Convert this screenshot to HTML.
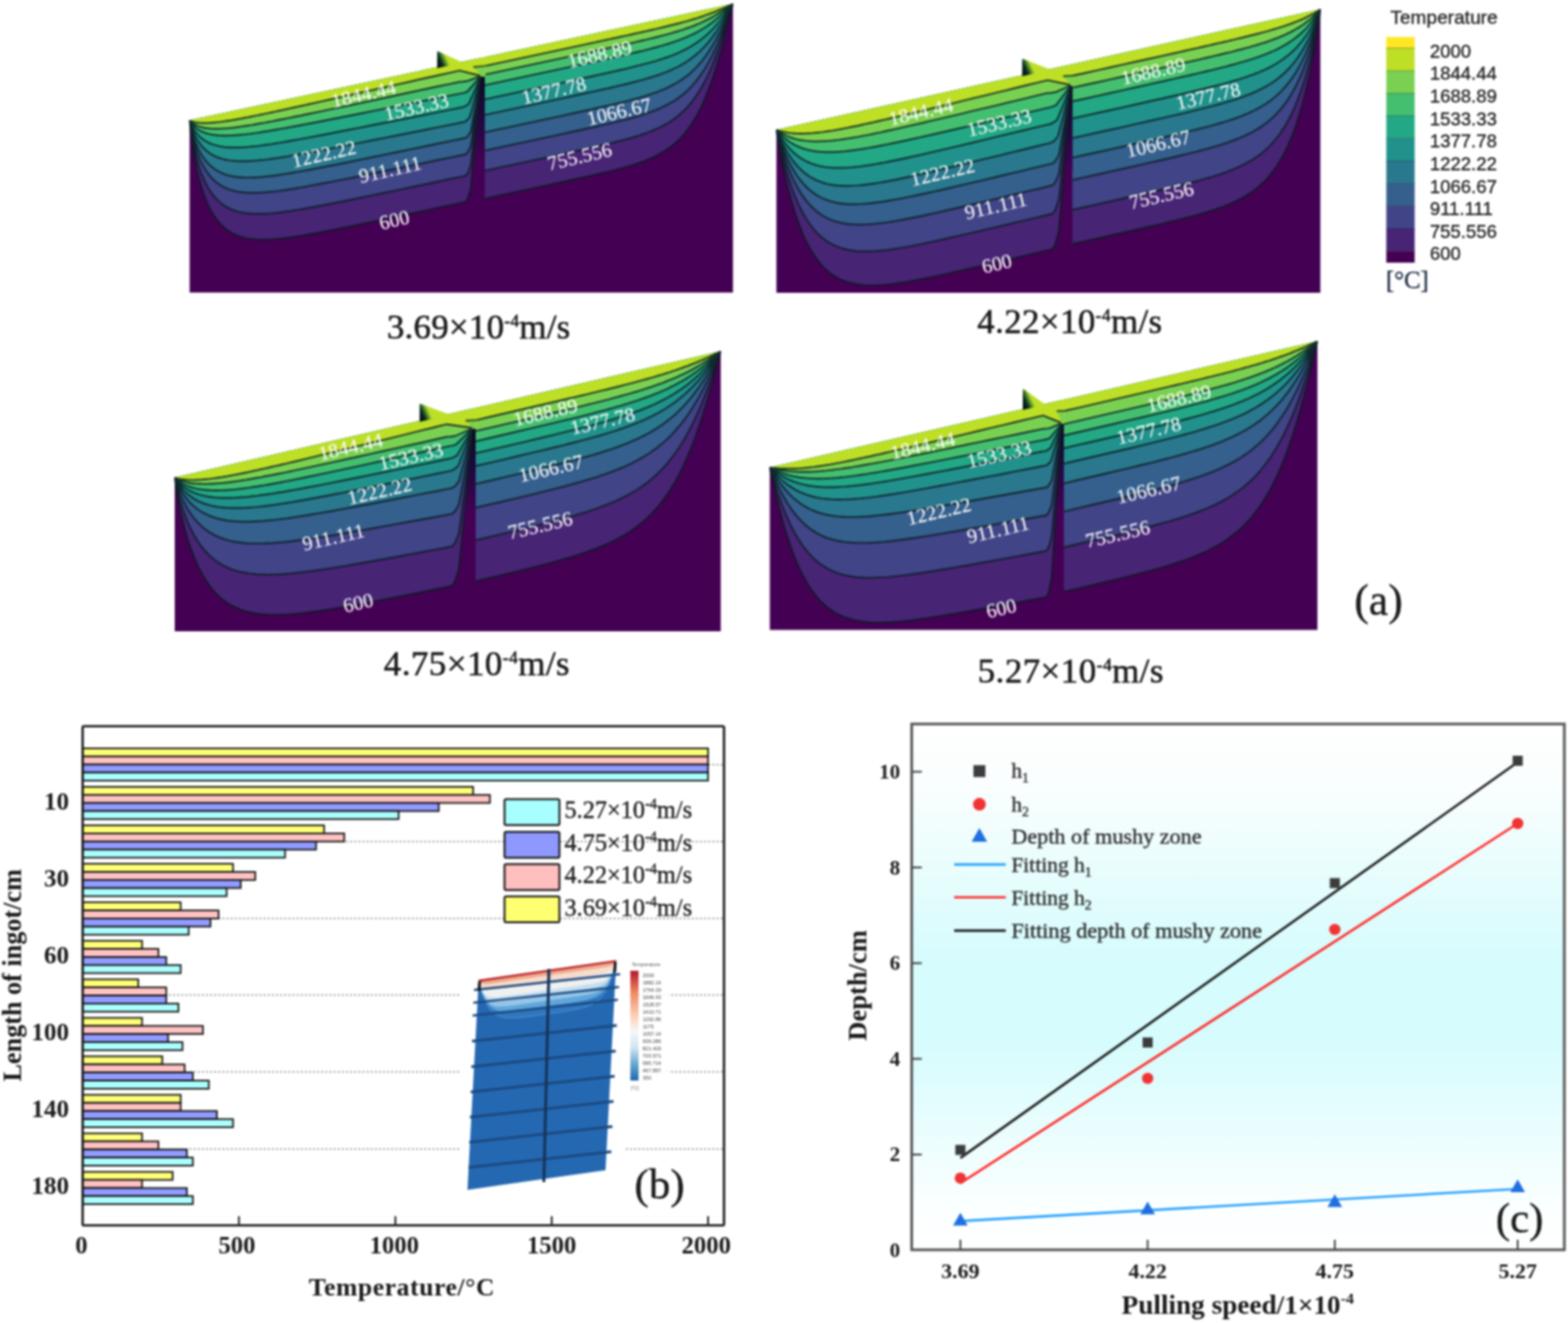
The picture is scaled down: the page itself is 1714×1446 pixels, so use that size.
<!DOCTYPE html>
<html><head><meta charset="utf-8"><title>Figure</title>
<style>
html,body{margin:0;padding:0;background:#fff;}
body{width:1714px;height:1446px;overflow:hidden;}
svg{display:block;}
text{font-family:"Liberation Serif","DejaVu Serif",serif;}
.cl{font-size:22px;fill:#fcfcfc;stroke:#fcfcfc;stroke-width:0.12px;text-anchor:middle;}
.cap{font-size:38px;fill:#1a1a1a;}
.sans{font-family:"Liberation Sans","DejaVu Sans",sans-serif;}
.b{font-weight:bold;}
</style></head><body>
<svg width="1714" height="1446" viewBox="0 0 1714 1446">
<rect width="1714" height="1446" fill="#fff"/>
<defs><filter id="soft" x="-2%" y="-2%" width="104%" height="104%" color-interpolation-filters="sRGB"><feGaussianBlur stdDeviation="0.9"/></filter></defs>
<g filter="url(#soft)">
<g id="panels">
<g><path d="M207.3 131.5 L801.2 4.3 L801.2 319.7 L207.3 319.7Z" fill="#440154"/>
<path d="M207.3 131.5 L207.3 131.5 L209.3 151 L211.3 164.6 L213.3 175.9 L215.3 185.6 L217.3 193.9 L219.3 201.3 L221.3 207.8 L223.3 213.6 L225.3 218.8 L227.3 223.4 L229.3 227.6 L231.3 231.3 L233.3 234.7 L235.3 237.7 L237.3 240.5 L239.3 242.9 L241.3 245.2 L243.3 247.2 L245.3 249 L247.3 250.6 L249.3 252.1 L251.3 253.4 L253.3 254.6 L255.3 255.6 L257.3 256.6 L259.3 257.4 L261.3 258.2 L263.3 258.8 L265.3 259.4 L267.3 259.9 L269.3 260.4 L271.3 260.7 L273.3 261 L275.3 261.3 L277.3 261.5 L281.3 261.8 L285.3 262 L289.3 262 L293.3 261.8 L297.3 261.6 L301.3 261.3 L305.3 261 L309.3 260.5 L313.3 260.1 L317.3 259.5 L321.3 258.9 L325.3 258.3 L329.3 257.7 L333.3 257 L337.3 256.3 L351.3 253.8 L365.3 251 L379.3 248.2 L393.3 245.3 L407.3 242.4 L421.3 239.4 L435.3 236.4 L449.3 233.4 L463.3 230.4 L477.3 227.4 L491.3 224.4 L505.3 221.4 L509.2 220.5 L511.6 216.4 L514.7 205.4 L526 83 L526 63.2Z" fill="#482475"/>
<path d="M207.3 131.5 L207.3 131.5 L209.3 147.1 L211.3 158.1 L213.3 167.1 L215.3 174.8 L217.3 181.5 L219.3 187.3 L221.3 192.5 L223.3 197.1 L225.3 201.2 L227.3 204.9 L229.3 208.2 L231.3 211.1 L233.3 213.7 L235.3 216.1 L237.3 218.2 L239.3 220.2 L241.3 221.9 L243.3 223.4 L245.3 224.8 L247.3 226.1 L249.3 227.2 L251.3 228.2 L253.3 229 L255.3 229.8 L257.3 230.5 L259.3 231.1 L261.3 231.6 L263.3 232.1 L265.3 232.5 L267.3 232.8 L269.3 233.1 L271.3 233.3 L273.3 233.5 L275.3 233.7 L277.3 233.8 L281.3 233.8 L285.3 233.8 L289.3 233.7 L293.3 233.4 L297.3 233.1 L301.3 232.7 L305.3 232.3 L309.3 231.8 L313.3 231.2 L317.3 230.7 L321.3 230 L325.3 229.4 L329.3 228.7 L333.3 228 L337.3 227.3 L351.3 224.7 L365.3 222 L379.3 219.2 L393.3 216.3 L407.3 213.4 L421.3 210.5 L435.3 207.6 L449.3 204.7 L463.3 201.7 L477.3 198.8 L491.3 195.8 L505.3 192.9 L509.2 192 L511.6 188.8 L514.7 180 L526 83 L526 63.2Z" fill="#414487"/>
<path d="M207.3 131.5 L207.3 131.5 L209.3 143.9 L211.3 152.6 L213.3 159.8 L215.3 165.9 L217.3 171.1 L219.3 175.8 L221.3 179.8 L223.3 183.4 L225.3 186.7 L227.3 189.5 L229.3 192.1 L231.3 194.4 L233.3 196.4 L235.3 198.2 L237.3 199.9 L239.3 201.3 L241.3 202.6 L243.3 203.8 L245.3 204.8 L247.3 205.8 L249.3 206.6 L251.3 207.3 L253.3 207.9 L255.3 208.5 L257.3 209 L259.3 209.4 L261.3 209.7 L263.3 210 L265.3 210.2 L267.3 210.4 L269.3 210.6 L271.3 210.7 L273.3 210.8 L275.3 210.8 L277.3 210.8 L281.3 210.7 L285.3 210.6 L289.3 210.3 L293.3 210 L297.3 209.5 L301.3 209.1 L305.3 208.6 L309.3 208 L313.3 207.5 L317.3 206.8 L321.3 206.2 L325.3 205.5 L329.3 204.9 L333.3 204.2 L337.3 203.4 L351.3 200.8 L365.3 198.1 L379.3 195.4 L393.3 192.5 L407.3 189.7 L421.3 186.8 L435.3 184 L449.3 181.1 L463.3 178.2 L477.3 175.3 L491.3 172.4 L505.3 169.5 L509.2 168.7 L511.6 166.2 L514.7 159.3 L526 83 L526 63.2Z" fill="#355f8d"/>
<path d="M207.3 131.5 L207.3 131.5 L209.3 141.6 L211.3 148.7 L213.3 154.5 L215.3 159.4 L217.3 163.7 L219.3 167.4 L221.3 170.7 L223.3 173.5 L225.3 176.1 L227.3 178.4 L229.3 180.4 L231.3 182.2 L233.3 183.8 L235.3 185.2 L237.3 186.5 L239.3 187.6 L241.3 188.6 L243.3 189.5 L245.3 190.3 L247.3 191 L249.3 191.6 L251.3 192.1 L253.3 192.5 L255.3 192.9 L257.3 193.2 L259.3 193.5 L261.3 193.7 L263.3 193.8 L265.3 194 L267.3 194.1 L269.3 194.1 L271.3 194.1 L273.3 194.1 L275.3 194.1 L277.3 194 L281.3 193.8 L285.3 193.5 L289.3 193.1 L293.3 192.7 L297.3 192.2 L301.3 191.7 L305.3 191.1 L309.3 190.5 L313.3 189.9 L317.3 189.2 L321.3 188.5 L325.3 187.9 L329.3 187.1 L333.3 186.4 L337.3 185.7 L351.3 183 L365.3 180.3 L379.3 177.5 L393.3 174.6 L407.3 171.8 L421.3 168.9 L435.3 166 L449.3 163.1 L463.3 160.2 L477.3 157.3 L491.3 154.4 L505.3 151.5 L509.2 150.7 L511.6 148.7 L514.7 143.3 L526 83 L526 63.2Z" fill="#2a788e"/>
<path d="M207.3 131.5 L207.3 131.5 L209.3 139.1 L211.3 144.3 L213.3 148.6 L215.3 152.2 L217.3 155.4 L219.3 158.1 L221.3 160.5 L223.3 162.6 L225.3 164.4 L227.3 166 L229.3 167.5 L231.3 168.8 L233.3 169.9 L235.3 170.9 L237.3 171.8 L239.3 172.5 L241.3 173.2 L243.3 173.8 L245.3 174.3 L247.3 174.7 L249.3 175.1 L251.3 175.4 L253.3 175.6 L255.3 175.8 L257.3 176 L259.3 176.1 L261.3 176.2 L263.3 176.2 L265.3 176.2 L267.3 176.2 L269.3 176.2 L271.3 176.1 L273.3 176 L275.3 175.9 L277.3 175.7 L281.3 175.4 L285.3 175 L289.3 174.6 L293.3 174.1 L297.3 173.5 L301.3 173 L305.3 172.4 L309.3 171.7 L313.3 171.1 L317.3 170.4 L321.3 169.7 L325.3 169 L329.3 168.3 L333.3 167.6 L337.3 166.9 L351.3 164.3 L365.3 161.6 L379.3 158.9 L393.3 156.1 L407.3 153.3 L421.3 150.6 L435.3 147.8 L449.3 145 L463.3 142.2 L477.3 139.4 L491.3 136.6 L505.3 133.8 L507.5 133.4 L510.1 131.9 L513.6 127.8 L526 83 L526 63.2Z" fill="#21918c"/>
<path d="M207.3 131.5 L207.3 131.5 L209.3 136.9 L211.3 140.6 L213.3 143.6 L215.3 146.2 L217.3 148.4 L219.3 150.2 L221.3 151.9 L223.3 153.3 L225.3 154.5 L227.3 155.6 L229.3 156.6 L231.3 157.4 L233.3 158.1 L235.3 158.7 L237.3 159.2 L239.3 159.7 L241.3 160.1 L243.3 160.4 L245.3 160.7 L247.3 160.9 L249.3 161 L251.3 161.2 L253.3 161.2 L255.3 161.3 L257.3 161.3 L259.3 161.3 L261.3 161.2 L263.3 161.1 L265.3 161 L267.3 160.9 L269.3 160.8 L271.3 160.6 L273.3 160.4 L275.3 160.2 L277.3 160 L281.3 159.6 L285.3 159.1 L289.3 158.5 L293.3 158 L297.3 157.4 L301.3 156.7 L305.3 156.1 L309.3 155.4 L313.3 154.7 L317.3 154 L321.3 153.3 L325.3 152.6 L329.3 151.9 L333.3 151.1 L337.3 150.4 L351.3 147.7 L365.3 145 L379.3 142.3 L393.3 139.6 L407.3 136.8 L421.3 134 L435.3 131.2 L449.3 128.5 L463.3 125.7 L477.3 122.9 L491.3 120.1 L505.3 117.3 L505.8 117.2 L508.6 116.2 L512.5 113.5 L526 83 L526 63.2Z" fill="#22a884"/>
<path d="M207.3 131.5 L207.3 131.5 L209.3 134.9 L211.3 137.3 L213.3 139.1 L215.3 140.7 L217.3 142 L219.3 143.1 L221.3 144 L223.3 144.8 L225.3 145.5 L227.3 146.1 L229.3 146.6 L231.3 147 L233.3 147.3 L235.3 147.6 L237.3 147.8 L239.3 148 L241.3 148.1 L243.3 148.2 L245.3 148.2 L247.3 148.2 L249.3 148.2 L251.3 148.1 L253.3 148 L255.3 147.9 L257.3 147.8 L259.3 147.7 L261.3 147.5 L263.3 147.3 L265.3 147.1 L267.3 146.9 L269.3 146.7 L271.3 146.4 L273.3 146.2 L275.3 145.9 L277.3 145.6 L281.3 145.1 L285.3 144.5 L289.3 143.8 L293.3 143.2 L297.3 142.5 L301.3 141.8 L305.3 141.1 L309.3 140.4 L313.3 139.7 L317.3 138.9 L321.3 138.2 L325.3 137.5 L329.3 136.7 L333.3 135.9 L337.3 135.2 L351.3 132.5 L365.3 129.7 L379.3 127 L393.3 124.2 L407.3 121.4 L421.3 118.6 L435.3 115.8 L449.3 113 L463.3 110.2 L477.3 107.4 L491.3 104.6 L503.8 102.1 L506.9 101.6 L511.1 100 L526 83 L526 63.2Z" fill="#44bf70"/>
<path d="M207.3 131.5 L207.3 131.5 L209.3 133.8 L211.3 135.2 L213.3 136.4 L215.3 137.3 L217.3 138.1 L219.3 138.7 L221.3 139.3 L223.3 139.7 L225.3 140 L227.3 140.3 L229.3 140.5 L231.3 140.6 L233.3 140.7 L235.3 140.7 L237.3 140.7 L239.3 140.7 L241.3 140.6 L243.3 140.5 L245.3 140.4 L247.3 140.3 L249.3 140.1 L251.3 139.9 L253.3 139.7 L255.3 139.5 L257.3 139.2 L259.3 139 L261.3 138.7 L263.3 138.4 L265.3 138.1 L267.3 137.8 L269.3 137.5 L271.3 137.2 L273.3 136.9 L275.3 136.6 L277.3 136.2 L281.3 135.5 L285.3 134.8 L289.3 134.1 L293.3 133.3 L297.3 132.6 L301.3 131.8 L305.3 131 L309.3 130.2 L313.3 129.4 L317.3 128.6 L321.3 127.8 L325.3 127 L329.3 126.2 L333.3 125.3 L337.3 124.5 L351.3 121.6 L365.3 118.6 L379.3 115.7 L393.3 112.7 L407.3 109.7 L421.3 106.8 L435.3 103.8 L449.3 100.8 L463.3 97.8 L477.3 94.8 L491.3 91.9 L502.4 89.5 L505.7 89.3 L510.2 88.8 L526 83 L526 63.2Z" fill="#7ad151"/>
<path d="M207.3 131.5 L207.3 131.5 L209.3 132.6 L211.3 133.2 L213.3 133.7 L215.3 134 L217.3 134.2 L219.3 134.4 L221.3 134.5 L223.3 134.5 L225.3 134.5 L227.3 134.4 L229.3 134.3 L231.3 134.2 L233.3 134 L235.3 133.8 L237.3 133.6 L239.3 133.4 L241.3 133.2 L243.3 132.9 L245.3 132.6 L247.3 132.3 L249.3 132 L251.3 131.7 L253.3 131.4 L255.3 131 L257.3 130.7 L259.3 130.3 L261.3 130 L263.3 129.6 L265.3 129.2 L267.3 128.8 L269.3 128.5 L271.3 128.1 L273.3 127.7 L275.3 127.3 L277.3 126.9 L281.3 126.1 L285.3 125.2 L289.3 124.4 L293.3 123.6 L297.3 122.7 L301.3 121.9 L305.3 121 L309.3 120.1 L313.3 119.3 L317.3 118.4 L321.3 117.5 L325.3 116.6 L329.3 115.8 L333.3 114.9 L337.3 114 L351.3 110.9 L365.3 107.8 L379.3 104.6 L393.3 101.5 L407.3 98.4 L421.3 95.2 L435.3 92.1 L449.3 89 L463.3 85.8 L477.3 82.7 L491.3 79.6 L502.4 77.1 L526 83 L526 63.2Z" fill="#bddf26"/>
<path d="M530 62.4 L530 217.1 L544 214.1 L558 211.1 L572 208.1 L586 205.1 L600 202.1 L614 199 L628 196 L642 192.9 L646 192 L650 191.1 L654 190.1 L658 189.2 L662 188.3 L666 187.3 L670 186.3 L674 185.3 L678 184.2 L682 183.1 L686 182 L690 180.8 L694 179.6 L698 178.2 L702 176.8 L706 175.3 L710 173.7 L714 171.9 L716 170.9 L718 169.9 L720 168.9 L722 167.8 L724 166.6 L726 165.4 L728 164.1 L730 162.8 L732 161.3 L734 159.8 L736 158.2 L738 156.5 L740 154.7 L742 152.8 L744 150.8 L746 148.6 L748 146.3 L750 143.9 L752 141.3 L754 138.5 L756 135.6 L758 132.5 L760 129.2 L762 125.6 L764 121.9 L766 117.9 L768 113.7 L770 109.2 L772 104.4 L774 99.4 L776 94 L778 88.4 L780 82.5 L782 76.2 L784 69.6 L786 62.7 L788 55.5 L790 47.9 L792 40.2 L794 32.2 L796 24 L798 15.9 L800 8.2 L801.2 4.3Z" fill="#482475"/>
<path d="M530 62.4 L530 186.6 L544 183.6 L558 180.6 L572 177.6 L586 174.6 L600 171.6 L614 168.5 L628 165.5 L642 162.4 L646 161.5 L650 160.6 L654 159.7 L658 158.8 L662 157.9 L666 156.9 L670 156 L674 155 L678 154 L682 152.9 L686 151.8 L690 150.7 L694 149.5 L698 148.3 L702 147 L706 145.6 L710 144.1 L714 142.5 L716 141.7 L718 140.8 L720 139.9 L722 138.9 L724 137.9 L726 136.8 L728 135.7 L730 134.5 L732 133.3 L734 132 L736 130.6 L738 129.2 L740 127.7 L742 126 L744 124.3 L746 122.5 L748 120.6 L750 118.5 L752 116.4 L754 114.1 L756 111.6 L758 109 L760 106.3 L762 103.4 L764 100.3 L766 97 L768 93.5 L770 89.8 L772 85.9 L774 81.8 L776 77.4 L778 72.8 L780 67.9 L782 62.8 L784 57.4 L786 51.8 L788 45.9 L790 39.8 L792 33.5 L794 27 L796 20.4 L798 13.8 L800 7.5 L801.2 4.3Z" fill="#414487"/>
<path d="M530 62.4 L530 164.6 L544 161.6 L558 158.6 L572 155.6 L586 152.6 L600 149.6 L614 146.6 L628 143.5 L642 140.5 L646 139.6 L650 138.7 L654 137.8 L658 136.9 L662 135.9 L666 135 L670 134.1 L674 133.1 L678 132.1 L682 131.1 L686 130.1 L690 129 L694 127.9 L698 126.7 L702 125.5 L706 124.2 L710 122.8 L714 121.3 L716 120.6 L718 119.8 L720 118.9 L722 118.1 L724 117.2 L726 116.2 L728 115.2 L730 114.2 L732 113.1 L734 111.9 L736 110.7 L738 109.5 L740 108.1 L742 106.7 L744 105.2 L746 103.7 L748 102 L750 100.2 L752 98.4 L754 96.4 L756 94.3 L758 92.1 L760 89.8 L762 87.3 L764 84.7 L766 81.9 L768 79 L770 75.9 L772 72.6 L774 69.1 L776 65.4 L778 61.6 L780 57.5 L782 53.2 L784 48.7 L786 44 L788 39.1 L790 33.9 L792 28.7 L794 23.2 L796 17.7 L798 12.2 L800 7 L801.2 4.3Z" fill="#355f8d"/>
<path d="M530 62.4 L530 144.6 L544 141.6 L558 138.6 L572 135.6 L586 132.6 L600 129.6 L614 126.6 L628 123.5 L642 120.5 L646 119.6 L650 118.7 L654 117.8 L658 116.9 L662 116 L666 115.1 L670 114.2 L674 113.2 L678 112.3 L682 111.3 L686 110.3 L690 109.2 L694 108.2 L698 107.1 L702 105.9 L706 104.7 L710 103.4 L714 102.1 L716 101.4 L718 100.7 L720 99.9 L722 99.1 L724 98.3 L726 97.5 L728 96.6 L730 95.7 L732 94.7 L734 93.7 L736 92.6 L738 91.5 L740 90.4 L742 89.2 L744 87.9 L746 86.5 L748 85.1 L750 83.6 L752 82 L754 80.4 L756 78.6 L758 76.8 L760 74.8 L762 72.7 L764 70.5 L766 68.2 L768 65.8 L770 63.2 L772 60.4 L774 57.6 L776 54.5 L778 51.3 L780 48 L782 44.4 L784 40.7 L786 36.8 L788 32.8 L790 28.6 L792 24.3 L794 19.8 L796 15.3 L798 10.8 L800 6.5 L801.2 4.3Z" fill="#2a788e"/>
<path d="M530 62.4 L530 125.6 L544 122.6 L558 119.6 L572 116.6 L586 113.6 L600 110.6 L614 107.6 L628 104.5 L642 101.5 L646 100.6 L650 99.8 L654 98.9 L658 98 L662 97.1 L666 96.2 L670 95.3 L674 94.3 L678 93.4 L682 92.5 L686 91.5 L690 90.5 L694 89.5 L698 88.4 L702 87.3 L706 86.2 L710 85 L714 83.8 L716 83.2 L718 82.5 L720 81.8 L722 81.1 L724 80.4 L726 79.6 L728 78.9 L730 78.1 L732 77.2 L734 76.4 L736 75.4 L738 74.5 L740 73.5 L742 72.5 L744 71.4 L746 70.3 L748 69.1 L750 67.8 L752 66.5 L754 65.1 L756 63.7 L758 62.1 L760 60.5 L762 58.8 L764 57.1 L766 55.2 L768 53.2 L770 51.1 L772 48.9 L774 46.6 L776 44.2 L778 41.6 L780 38.9 L782 36.1 L784 33.2 L786 30.1 L788 26.9 L790 23.6 L792 20.1 L794 16.6 L796 13 L798 9.5 L800 6 L801.2 4.3Z" fill="#21918c"/>
<path d="M530 62.4 L530 108.6 L544 105.6 L558 102.6 L572 99.6 L586 96.6 L600 93.6 L614 90.6 L628 87.6 L642 84.5 L646 83.7 L650 82.8 L654 81.9 L658 81 L662 80.1 L666 79.3 L670 78.4 L674 77.5 L678 76.5 L682 75.6 L686 74.7 L690 73.7 L694 72.7 L698 71.7 L702 70.7 L706 69.7 L710 68.6 L714 67.4 L716 66.9 L718 66.3 L720 65.7 L722 65 L724 64.4 L726 63.7 L728 63 L730 62.3 L732 61.6 L734 60.8 L736 60.1 L738 59.3 L740 58.4 L742 57.5 L744 56.6 L746 55.7 L748 54.7 L750 53.7 L752 52.6 L754 51.5 L756 50.3 L758 49.1 L760 47.8 L762 46.4 L764 45 L766 43.5 L768 42 L770 40.3 L772 38.6 L774 36.8 L776 34.9 L778 32.9 L780 30.8 L782 28.7 L784 26.4 L786 24 L788 21.6 L790 19 L792 16.4 L794 13.7 L796 11 L798 8.3 L800 5.6 L801.2 4.3Z" fill="#22a884"/>
<path d="M530 62.4 L530 93.1 L544 90.1 L558 87.1 L572 84.1 L586 81.1 L600 78.1 L614 75.1 L628 72.1 L642 69.1 L646 68.2 L650 67.3 L654 66.5 L658 65.6 L662 64.7 L666 63.8 L670 62.9 L674 62.1 L678 61.2 L682 60.3 L686 59.3 L690 58.4 L694 57.5 L698 56.5 L702 55.6 L706 54.6 L710 53.6 L714 52.5 L716 52 L718 51.5 L720 50.9 L722 50.3 L724 49.8 L726 49.2 L728 48.6 L730 48 L732 47.3 L734 46.7 L736 46 L738 45.4 L740 44.7 L742 43.9 L744 43.2 L746 42.4 L748 41.6 L750 40.8 L752 39.9 L754 39 L756 38.1 L758 37.2 L760 36.2 L762 35.1 L764 34 L766 32.9 L768 31.7 L770 30.5 L772 29.2 L774 27.8 L776 26.4 L778 25 L780 23.4 L782 21.9 L784 20.2 L786 18.5 L788 16.7 L790 14.9 L792 13 L794 11.1 L796 9.1 L798 7.2 L800 5.3 L801.2 4.3Z" fill="#44bf70"/>
<path d="M530 62.4 L530 81.6 L544 78.6 L558 75.6 L572 72.6 L586 69.6 L600 66.6 L614 63.6 L628 60.6 L642 57.6 L646 56.7 L650 55.8 L654 55 L658 54.1 L662 53.2 L666 52.4 L670 51.5 L674 50.6 L678 49.7 L682 48.9 L686 48 L690 47.1 L694 46.2 L698 45.2 L702 44.3 L706 43.4 L710 42.4 L714 41.5 L716 41 L718 40.5 L720 40 L722 39.4 L724 38.9 L726 38.4 L728 37.9 L730 37.3 L732 36.8 L734 36.2 L736 35.6 L738 35 L740 34.5 L742 33.8 L744 33.2 L746 32.6 L748 31.9 L750 31.2 L752 30.5 L754 29.8 L756 29.1 L758 28.3 L760 27.5 L762 26.7 L764 25.9 L766 25 L768 24.1 L770 23.2 L772 22.2 L774 21.2 L776 20.2 L778 19.1 L780 18 L782 16.8 L784 15.6 L786 14.4 L788 13.1 L790 11.8 L792 10.5 L794 9.1 L796 7.7 L798 6.3 L800 5 L801.2 4.3Z" fill="#7ad151"/>
<path d="M530 62.4 L530 72.1 L544 69.1 L558 66.1 L572 63.1 L586 60.1 L600 57.1 L614 54.1 L628 51.1 L642 48.1 L646 47.2 L650 46.4 L654 45.5 L658 44.6 L662 43.8 L666 42.9 L670 42 L674 41.2 L678 40.3 L682 39.4 L686 38.6 L690 37.7 L694 36.8 L698 35.9 L702 35 L706 34.1 L710 33.2 L714 32.3 L716 31.9 L718 31.4 L720 30.9 L722 30.5 L724 30 L726 29.5 L728 29 L730 28.5 L732 28 L734 27.5 L736 27 L738 26.5 L740 26 L742 25.5 L744 25 L746 24.4 L748 23.9 L750 23.3 L752 22.8 L754 22.2 L756 21.6 L758 21 L760 20.4 L762 19.8 L764 19.1 L766 18.5 L768 17.8 L770 17.1 L772 16.4 L774 15.7 L776 15 L778 14.2 L780 13.5 L782 12.7 L784 11.8 L786 11 L788 10.2 L790 9.3 L792 8.4 L794 7.5 L796 6.6 L798 5.7 L800 4.8 L801.2 4.3Z" fill="#bddf26"/>
<path d="M207.3 131.5 L209.3 151 L211.3 164.6 L213.3 175.9 L215.3 185.6 L217.3 193.9 L219.3 201.3 L221.3 207.8 L223.3 213.6 L225.3 218.8 L227.3 223.4 L229.3 227.6 L231.3 231.3 L233.3 234.7 L235.3 237.7 L237.3 240.5 L239.3 242.9 L241.3 245.2 L243.3 247.2 L245.3 249 L247.3 250.6 L249.3 252.1 L251.3 253.4 L253.3 254.6 L255.3 255.6 L257.3 256.6 L259.3 257.4 L261.3 258.2 L263.3 258.8 L265.3 259.4 L267.3 259.9 L269.3 260.4 L271.3 260.7 L273.3 261 L275.3 261.3 L277.3 261.5 L281.3 261.8 L285.3 262 L289.3 262 L293.3 261.8 L297.3 261.6 L301.3 261.3 L305.3 261 L309.3 260.5 L313.3 260.1 L317.3 259.5 L321.3 258.9 L325.3 258.3 L329.3 257.7 L333.3 257 L337.3 256.3 L351.3 253.8 L365.3 251 L379.3 248.2 L393.3 245.3 L407.3 242.4 L421.3 239.4 L435.3 236.4 L449.3 233.4 L463.3 230.4 L477.3 227.4 L491.3 224.4 L505.3 221.4 L509.2 220.5 L511.6 216.4 L514.7 205.4 L526 83 M207.3 131.5 L209.3 147.1 L211.3 158.1 L213.3 167.1 L215.3 174.8 L217.3 181.5 L219.3 187.3 L221.3 192.5 L223.3 197.1 L225.3 201.2 L227.3 204.9 L229.3 208.2 L231.3 211.1 L233.3 213.7 L235.3 216.1 L237.3 218.2 L239.3 220.2 L241.3 221.9 L243.3 223.4 L245.3 224.8 L247.3 226.1 L249.3 227.2 L251.3 228.2 L253.3 229 L255.3 229.8 L257.3 230.5 L259.3 231.1 L261.3 231.6 L263.3 232.1 L265.3 232.5 L267.3 232.8 L269.3 233.1 L271.3 233.3 L273.3 233.5 L275.3 233.7 L277.3 233.8 L281.3 233.8 L285.3 233.8 L289.3 233.7 L293.3 233.4 L297.3 233.1 L301.3 232.7 L305.3 232.3 L309.3 231.8 L313.3 231.2 L317.3 230.7 L321.3 230 L325.3 229.4 L329.3 228.7 L333.3 228 L337.3 227.3 L351.3 224.7 L365.3 222 L379.3 219.2 L393.3 216.3 L407.3 213.4 L421.3 210.5 L435.3 207.6 L449.3 204.7 L463.3 201.7 L477.3 198.8 L491.3 195.8 L505.3 192.9 L509.2 192 L511.6 188.8 L514.7 180 L526 83 M207.3 131.5 L209.3 143.9 L211.3 152.6 L213.3 159.8 L215.3 165.9 L217.3 171.1 L219.3 175.8 L221.3 179.8 L223.3 183.4 L225.3 186.7 L227.3 189.5 L229.3 192.1 L231.3 194.4 L233.3 196.4 L235.3 198.2 L237.3 199.9 L239.3 201.3 L241.3 202.6 L243.3 203.8 L245.3 204.8 L247.3 205.8 L249.3 206.6 L251.3 207.3 L253.3 207.9 L255.3 208.5 L257.3 209 L259.3 209.4 L261.3 209.7 L263.3 210 L265.3 210.2 L267.3 210.4 L269.3 210.6 L271.3 210.7 L273.3 210.8 L275.3 210.8 L277.3 210.8 L281.3 210.7 L285.3 210.6 L289.3 210.3 L293.3 210 L297.3 209.5 L301.3 209.1 L305.3 208.6 L309.3 208 L313.3 207.5 L317.3 206.8 L321.3 206.2 L325.3 205.5 L329.3 204.9 L333.3 204.2 L337.3 203.4 L351.3 200.8 L365.3 198.1 L379.3 195.4 L393.3 192.5 L407.3 189.7 L421.3 186.8 L435.3 184 L449.3 181.1 L463.3 178.2 L477.3 175.3 L491.3 172.4 L505.3 169.5 L509.2 168.7 L511.6 166.2 L514.7 159.3 L526 83 M207.3 131.5 L209.3 141.6 L211.3 148.7 L213.3 154.5 L215.3 159.4 L217.3 163.7 L219.3 167.4 L221.3 170.7 L223.3 173.5 L225.3 176.1 L227.3 178.4 L229.3 180.4 L231.3 182.2 L233.3 183.8 L235.3 185.2 L237.3 186.5 L239.3 187.6 L241.3 188.6 L243.3 189.5 L245.3 190.3 L247.3 191 L249.3 191.6 L251.3 192.1 L253.3 192.5 L255.3 192.9 L257.3 193.2 L259.3 193.5 L261.3 193.7 L263.3 193.8 L265.3 194 L267.3 194.1 L269.3 194.1 L271.3 194.1 L273.3 194.1 L275.3 194.1 L277.3 194 L281.3 193.8 L285.3 193.5 L289.3 193.1 L293.3 192.7 L297.3 192.2 L301.3 191.7 L305.3 191.1 L309.3 190.5 L313.3 189.9 L317.3 189.2 L321.3 188.5 L325.3 187.9 L329.3 187.1 L333.3 186.4 L337.3 185.7 L351.3 183 L365.3 180.3 L379.3 177.5 L393.3 174.6 L407.3 171.8 L421.3 168.9 L435.3 166 L449.3 163.1 L463.3 160.2 L477.3 157.3 L491.3 154.4 L505.3 151.5 L509.2 150.7 L511.6 148.7 L514.7 143.3 L526 83 M207.3 131.5 L209.3 139.1 L211.3 144.3 L213.3 148.6 L215.3 152.2 L217.3 155.4 L219.3 158.1 L221.3 160.5 L223.3 162.6 L225.3 164.4 L227.3 166 L229.3 167.5 L231.3 168.8 L233.3 169.9 L235.3 170.9 L237.3 171.8 L239.3 172.5 L241.3 173.2 L243.3 173.8 L245.3 174.3 L247.3 174.7 L249.3 175.1 L251.3 175.4 L253.3 175.6 L255.3 175.8 L257.3 176 L259.3 176.1 L261.3 176.2 L263.3 176.2 L265.3 176.2 L267.3 176.2 L269.3 176.2 L271.3 176.1 L273.3 176 L275.3 175.9 L277.3 175.7 L281.3 175.4 L285.3 175 L289.3 174.6 L293.3 174.1 L297.3 173.5 L301.3 173 L305.3 172.4 L309.3 171.7 L313.3 171.1 L317.3 170.4 L321.3 169.7 L325.3 169 L329.3 168.3 L333.3 167.6 L337.3 166.9 L351.3 164.3 L365.3 161.6 L379.3 158.9 L393.3 156.1 L407.3 153.3 L421.3 150.6 L435.3 147.8 L449.3 145 L463.3 142.2 L477.3 139.4 L491.3 136.6 L505.3 133.8 L507.5 133.4 L510.1 131.9 L513.6 127.8 L526 83 M207.3 131.5 L209.3 136.9 L211.3 140.6 L213.3 143.6 L215.3 146.2 L217.3 148.4 L219.3 150.2 L221.3 151.9 L223.3 153.3 L225.3 154.5 L227.3 155.6 L229.3 156.6 L231.3 157.4 L233.3 158.1 L235.3 158.7 L237.3 159.2 L239.3 159.7 L241.3 160.1 L243.3 160.4 L245.3 160.7 L247.3 160.9 L249.3 161 L251.3 161.2 L253.3 161.2 L255.3 161.3 L257.3 161.3 L259.3 161.3 L261.3 161.2 L263.3 161.1 L265.3 161 L267.3 160.9 L269.3 160.8 L271.3 160.6 L273.3 160.4 L275.3 160.2 L277.3 160 L281.3 159.6 L285.3 159.1 L289.3 158.5 L293.3 158 L297.3 157.4 L301.3 156.7 L305.3 156.1 L309.3 155.4 L313.3 154.7 L317.3 154 L321.3 153.3 L325.3 152.6 L329.3 151.9 L333.3 151.1 L337.3 150.4 L351.3 147.7 L365.3 145 L379.3 142.3 L393.3 139.6 L407.3 136.8 L421.3 134 L435.3 131.2 L449.3 128.5 L463.3 125.7 L477.3 122.9 L491.3 120.1 L505.3 117.3 L505.8 117.2 L508.6 116.2 L512.5 113.5 L526 83 M207.3 131.5 L209.3 134.9 L211.3 137.3 L213.3 139.1 L215.3 140.7 L217.3 142 L219.3 143.1 L221.3 144 L223.3 144.8 L225.3 145.5 L227.3 146.1 L229.3 146.6 L231.3 147 L233.3 147.3 L235.3 147.6 L237.3 147.8 L239.3 148 L241.3 148.1 L243.3 148.2 L245.3 148.2 L247.3 148.2 L249.3 148.2 L251.3 148.1 L253.3 148 L255.3 147.9 L257.3 147.8 L259.3 147.7 L261.3 147.5 L263.3 147.3 L265.3 147.1 L267.3 146.9 L269.3 146.7 L271.3 146.4 L273.3 146.2 L275.3 145.9 L277.3 145.6 L281.3 145.1 L285.3 144.5 L289.3 143.8 L293.3 143.2 L297.3 142.5 L301.3 141.8 L305.3 141.1 L309.3 140.4 L313.3 139.7 L317.3 138.9 L321.3 138.2 L325.3 137.5 L329.3 136.7 L333.3 135.9 L337.3 135.2 L351.3 132.5 L365.3 129.7 L379.3 127 L393.3 124.2 L407.3 121.4 L421.3 118.6 L435.3 115.8 L449.3 113 L463.3 110.2 L477.3 107.4 L491.3 104.6 L503.8 102.1 L506.9 101.6 L511.1 100 L526 83 M207.3 131.5 L209.3 133.8 L211.3 135.2 L213.3 136.4 L215.3 137.3 L217.3 138.1 L219.3 138.7 L221.3 139.3 L223.3 139.7 L225.3 140 L227.3 140.3 L229.3 140.5 L231.3 140.6 L233.3 140.7 L235.3 140.7 L237.3 140.7 L239.3 140.7 L241.3 140.6 L243.3 140.5 L245.3 140.4 L247.3 140.3 L249.3 140.1 L251.3 139.9 L253.3 139.7 L255.3 139.5 L257.3 139.2 L259.3 139 L261.3 138.7 L263.3 138.4 L265.3 138.1 L267.3 137.8 L269.3 137.5 L271.3 137.2 L273.3 136.9 L275.3 136.6 L277.3 136.2 L281.3 135.5 L285.3 134.8 L289.3 134.1 L293.3 133.3 L297.3 132.6 L301.3 131.8 L305.3 131 L309.3 130.2 L313.3 129.4 L317.3 128.6 L321.3 127.8 L325.3 127 L329.3 126.2 L333.3 125.3 L337.3 124.5 L351.3 121.6 L365.3 118.6 L379.3 115.7 L393.3 112.7 L407.3 109.7 L421.3 106.8 L435.3 103.8 L449.3 100.8 L463.3 97.8 L477.3 94.8 L491.3 91.9 L502.4 89.5 L505.7 89.3 L510.2 88.8 L526 83 M207.3 131.5 L209.3 132.6 L211.3 133.2 L213.3 133.7 L215.3 134 L217.3 134.2 L219.3 134.4 L221.3 134.5 L223.3 134.5 L225.3 134.5 L227.3 134.4 L229.3 134.3 L231.3 134.2 L233.3 134 L235.3 133.8 L237.3 133.6 L239.3 133.4 L241.3 133.2 L243.3 132.9 L245.3 132.6 L247.3 132.3 L249.3 132 L251.3 131.7 L253.3 131.4 L255.3 131 L257.3 130.7 L259.3 130.3 L261.3 130 L263.3 129.6 L265.3 129.2 L267.3 128.8 L269.3 128.5 L271.3 128.1 L273.3 127.7 L275.3 127.3 L277.3 126.9 L281.3 126.1 L285.3 125.2 L289.3 124.4 L293.3 123.6 L297.3 122.7 L301.3 121.9 L305.3 121 L309.3 120.1 L313.3 119.3 L317.3 118.4 L321.3 117.5 L325.3 116.6 L329.3 115.8 L333.3 114.9 L337.3 114 L351.3 110.9 L365.3 107.8 L379.3 104.6 L393.3 101.5 L407.3 98.4 L421.3 95.2 L435.3 92.1 L449.3 89 L463.3 85.8 L477.3 82.7 L491.3 79.6 L502.4 77.1 L526 83 M530 217.1 L544 214.1 L558 211.1 L572 208.1 L586 205.1 L600 202.1 L614 199 L628 196 L642 192.9 L646 192 L650 191.1 L654 190.1 L658 189.2 L662 188.3 L666 187.3 L670 186.3 L674 185.3 L678 184.2 L682 183.1 L686 182 L690 180.8 L694 179.6 L698 178.2 L702 176.8 L706 175.3 L710 173.7 L714 171.9 L716 170.9 L718 169.9 L720 168.9 L722 167.8 L724 166.6 L726 165.4 L728 164.1 L730 162.8 L732 161.3 L734 159.8 L736 158.2 L738 156.5 L740 154.7 L742 152.8 L744 150.8 L746 148.6 L748 146.3 L750 143.9 L752 141.3 L754 138.5 L756 135.6 L758 132.5 L760 129.2 L762 125.6 L764 121.9 L766 117.9 L768 113.7 L770 109.2 L772 104.4 L774 99.4 L776 94 L778 88.4 L780 82.5 L782 76.2 L784 69.6 L786 62.7 L788 55.5 L790 47.9 L792 40.2 L794 32.2 L796 24 L798 15.9 L800 8.2 L801.2 4.3 M530 186.6 L544 183.6 L558 180.6 L572 177.6 L586 174.6 L600 171.6 L614 168.5 L628 165.5 L642 162.4 L646 161.5 L650 160.6 L654 159.7 L658 158.8 L662 157.9 L666 156.9 L670 156 L674 155 L678 154 L682 152.9 L686 151.8 L690 150.7 L694 149.5 L698 148.3 L702 147 L706 145.6 L710 144.1 L714 142.5 L716 141.7 L718 140.8 L720 139.9 L722 138.9 L724 137.9 L726 136.8 L728 135.7 L730 134.5 L732 133.3 L734 132 L736 130.6 L738 129.2 L740 127.7 L742 126 L744 124.3 L746 122.5 L748 120.6 L750 118.5 L752 116.4 L754 114.1 L756 111.6 L758 109 L760 106.3 L762 103.4 L764 100.3 L766 97 L768 93.5 L770 89.8 L772 85.9 L774 81.8 L776 77.4 L778 72.8 L780 67.9 L782 62.8 L784 57.4 L786 51.8 L788 45.9 L790 39.8 L792 33.5 L794 27 L796 20.4 L798 13.8 L800 7.5 L801.2 4.3 M530 164.6 L544 161.6 L558 158.6 L572 155.6 L586 152.6 L600 149.6 L614 146.6 L628 143.5 L642 140.5 L646 139.6 L650 138.7 L654 137.8 L658 136.9 L662 135.9 L666 135 L670 134.1 L674 133.1 L678 132.1 L682 131.1 L686 130.1 L690 129 L694 127.9 L698 126.7 L702 125.5 L706 124.2 L710 122.8 L714 121.3 L716 120.6 L718 119.8 L720 118.9 L722 118.1 L724 117.2 L726 116.2 L728 115.2 L730 114.2 L732 113.1 L734 111.9 L736 110.7 L738 109.5 L740 108.1 L742 106.7 L744 105.2 L746 103.7 L748 102 L750 100.2 L752 98.4 L754 96.4 L756 94.3 L758 92.1 L760 89.8 L762 87.3 L764 84.7 L766 81.9 L768 79 L770 75.9 L772 72.6 L774 69.1 L776 65.4 L778 61.6 L780 57.5 L782 53.2 L784 48.7 L786 44 L788 39.1 L790 33.9 L792 28.7 L794 23.2 L796 17.7 L798 12.2 L800 7 L801.2 4.3 M530 144.6 L544 141.6 L558 138.6 L572 135.6 L586 132.6 L600 129.6 L614 126.6 L628 123.5 L642 120.5 L646 119.6 L650 118.7 L654 117.8 L658 116.9 L662 116 L666 115.1 L670 114.2 L674 113.2 L678 112.3 L682 111.3 L686 110.3 L690 109.2 L694 108.2 L698 107.1 L702 105.9 L706 104.7 L710 103.4 L714 102.1 L716 101.4 L718 100.7 L720 99.9 L722 99.1 L724 98.3 L726 97.5 L728 96.6 L730 95.7 L732 94.7 L734 93.7 L736 92.6 L738 91.5 L740 90.4 L742 89.2 L744 87.9 L746 86.5 L748 85.1 L750 83.6 L752 82 L754 80.4 L756 78.6 L758 76.8 L760 74.8 L762 72.7 L764 70.5 L766 68.2 L768 65.8 L770 63.2 L772 60.4 L774 57.6 L776 54.5 L778 51.3 L780 48 L782 44.4 L784 40.7 L786 36.8 L788 32.8 L790 28.6 L792 24.3 L794 19.8 L796 15.3 L798 10.8 L800 6.5 L801.2 4.3 M530 125.6 L544 122.6 L558 119.6 L572 116.6 L586 113.6 L600 110.6 L614 107.6 L628 104.5 L642 101.5 L646 100.6 L650 99.8 L654 98.9 L658 98 L662 97.1 L666 96.2 L670 95.3 L674 94.3 L678 93.4 L682 92.5 L686 91.5 L690 90.5 L694 89.5 L698 88.4 L702 87.3 L706 86.2 L710 85 L714 83.8 L716 83.2 L718 82.5 L720 81.8 L722 81.1 L724 80.4 L726 79.6 L728 78.9 L730 78.1 L732 77.2 L734 76.4 L736 75.4 L738 74.5 L740 73.5 L742 72.5 L744 71.4 L746 70.3 L748 69.1 L750 67.8 L752 66.5 L754 65.1 L756 63.7 L758 62.1 L760 60.5 L762 58.8 L764 57.1 L766 55.2 L768 53.2 L770 51.1 L772 48.9 L774 46.6 L776 44.2 L778 41.6 L780 38.9 L782 36.1 L784 33.2 L786 30.1 L788 26.9 L790 23.6 L792 20.1 L794 16.6 L796 13 L798 9.5 L800 6 L801.2 4.3 M530 108.6 L544 105.6 L558 102.6 L572 99.6 L586 96.6 L600 93.6 L614 90.6 L628 87.6 L642 84.5 L646 83.7 L650 82.8 L654 81.9 L658 81 L662 80.1 L666 79.3 L670 78.4 L674 77.5 L678 76.5 L682 75.6 L686 74.7 L690 73.7 L694 72.7 L698 71.7 L702 70.7 L706 69.7 L710 68.6 L714 67.4 L716 66.9 L718 66.3 L720 65.7 L722 65 L724 64.4 L726 63.7 L728 63 L730 62.3 L732 61.6 L734 60.8 L736 60.1 L738 59.3 L740 58.4 L742 57.5 L744 56.6 L746 55.7 L748 54.7 L750 53.7 L752 52.6 L754 51.5 L756 50.3 L758 49.1 L760 47.8 L762 46.4 L764 45 L766 43.5 L768 42 L770 40.3 L772 38.6 L774 36.8 L776 34.9 L778 32.9 L780 30.8 L782 28.7 L784 26.4 L786 24 L788 21.6 L790 19 L792 16.4 L794 13.7 L796 11 L798 8.3 L800 5.6 L801.2 4.3 M530 93.1 L544 90.1 L558 87.1 L572 84.1 L586 81.1 L600 78.1 L614 75.1 L628 72.1 L642 69.1 L646 68.2 L650 67.3 L654 66.5 L658 65.6 L662 64.7 L666 63.8 L670 62.9 L674 62.1 L678 61.2 L682 60.3 L686 59.3 L690 58.4 L694 57.5 L698 56.5 L702 55.6 L706 54.6 L710 53.6 L714 52.5 L716 52 L718 51.5 L720 50.9 L722 50.3 L724 49.8 L726 49.2 L728 48.6 L730 48 L732 47.3 L734 46.7 L736 46 L738 45.4 L740 44.7 L742 43.9 L744 43.2 L746 42.4 L748 41.6 L750 40.8 L752 39.9 L754 39 L756 38.1 L758 37.2 L760 36.2 L762 35.1 L764 34 L766 32.9 L768 31.7 L770 30.5 L772 29.2 L774 27.8 L776 26.4 L778 25 L780 23.4 L782 21.9 L784 20.2 L786 18.5 L788 16.7 L790 14.9 L792 13 L794 11.1 L796 9.1 L798 7.2 L800 5.3 L801.2 4.3 M530 81.6 L544 78.6 L558 75.6 L572 72.6 L586 69.6 L600 66.6 L614 63.6 L628 60.6 L642 57.6 L646 56.7 L650 55.8 L654 55 L658 54.1 L662 53.2 L666 52.4 L670 51.5 L674 50.6 L678 49.7 L682 48.9 L686 48 L690 47.1 L694 46.2 L698 45.2 L702 44.3 L706 43.4 L710 42.4 L714 41.5 L716 41 L718 40.5 L720 40 L722 39.4 L724 38.9 L726 38.4 L728 37.9 L730 37.3 L732 36.8 L734 36.2 L736 35.6 L738 35 L740 34.5 L742 33.8 L744 33.2 L746 32.6 L748 31.9 L750 31.2 L752 30.5 L754 29.8 L756 29.1 L758 28.3 L760 27.5 L762 26.7 L764 25.9 L766 25 L768 24.1 L770 23.2 L772 22.2 L774 21.2 L776 20.2 L778 19.1 L780 18 L782 16.8 L784 15.6 L786 14.4 L788 13.1 L790 11.8 L792 10.5 L794 9.1 L796 7.7 L798 6.3 L800 5 L801.2 4.3 M530 72.1 L544 69.1 L558 66.1 L572 63.1 L586 60.1 L600 57.1 L614 54.1 L628 51.1 L642 48.1 L646 47.2 L650 46.4 L654 45.5 L658 44.6 L662 43.8 L666 42.9 L670 42 L674 41.2 L678 40.3 L682 39.4 L686 38.6 L690 37.7 L694 36.8 L698 35.9 L702 35 L706 34.1 L710 33.2 L714 32.3 L716 31.9 L718 31.4 L720 30.9 L722 30.5 L724 30 L726 29.5 L728 29 L730 28.5 L732 28 L734 27.5 L736 27 L738 26.5 L740 26 L742 25.5 L744 25 L746 24.4 L748 23.9 L750 23.3 L752 22.8 L754 22.2 L756 21.6 L758 21 L760 20.4 L762 19.8 L764 19.1 L766 18.5 L768 17.8 L770 17.1 L772 16.4 L774 15.7 L776 15 L778 14.2 L780 13.5 L782 12.7 L784 11.8 L786 11 L788 10.2 L790 9.3 L792 8.4 L794 7.5 L796 6.6 L798 5.7 L800 4.8 L801.2 4.3" fill="none" stroke="#0a1a1e" stroke-width="1.9" stroke-opacity="0.85" stroke-linejoin="round"/>
<path d="M525 63.2 L530.5 62 L530.5 83.6 L525 83.6Z" fill="#bddf26"/>
<path d="M517.4 73.3 L530.5 72.1 L530.5 83.6 L526.5 83.6Z" fill="#7ad151"/>
<path d="M517.4 73.3 L530.5 72.1" stroke="#1a2a10" stroke-width="1.9" fill="none" stroke-opacity="0.8"/>
<linearGradient id="wg1" gradientUnits="userSpaceOnUse" x1="0" y1="83" x2="0" y2="178"><stop offset="0" stop-color="#0c0a20"/><stop offset="0.45" stop-color="#1c0a3c"/><stop offset="1" stop-color="#440154"/></linearGradient>
<path d="M525.7 84 L530 84 L530 178 L517.9 178Z" fill="url(#wg1)"/>
<linearGradient id="ng1" gradientUnits="userSpaceOnUse" x1="478.5" y1="69.4" x2="491.5" y2="63.4"><stop offset="0" stop-color="#04100c"/><stop offset="0.3" stop-color="#0a2e22"/><stop offset="0.55" stop-color="#4f8a2c"/><stop offset="0.8" stop-color="#bddf26"/></linearGradient>
<path d="M477.9 56.2 L479.3 56.2 L503.9 67.6 L503.9 69 L477.9 74.4Z" fill="url(#ng1)"/>
<text x="397.6" y="110.2" transform="rotate(-13 397.6 103.2)" class="cl">1844.44</text>
<text x="455.3" y="124.4" transform="rotate(-13 455.3 117.4)" class="cl">1533.33</text>
<text x="655.6" y="66.7" transform="rotate(-13 655.6 59.7)" class="cl">1688.89</text>
<text x="605.5" y="106.3" transform="rotate(-13 605.5 99.3)" class="cl">1377.78</text>
<text x="676.7" y="129.4" transform="rotate(-13 676.7 122.4)" class="cl">1066.67</text>
<text x="354" y="175.7" transform="rotate(-13 354 168.7)" class="cl">1222.22</text>
<text x="426.4" y="192.6" transform="rotate(-13 426.4 185.6)" class="cl">911.111</text>
<text x="633.6" y="178.3" transform="rotate(-13 633.6 171.3)" class="cl">755.556</text>
<text x="431" y="247.7" transform="rotate(-13 431 240.7)" class="cl">600</text></g>
<g><path d="M848.7 141.9 L1443.3 10.2 L1443.3 320 L848.7 320Z" fill="#440154"/>
<path d="M848.7 141.9 L848.7 141.9 L850.7 153.7 L852.7 164.8 L854.7 175.2 L856.7 184.9 L858.7 194.1 L860.7 202.6 L862.7 210.6 L864.7 218 L866.7 225 L868.7 231.5 L870.7 237.6 L872.7 243.3 L874.7 248.7 L876.7 253.6 L878.7 258.3 L880.7 262.6 L882.7 266.6 L884.7 270.4 L886.7 273.9 L888.7 277.2 L890.7 280.2 L892.7 283 L894.7 285.7 L896.7 288.1 L898.7 290.4 L900.7 292.4 L902.7 294.4 L904.7 296.2 L906.7 297.8 L908.7 299.3 L910.7 300.7 L912.7 302 L914.7 303.2 L916.7 304.3 L918.7 305.3 L922.7 307 L926.7 308.3 L930.7 309.5 L934.7 310.3 L938.7 311 L942.7 311.4 L946.7 311.7 L950.7 311.9 L954.7 311.9 L958.7 311.8 L962.7 311.6 L966.7 311.3 L970.7 310.9 L974.7 310.5 L978.7 310 L992.7 307.9 L1006.7 305.3 L1020.7 302.4 L1034.7 299.4 L1048.7 296.2 L1062.7 293 L1076.7 289.7 L1090.7 286.4 L1104.7 283.1 L1118.7 279.8 L1132.7 276.4 L1146.7 273.1 L1150.8 272.1 L1153.6 266.7 L1157.5 252.4 L1171 93 L1171 70.5Z" fill="#482475"/>
<path d="M848.7 141.9 L848.7 141.9 L850.7 151.4 L852.7 160.3 L854.7 168.6 L856.7 176.4 L858.7 183.6 L860.7 190.4 L862.7 196.8 L864.7 202.8 L866.7 208.3 L868.7 213.5 L870.7 218.3 L872.7 222.9 L874.7 227.1 L876.7 231 L878.7 234.7 L880.7 238.1 L882.7 241.3 L884.7 244.2 L886.7 247 L888.7 249.5 L890.7 251.9 L892.7 254.1 L894.7 256.1 L896.7 258 L898.7 259.7 L900.7 261.3 L902.7 262.8 L904.7 264.1 L906.7 265.4 L908.7 266.5 L910.7 267.5 L912.7 268.5 L914.7 269.4 L916.7 270.1 L918.7 270.8 L922.7 272 L926.7 273 L930.7 273.7 L934.7 274.2 L938.7 274.6 L942.7 274.7 L946.7 274.8 L950.7 274.7 L954.7 274.6 L958.7 274.3 L962.7 274 L966.7 273.5 L970.7 273.1 L974.7 272.5 L978.7 271.9 L992.7 269.6 L1006.7 266.9 L1020.7 263.9 L1034.7 260.8 L1048.7 257.6 L1062.7 254.4 L1076.7 251.1 L1090.7 247.8 L1104.7 244.5 L1118.7 241.1 L1132.7 237.8 L1146.7 234.5 L1150.8 233.5 L1153.6 229.3 L1157.5 218 L1171 93 L1171 70.5Z" fill="#414487"/>
<path d="M848.7 141.9 L848.7 141.9 L850.7 149.5 L852.7 156.7 L854.7 163.3 L856.7 169.5 L858.7 175.4 L860.7 180.8 L862.7 185.9 L864.7 190.6 L866.7 195.1 L868.7 199.2 L870.7 203 L872.7 206.6 L874.7 209.9 L876.7 213 L878.7 215.9 L880.7 218.6 L882.7 221.1 L884.7 223.4 L886.7 225.5 L888.7 227.5 L890.7 229.3 L892.7 231 L894.7 232.6 L896.7 234 L898.7 235.3 L900.7 236.5 L902.7 237.6 L904.7 238.6 L906.7 239.6 L908.7 240.4 L910.7 241.1 L912.7 241.8 L914.7 242.4 L916.7 243 L918.7 243.4 L922.7 244.2 L926.7 244.8 L930.7 245.2 L934.7 245.4 L938.7 245.5 L942.7 245.5 L946.7 245.4 L950.7 245.1 L954.7 244.8 L958.7 244.4 L962.7 243.9 L966.7 243.4 L970.7 242.9 L974.7 242.2 L978.7 241.6 L992.7 239 L1006.7 236.2 L1020.7 233.1 L1034.7 230 L1048.7 226.8 L1062.7 223.5 L1076.7 220.2 L1090.7 216.9 L1104.7 213.5 L1118.7 210.2 L1132.7 206.8 L1146.7 203.5 L1150.8 202.5 L1153.6 199.2 L1157.5 190.4 L1171 93 L1171 70.5Z" fill="#355f8d"/>
<path d="M848.7 141.9 L848.7 141.9 L850.7 148.1 L852.7 153.9 L854.7 159.2 L856.7 164.3 L858.7 169 L860.7 173.4 L862.7 177.4 L864.7 181.3 L866.7 184.8 L868.7 188.1 L870.7 191.2 L872.7 194 L874.7 196.7 L876.7 199.1 L878.7 201.4 L880.7 203.5 L882.7 205.5 L884.7 207.3 L886.7 209 L888.7 210.5 L890.7 211.9 L892.7 213.2 L894.7 214.4 L896.7 215.5 L898.7 216.5 L900.7 217.4 L902.7 218.2 L904.7 218.9 L906.7 219.6 L908.7 220.2 L910.7 220.7 L912.7 221.2 L914.7 221.6 L916.7 222 L918.7 222.3 L922.7 222.7 L926.7 223 L930.7 223.2 L934.7 223.2 L938.7 223.1 L942.7 222.9 L946.7 222.6 L950.7 222.3 L954.7 221.8 L958.7 221.3 L962.7 220.8 L966.7 220.2 L970.7 219.5 L974.7 218.8 L978.7 218.1 L992.7 215.4 L1006.7 212.5 L1020.7 209.4 L1034.7 206.2 L1048.7 202.9 L1062.7 199.6 L1076.7 196.3 L1090.7 193 L1104.7 189.6 L1118.7 186.3 L1132.7 182.9 L1146.7 179.6 L1150.8 178.6 L1153.6 176 L1157.5 169.2 L1171 93 L1171 70.5Z" fill="#2a788e"/>
<path d="M848.7 141.9 L848.7 141.9 L850.7 146.8 L852.7 151.3 L854.7 155.6 L856.7 159.5 L858.7 163.2 L860.7 166.7 L862.7 169.9 L864.7 172.8 L866.7 175.6 L868.7 178.1 L870.7 180.5 L872.7 182.7 L874.7 184.7 L876.7 186.6 L878.7 188.3 L880.7 189.9 L882.7 191.4 L884.7 192.8 L886.7 194 L888.7 195.1 L890.7 196.2 L892.7 197.1 L894.7 197.9 L896.7 198.7 L898.7 199.4 L900.7 200 L902.7 200.6 L904.7 201.1 L906.7 201.5 L908.7 201.9 L910.7 202.2 L912.7 202.5 L914.7 202.7 L916.7 202.9 L918.7 203 L922.7 203.2 L926.7 203.2 L930.7 203.1 L934.7 202.9 L938.7 202.6 L942.7 202.2 L946.7 201.8 L950.7 201.3 L954.7 200.7 L958.7 200.1 L962.7 199.4 L966.7 198.7 L970.7 198 L974.7 197.2 L978.7 196.5 L992.7 193.5 L1006.7 190.4 L1020.7 187.2 L1034.7 183.9 L1048.7 180.5 L1062.7 177.2 L1076.7 173.7 L1090.7 170.3 L1104.7 166.9 L1118.7 163.5 L1132.7 160 L1146.7 156.6 L1149.4 155.9 L1152.4 154 L1156.5 149 L1171 93 L1171 70.5Z" fill="#21918c"/>
<path d="M848.7 141.9 L848.7 141.9 L850.7 145.4 L852.7 148.7 L854.7 151.8 L856.7 154.6 L858.7 157.3 L860.7 159.7 L862.7 162 L864.7 164.1 L866.7 166 L868.7 167.8 L870.7 169.5 L872.7 171 L874.7 172.4 L876.7 173.7 L878.7 174.9 L880.7 176 L882.7 177 L884.7 177.8 L886.7 178.7 L888.7 179.4 L890.7 180 L892.7 180.6 L894.7 181.1 L896.7 181.6 L898.7 182 L900.7 182.4 L902.7 182.7 L904.7 182.9 L906.7 183.1 L908.7 183.3 L910.7 183.4 L912.7 183.5 L914.7 183.5 L916.7 183.6 L918.7 183.5 L922.7 183.4 L926.7 183.2 L930.7 182.9 L934.7 182.5 L938.7 182.1 L942.7 181.6 L946.7 181 L950.7 180.4 L954.7 179.8 L958.7 179.1 L962.7 178.3 L966.7 177.6 L970.7 176.8 L974.7 176 L978.7 175.2 L992.7 172.2 L1006.7 169.1 L1020.7 165.9 L1034.7 162.6 L1048.7 159.3 L1062.7 156 L1076.7 152.6 L1090.7 149.2 L1104.7 145.9 L1118.7 142.5 L1132.7 139.1 L1146.7 135.8 L1148 135.5 L1151.2 134.2 L1155.6 130.8 L1171 93 L1171 70.5Z" fill="#22a884"/>
<path d="M848.7 141.9 L848.7 141.9 L850.7 144.2 L852.7 146.3 L854.7 148.3 L856.7 150.1 L858.7 151.8 L860.7 153.3 L862.7 154.7 L864.7 156 L866.7 157.2 L868.7 158.3 L870.7 159.3 L872.7 160.2 L874.7 161.1 L876.7 161.8 L878.7 162.5 L880.7 163.1 L882.7 163.6 L884.7 164.1 L886.7 164.5 L888.7 164.9 L890.7 165.2 L892.7 165.5 L894.7 165.7 L896.7 165.9 L898.7 166 L900.7 166.1 L902.7 166.2 L904.7 166.2 L906.7 166.2 L908.7 166.2 L910.7 166.2 L912.7 166.1 L914.7 166 L916.7 165.9 L918.7 165.7 L922.7 165.4 L926.7 165 L930.7 164.5 L934.7 164 L938.7 163.4 L942.7 162.8 L946.7 162.1 L950.7 161.4 L954.7 160.7 L958.7 160 L962.7 159.2 L966.7 158.4 L970.7 157.6 L974.7 156.8 L978.7 156 L992.7 153 L1006.7 149.9 L1020.7 146.7 L1034.7 143.5 L1048.7 140.3 L1062.7 137.1 L1076.7 133.8 L1090.7 130.6 L1104.7 127.3 L1118.7 124.1 L1132.7 120.8 L1146.3 117.6 L1149.8 116.9 L1154.5 114.9 L1171 93 L1171 70.5Z" fill="#44bf70"/>
<path d="M848.7 141.9 L848.7 141.9 L850.7 143.3 L852.7 144.6 L854.7 145.8 L856.7 146.9 L858.7 147.9 L860.7 148.8 L862.7 149.6 L864.7 150.3 L866.7 151 L868.7 151.6 L870.7 152.1 L872.7 152.6 L874.7 153 L876.7 153.3 L878.7 153.6 L880.7 153.9 L882.7 154.1 L884.7 154.3 L886.7 154.4 L888.7 154.5 L890.7 154.5 L892.7 154.6 L894.7 154.5 L896.7 154.5 L898.7 154.4 L900.7 154.3 L902.7 154.2 L904.7 154.1 L906.7 153.9 L908.7 153.8 L910.7 153.6 L912.7 153.3 L914.7 153.1 L916.7 152.9 L918.7 152.6 L922.7 152 L926.7 151.4 L930.7 150.8 L934.7 150.1 L938.7 149.4 L942.7 148.6 L946.7 147.9 L950.7 147.1 L954.7 146.2 L958.7 145.4 L962.7 144.6 L966.7 143.7 L970.7 142.8 L974.7 142 L978.7 141.1 L992.7 137.9 L1006.7 134.7 L1020.7 131.4 L1034.7 128.1 L1048.7 124.8 L1062.7 121.4 L1076.7 118.1 L1090.7 114.8 L1104.7 111.4 L1118.7 108.1 L1132.7 104.7 L1145.2 101.7 L1148.8 101.5 L1153.7 100.8 L1171 93 L1171 70.5Z" fill="#7ad151"/>
<path d="M848.7 141.9 L848.7 141.9 L850.7 142.6 L852.7 143.2 L854.7 143.7 L856.7 144.1 L858.7 144.5 L860.7 144.9 L862.7 145.2 L864.7 145.4 L866.7 145.6 L868.7 145.7 L870.7 145.9 L872.7 145.9 L874.7 146 L876.7 146 L878.7 146 L880.7 145.9 L882.7 145.8 L884.7 145.7 L886.7 145.6 L888.7 145.4 L890.7 145.2 L892.7 145 L894.7 144.8 L896.7 144.6 L898.7 144.4 L900.7 144.1 L902.7 143.8 L904.7 143.5 L906.7 143.2 L908.7 142.9 L910.7 142.6 L912.7 142.2 L914.7 141.9 L916.7 141.5 L918.7 141.2 L922.7 140.4 L926.7 139.6 L930.7 138.8 L934.7 138 L938.7 137.2 L942.7 136.3 L946.7 135.4 L950.7 134.5 L954.7 133.6 L958.7 132.7 L962.7 131.8 L966.7 130.9 L970.7 130 L974.7 129 L978.7 128.1 L992.7 124.7 L1006.7 121.4 L1020.7 118 L1034.7 114.6 L1048.7 111.2 L1062.7 107.7 L1076.7 104.3 L1090.7 100.9 L1104.7 97.5 L1118.7 94 L1132.7 90.6 L1145.2 87.6 L1171 93 L1171 70.5Z" fill="#bddf26"/>
<path d="M1172.4 70.2 L1172.4 266.7 L1186.4 263.6 L1200.4 260.5 L1214.4 257.3 L1228.4 254.2 L1242.4 251 L1256.4 247.8 L1270.4 244.6 L1284.4 241.2 L1288.4 240.2 L1292.4 239.2 L1296.4 238.2 L1300.4 237.2 L1304.4 236.1 L1308.4 235 L1312.4 233.9 L1316.4 232.7 L1320.4 231.5 L1324.4 230.2 L1328.4 228.9 L1332.4 227.5 L1336.4 226.1 L1340.4 224.5 L1344.4 222.9 L1348.4 221.1 L1352.4 219.2 L1356.4 217.1 L1358.4 216 L1360.4 214.9 L1362.4 213.7 L1364.4 212.4 L1366.4 211.1 L1368.4 209.7 L1370.4 208.3 L1372.4 206.8 L1374.4 205.2 L1376.4 203.5 L1378.4 201.7 L1380.4 199.8 L1382.4 197.9 L1384.4 195.8 L1386.4 193.6 L1388.4 191.2 L1390.4 188.7 L1392.4 186.1 L1394.4 183.3 L1396.4 180.3 L1398.4 177.1 L1400.4 173.7 L1402.4 170.2 L1404.4 166.3 L1406.4 162.3 L1408.4 157.9 L1410.4 153.3 L1412.4 148.4 L1414.4 143.1 L1416.4 137.5 L1418.4 131.5 L1420.4 125 L1422.4 118.2 L1424.4 110.8 L1426.4 103 L1428.4 94.6 L1430.4 85.6 L1432.4 76 L1434.4 65.7 L1436.4 54.6 L1438.4 42.8 L1440.4 30.2 L1442.4 16.6 L1443.3 10.2Z" fill="#482475"/>
<path d="M1172.4 70.2 L1172.4 229.3 L1186.4 226.2 L1200.4 223.1 L1214.4 220 L1228.4 216.8 L1242.4 213.7 L1256.4 210.5 L1270.4 207.3 L1284.4 203.9 L1288.4 203 L1292.4 202 L1296.4 201 L1300.4 200 L1304.4 199 L1308.4 197.9 L1312.4 196.8 L1316.4 195.7 L1320.4 194.5 L1324.4 193.4 L1328.4 192.1 L1332.4 190.8 L1336.4 189.5 L1340.4 188.1 L1344.4 186.6 L1348.4 185 L1352.4 183.2 L1356.4 181.4 L1358.4 180.4 L1360.4 179.4 L1362.4 178.4 L1364.4 177.3 L1366.4 176.1 L1368.4 174.9 L1370.4 173.7 L1372.4 172.4 L1374.4 171 L1376.4 169.5 L1378.4 168 L1380.4 166.4 L1382.4 164.7 L1384.4 162.9 L1386.4 161.1 L1388.4 159.1 L1390.4 157 L1392.4 154.7 L1394.4 152.4 L1396.4 149.9 L1398.4 147.2 L1400.4 144.4 L1402.4 141.4 L1404.4 138.3 L1406.4 134.9 L1408.4 131.3 L1410.4 127.5 L1412.4 123.4 L1414.4 119 L1416.4 114.4 L1418.4 109.4 L1420.4 104.1 L1422.4 98.5 L1424.4 92.5 L1426.4 86 L1428.4 79.2 L1430.4 71.8 L1432.4 63.9 L1434.4 55.5 L1436.4 46.5 L1438.4 36.8 L1440.4 26.5 L1442.4 15.4 L1443.3 10.2Z" fill="#414487"/>
<path d="M1172.4 70.2 L1172.4 196.7 L1186.4 193.6 L1200.4 190.5 L1214.4 187.4 L1228.4 184.2 L1242.4 181.1 L1256.4 177.9 L1270.4 174.7 L1284.4 171.5 L1288.4 170.5 L1292.4 169.5 L1296.4 168.6 L1300.4 167.6 L1304.4 166.6 L1308.4 165.6 L1312.4 164.5 L1316.4 163.4 L1320.4 162.4 L1324.4 161.2 L1328.4 160.1 L1332.4 158.9 L1336.4 157.6 L1340.4 156.3 L1344.4 154.9 L1348.4 153.5 L1352.4 151.9 L1356.4 150.3 L1358.4 149.4 L1360.4 148.5 L1362.4 147.6 L1364.4 146.6 L1366.4 145.6 L1368.4 144.6 L1370.4 143.5 L1372.4 142.3 L1374.4 141.2 L1376.4 139.9 L1378.4 138.6 L1380.4 137.3 L1382.4 135.8 L1384.4 134.3 L1386.4 132.7 L1388.4 131.1 L1390.4 129.3 L1392.4 127.4 L1394.4 125.5 L1396.4 123.4 L1398.4 121.2 L1400.4 118.9 L1402.4 116.4 L1404.4 113.8 L1406.4 111 L1408.4 108.1 L1410.4 104.9 L1412.4 101.6 L1414.4 98 L1416.4 94.3 L1418.4 90.2 L1420.4 85.9 L1422.4 81.4 L1424.4 76.5 L1426.4 71.3 L1428.4 65.7 L1430.4 59.8 L1432.4 53.4 L1434.4 46.6 L1436.4 39.4 L1438.4 31.6 L1440.4 23.3 L1442.4 14.4 L1443.3 10.2Z" fill="#355f8d"/>
<path d="M1172.4 70.2 L1172.4 172.4 L1186.4 169.3 L1200.4 166.2 L1214.4 163.1 L1228.4 160 L1242.4 156.8 L1256.4 153.7 L1270.4 150.5 L1284.4 147.2 L1288.4 146.3 L1292.4 145.4 L1296.4 144.4 L1300.4 143.4 L1304.4 142.4 L1308.4 141.5 L1312.4 140.4 L1316.4 139.4 L1320.4 138.4 L1324.4 137.3 L1328.4 136.2 L1332.4 135 L1336.4 133.8 L1340.4 132.6 L1344.4 131.3 L1348.4 130 L1352.4 128.6 L1356.4 127.1 L1358.4 126.3 L1360.4 125.5 L1362.4 124.6 L1364.4 123.8 L1366.4 122.9 L1368.4 121.9 L1370.4 121 L1372.4 120 L1374.4 118.9 L1376.4 117.8 L1378.4 116.7 L1380.4 115.5 L1382.4 114.3 L1384.4 113 L1386.4 111.6 L1388.4 110.2 L1390.4 108.7 L1392.4 107.1 L1394.4 105.4 L1396.4 103.6 L1398.4 101.8 L1400.4 99.8 L1402.4 97.7 L1404.4 95.5 L1406.4 93.2 L1408.4 90.7 L1410.4 88.1 L1412.4 85.3 L1414.4 82.4 L1416.4 79.3 L1418.4 75.9 L1420.4 72.4 L1422.4 68.6 L1424.4 64.6 L1426.4 60.3 L1428.4 55.7 L1430.4 50.8 L1432.4 45.6 L1434.4 40 L1436.4 34.1 L1438.4 27.7 L1440.4 20.9 L1442.4 13.6 L1443.3 10.2Z" fill="#2a788e"/>
<path d="M1172.4 70.2 L1172.4 151 L1186.4 147.9 L1200.4 144.8 L1214.4 141.7 L1228.4 138.6 L1242.4 135.4 L1256.4 132.3 L1270.4 129.1 L1284.4 125.9 L1288.4 125 L1292.4 124.1 L1296.4 123.1 L1300.4 122.2 L1304.4 121.2 L1308.4 120.2 L1312.4 119.2 L1316.4 118.2 L1320.4 117.2 L1324.4 116.2 L1328.4 115.1 L1332.4 114 L1336.4 112.9 L1340.4 111.7 L1344.4 110.5 L1348.4 109.3 L1352.4 108 L1356.4 106.6 L1358.4 105.9 L1360.4 105.2 L1362.4 104.4 L1364.4 103.6 L1366.4 102.8 L1368.4 102 L1370.4 101.2 L1372.4 100.3 L1374.4 99.4 L1376.4 98.4 L1378.4 97.4 L1380.4 96.4 L1382.4 95.3 L1384.4 94.2 L1386.4 93 L1388.4 91.8 L1390.4 90.5 L1392.4 89.2 L1394.4 87.7 L1396.4 86.3 L1398.4 84.7 L1400.4 83 L1402.4 81.3 L1404.4 79.5 L1406.4 77.5 L1408.4 75.5 L1410.4 73.3 L1412.4 71 L1414.4 68.6 L1416.4 66 L1418.4 63.3 L1420.4 60.4 L1422.4 57.3 L1424.4 54 L1426.4 50.6 L1428.4 46.8 L1430.4 42.9 L1432.4 38.7 L1434.4 34.2 L1436.4 29.4 L1438.4 24.3 L1440.4 18.8 L1442.4 13 L1443.3 10.2Z" fill="#21918c"/>
<path d="M1172.4 70.2 L1172.4 129.5 L1186.4 126.4 L1200.4 123.3 L1214.4 120.2 L1228.4 117.1 L1242.4 114 L1256.4 110.8 L1270.4 107.7 L1284.4 104.5 L1288.4 103.6 L1292.4 102.7 L1296.4 101.7 L1300.4 100.8 L1304.4 99.8 L1308.4 98.9 L1312.4 97.9 L1316.4 97 L1320.4 96 L1324.4 95 L1328.4 94 L1332.4 92.9 L1336.4 91.9 L1340.4 90.8 L1344.4 89.7 L1348.4 88.5 L1352.4 87.3 L1356.4 86.1 L1358.4 85.4 L1360.4 84.8 L1362.4 84.1 L1364.4 83.4 L1366.4 82.7 L1368.4 82 L1370.4 81.3 L1372.4 80.5 L1374.4 79.7 L1376.4 78.9 L1378.4 78 L1380.4 77.2 L1382.4 76.3 L1384.4 75.3 L1386.4 74.3 L1388.4 73.3 L1390.4 72.3 L1392.4 71.1 L1394.4 70 L1396.4 68.8 L1398.4 67.5 L1400.4 66.2 L1402.4 64.8 L1404.4 63.3 L1406.4 61.8 L1408.4 60.2 L1410.4 58.5 L1412.4 56.7 L1414.4 54.8 L1416.4 52.8 L1418.4 50.6 L1420.4 48.4 L1422.4 46 L1424.4 43.5 L1426.4 40.8 L1428.4 38 L1430.4 34.9 L1432.4 31.7 L1434.4 28.3 L1436.4 24.7 L1438.4 20.8 L1440.4 16.7 L1442.4 12.3 L1443.3 10.2Z" fill="#22a884"/>
<path d="M1172.4 70.2 L1172.4 110.8 L1186.4 107.7 L1200.4 104.6 L1214.4 101.5 L1228.4 98.4 L1242.4 95.3 L1256.4 92.1 L1270.4 89 L1284.4 85.9 L1288.4 84.9 L1292.4 84 L1296.4 83.1 L1300.4 82.2 L1304.4 81.3 L1308.4 80.4 L1312.4 79.4 L1316.4 78.5 L1320.4 77.5 L1324.4 76.6 L1328.4 75.6 L1332.4 74.6 L1336.4 73.6 L1340.4 72.6 L1344.4 71.5 L1348.4 70.5 L1352.4 69.4 L1356.4 68.2 L1358.4 67.6 L1360.4 67.1 L1362.4 66.5 L1364.4 65.9 L1366.4 65.2 L1368.4 64.6 L1370.4 63.9 L1372.4 63.3 L1374.4 62.6 L1376.4 61.9 L1378.4 61.2 L1380.4 60.4 L1382.4 59.7 L1384.4 58.9 L1386.4 58.1 L1388.4 57.2 L1390.4 56.4 L1392.4 55.5 L1394.4 54.6 L1396.4 53.6 L1398.4 52.6 L1400.4 51.5 L1402.4 50.4 L1404.4 49.3 L1406.4 48.1 L1408.4 46.9 L1410.4 45.5 L1412.4 44.2 L1414.4 42.7 L1416.4 41.2 L1418.4 39.6 L1420.4 38 L1422.4 36.2 L1424.4 34.3 L1426.4 32.3 L1428.4 30.3 L1430.4 28 L1432.4 25.7 L1434.4 23.2 L1436.4 20.6 L1438.4 17.8 L1440.4 14.8 L1442.4 11.7 L1443.3 10.2Z" fill="#44bf70"/>
<path d="M1172.4 70.2 L1172.4 95.9 L1186.4 92.8 L1200.4 89.7 L1214.4 86.6 L1228.4 83.5 L1242.4 80.4 L1256.4 77.3 L1270.4 74.1 L1284.4 71 L1288.4 70.1 L1292.4 69.2 L1296.4 68.3 L1300.4 67.4 L1304.4 66.5 L1308.4 65.6 L1312.4 64.7 L1316.4 63.7 L1320.4 62.8 L1324.4 61.9 L1328.4 60.9 L1332.4 60 L1336.4 59 L1340.4 58 L1344.4 57.1 L1348.4 56.1 L1352.4 55 L1356.4 54 L1358.4 53.5 L1360.4 52.9 L1362.4 52.4 L1364.4 51.8 L1366.4 51.3 L1368.4 50.7 L1370.4 50.1 L1372.4 49.6 L1374.4 49 L1376.4 48.4 L1378.4 47.7 L1380.4 47.1 L1382.4 46.5 L1384.4 45.8 L1386.4 45.1 L1388.4 44.4 L1390.4 43.7 L1392.4 43 L1394.4 42.2 L1396.4 41.5 L1398.4 40.7 L1400.4 39.8 L1402.4 39 L1404.4 38.1 L1406.4 37.2 L1408.4 36.2 L1410.4 35.3 L1412.4 34.2 L1414.4 33.1 L1416.4 32 L1418.4 30.9 L1420.4 29.6 L1422.4 28.3 L1424.4 27 L1426.4 25.6 L1428.4 24.1 L1430.4 22.5 L1432.4 20.9 L1434.4 19.2 L1436.4 17.3 L1438.4 15.4 L1440.4 13.4 L1442.4 11.2 L1443.3 10.2Z" fill="#7ad151"/>
<path d="M1172.4 70.2 L1172.4 82.8 L1186.4 79.7 L1200.4 76.6 L1214.4 73.5 L1228.4 70.4 L1242.4 67.3 L1256.4 64.2 L1270.4 61.1 L1284.4 58 L1288.4 57.1 L1292.4 56.2 L1296.4 55.3 L1300.4 54.4 L1304.4 53.5 L1308.4 52.6 L1312.4 51.7 L1316.4 50.8 L1320.4 49.9 L1324.4 49 L1328.4 48 L1332.4 47.1 L1336.4 46.2 L1340.4 45.3 L1344.4 44.3 L1348.4 43.4 L1352.4 42.4 L1356.4 41.5 L1358.4 41 L1360.4 40.5 L1362.4 40 L1364.4 39.5 L1366.4 39 L1368.4 38.5 L1370.4 38 L1372.4 37.5 L1374.4 37 L1376.4 36.5 L1378.4 35.9 L1380.4 35.4 L1382.4 34.9 L1384.4 34.3 L1386.4 33.8 L1388.4 33.2 L1390.4 32.6 L1392.4 32 L1394.4 31.4 L1396.4 30.8 L1398.4 30.2 L1400.4 29.6 L1402.4 28.9 L1404.4 28.3 L1406.4 27.6 L1408.4 26.9 L1410.4 26.2 L1412.4 25.5 L1414.4 24.7 L1416.4 23.9 L1418.4 23.1 L1420.4 22.3 L1422.4 21.5 L1424.4 20.6 L1426.4 19.7 L1428.4 18.7 L1430.4 17.7 L1432.4 16.7 L1434.4 15.6 L1436.4 14.5 L1438.4 13.3 L1440.4 12.1 L1442.4 10.8 L1443.3 10.2Z" fill="#bddf26"/>
<path d="M848.7 141.9 L850.7 153.7 L852.7 164.8 L854.7 175.2 L856.7 184.9 L858.7 194.1 L860.7 202.6 L862.7 210.6 L864.7 218 L866.7 225 L868.7 231.5 L870.7 237.6 L872.7 243.3 L874.7 248.7 L876.7 253.6 L878.7 258.3 L880.7 262.6 L882.7 266.6 L884.7 270.4 L886.7 273.9 L888.7 277.2 L890.7 280.2 L892.7 283 L894.7 285.7 L896.7 288.1 L898.7 290.4 L900.7 292.4 L902.7 294.4 L904.7 296.2 L906.7 297.8 L908.7 299.3 L910.7 300.7 L912.7 302 L914.7 303.2 L916.7 304.3 L918.7 305.3 L922.7 307 L926.7 308.3 L930.7 309.5 L934.7 310.3 L938.7 311 L942.7 311.4 L946.7 311.7 L950.7 311.9 L954.7 311.9 L958.7 311.8 L962.7 311.6 L966.7 311.3 L970.7 310.9 L974.7 310.5 L978.7 310 L992.7 307.9 L1006.7 305.3 L1020.7 302.4 L1034.7 299.4 L1048.7 296.2 L1062.7 293 L1076.7 289.7 L1090.7 286.4 L1104.7 283.1 L1118.7 279.8 L1132.7 276.4 L1146.7 273.1 L1150.8 272.1 L1153.6 266.7 L1157.5 252.4 L1171 93 M848.7 141.9 L850.7 151.4 L852.7 160.3 L854.7 168.6 L856.7 176.4 L858.7 183.6 L860.7 190.4 L862.7 196.8 L864.7 202.8 L866.7 208.3 L868.7 213.5 L870.7 218.3 L872.7 222.9 L874.7 227.1 L876.7 231 L878.7 234.7 L880.7 238.1 L882.7 241.3 L884.7 244.2 L886.7 247 L888.7 249.5 L890.7 251.9 L892.7 254.1 L894.7 256.1 L896.7 258 L898.7 259.7 L900.7 261.3 L902.7 262.8 L904.7 264.1 L906.7 265.4 L908.7 266.5 L910.7 267.5 L912.7 268.5 L914.7 269.4 L916.7 270.1 L918.7 270.8 L922.7 272 L926.7 273 L930.7 273.7 L934.7 274.2 L938.7 274.6 L942.7 274.7 L946.7 274.8 L950.7 274.7 L954.7 274.6 L958.7 274.3 L962.7 274 L966.7 273.5 L970.7 273.1 L974.7 272.5 L978.7 271.9 L992.7 269.6 L1006.7 266.9 L1020.7 263.9 L1034.7 260.8 L1048.7 257.6 L1062.7 254.4 L1076.7 251.1 L1090.7 247.8 L1104.7 244.5 L1118.7 241.1 L1132.7 237.8 L1146.7 234.5 L1150.8 233.5 L1153.6 229.3 L1157.5 218 L1171 93 M848.7 141.9 L850.7 149.5 L852.7 156.7 L854.7 163.3 L856.7 169.5 L858.7 175.4 L860.7 180.8 L862.7 185.9 L864.7 190.6 L866.7 195.1 L868.7 199.2 L870.7 203 L872.7 206.6 L874.7 209.9 L876.7 213 L878.7 215.9 L880.7 218.6 L882.7 221.1 L884.7 223.4 L886.7 225.5 L888.7 227.5 L890.7 229.3 L892.7 231 L894.7 232.6 L896.7 234 L898.7 235.3 L900.7 236.5 L902.7 237.6 L904.7 238.6 L906.7 239.6 L908.7 240.4 L910.7 241.1 L912.7 241.8 L914.7 242.4 L916.7 243 L918.7 243.4 L922.7 244.2 L926.7 244.8 L930.7 245.2 L934.7 245.4 L938.7 245.5 L942.7 245.5 L946.7 245.4 L950.7 245.1 L954.7 244.8 L958.7 244.4 L962.7 243.9 L966.7 243.4 L970.7 242.9 L974.7 242.2 L978.7 241.6 L992.7 239 L1006.7 236.2 L1020.7 233.1 L1034.7 230 L1048.7 226.8 L1062.7 223.5 L1076.7 220.2 L1090.7 216.9 L1104.7 213.5 L1118.7 210.2 L1132.7 206.8 L1146.7 203.5 L1150.8 202.5 L1153.6 199.2 L1157.5 190.4 L1171 93 M848.7 141.9 L850.7 148.1 L852.7 153.9 L854.7 159.2 L856.7 164.3 L858.7 169 L860.7 173.4 L862.7 177.4 L864.7 181.3 L866.7 184.8 L868.7 188.1 L870.7 191.2 L872.7 194 L874.7 196.7 L876.7 199.1 L878.7 201.4 L880.7 203.5 L882.7 205.5 L884.7 207.3 L886.7 209 L888.7 210.5 L890.7 211.9 L892.7 213.2 L894.7 214.4 L896.7 215.5 L898.7 216.5 L900.7 217.4 L902.7 218.2 L904.7 218.9 L906.7 219.6 L908.7 220.2 L910.7 220.7 L912.7 221.2 L914.7 221.6 L916.7 222 L918.7 222.3 L922.7 222.7 L926.7 223 L930.7 223.2 L934.7 223.2 L938.7 223.1 L942.7 222.9 L946.7 222.6 L950.7 222.3 L954.7 221.8 L958.7 221.3 L962.7 220.8 L966.7 220.2 L970.7 219.5 L974.7 218.8 L978.7 218.1 L992.7 215.4 L1006.7 212.5 L1020.7 209.4 L1034.7 206.2 L1048.7 202.9 L1062.7 199.6 L1076.7 196.3 L1090.7 193 L1104.7 189.6 L1118.7 186.3 L1132.7 182.9 L1146.7 179.6 L1150.8 178.6 L1153.6 176 L1157.5 169.2 L1171 93 M848.7 141.9 L850.7 146.8 L852.7 151.3 L854.7 155.6 L856.7 159.5 L858.7 163.2 L860.7 166.7 L862.7 169.9 L864.7 172.8 L866.7 175.6 L868.7 178.1 L870.7 180.5 L872.7 182.7 L874.7 184.7 L876.7 186.6 L878.7 188.3 L880.7 189.9 L882.7 191.4 L884.7 192.8 L886.7 194 L888.7 195.1 L890.7 196.2 L892.7 197.1 L894.7 197.9 L896.7 198.7 L898.7 199.4 L900.7 200 L902.7 200.6 L904.7 201.1 L906.7 201.5 L908.7 201.9 L910.7 202.2 L912.7 202.5 L914.7 202.7 L916.7 202.9 L918.7 203 L922.7 203.2 L926.7 203.2 L930.7 203.1 L934.7 202.9 L938.7 202.6 L942.7 202.2 L946.7 201.8 L950.7 201.3 L954.7 200.7 L958.7 200.1 L962.7 199.4 L966.7 198.7 L970.7 198 L974.7 197.2 L978.7 196.5 L992.7 193.5 L1006.7 190.4 L1020.7 187.2 L1034.7 183.9 L1048.7 180.5 L1062.7 177.2 L1076.7 173.7 L1090.7 170.3 L1104.7 166.9 L1118.7 163.5 L1132.7 160 L1146.7 156.6 L1149.4 155.9 L1152.4 154 L1156.5 149 L1171 93 M848.7 141.9 L850.7 145.4 L852.7 148.7 L854.7 151.8 L856.7 154.6 L858.7 157.3 L860.7 159.7 L862.7 162 L864.7 164.1 L866.7 166 L868.7 167.8 L870.7 169.5 L872.7 171 L874.7 172.4 L876.7 173.7 L878.7 174.9 L880.7 176 L882.7 177 L884.7 177.8 L886.7 178.7 L888.7 179.4 L890.7 180 L892.7 180.6 L894.7 181.1 L896.7 181.6 L898.7 182 L900.7 182.4 L902.7 182.7 L904.7 182.9 L906.7 183.1 L908.7 183.3 L910.7 183.4 L912.7 183.5 L914.7 183.5 L916.7 183.6 L918.7 183.5 L922.7 183.4 L926.7 183.2 L930.7 182.9 L934.7 182.5 L938.7 182.1 L942.7 181.6 L946.7 181 L950.7 180.4 L954.7 179.8 L958.7 179.1 L962.7 178.3 L966.7 177.6 L970.7 176.8 L974.7 176 L978.7 175.2 L992.7 172.2 L1006.7 169.1 L1020.7 165.9 L1034.7 162.6 L1048.7 159.3 L1062.7 156 L1076.7 152.6 L1090.7 149.2 L1104.7 145.9 L1118.7 142.5 L1132.7 139.1 L1146.7 135.8 L1148 135.5 L1151.2 134.2 L1155.6 130.8 L1171 93 M848.7 141.9 L850.7 144.2 L852.7 146.3 L854.7 148.3 L856.7 150.1 L858.7 151.8 L860.7 153.3 L862.7 154.7 L864.7 156 L866.7 157.2 L868.7 158.3 L870.7 159.3 L872.7 160.2 L874.7 161.1 L876.7 161.8 L878.7 162.5 L880.7 163.1 L882.7 163.6 L884.7 164.1 L886.7 164.5 L888.7 164.9 L890.7 165.2 L892.7 165.5 L894.7 165.7 L896.7 165.9 L898.7 166 L900.7 166.1 L902.7 166.2 L904.7 166.2 L906.7 166.2 L908.7 166.2 L910.7 166.2 L912.7 166.1 L914.7 166 L916.7 165.9 L918.7 165.7 L922.7 165.4 L926.7 165 L930.7 164.5 L934.7 164 L938.7 163.4 L942.7 162.8 L946.7 162.1 L950.7 161.4 L954.7 160.7 L958.7 160 L962.7 159.2 L966.7 158.4 L970.7 157.6 L974.7 156.8 L978.7 156 L992.7 153 L1006.7 149.9 L1020.7 146.7 L1034.7 143.5 L1048.7 140.3 L1062.7 137.1 L1076.7 133.8 L1090.7 130.6 L1104.7 127.3 L1118.7 124.1 L1132.7 120.8 L1146.3 117.6 L1149.8 116.9 L1154.5 114.9 L1171 93 M848.7 141.9 L850.7 143.3 L852.7 144.6 L854.7 145.8 L856.7 146.9 L858.7 147.9 L860.7 148.8 L862.7 149.6 L864.7 150.3 L866.7 151 L868.7 151.6 L870.7 152.1 L872.7 152.6 L874.7 153 L876.7 153.3 L878.7 153.6 L880.7 153.9 L882.7 154.1 L884.7 154.3 L886.7 154.4 L888.7 154.5 L890.7 154.5 L892.7 154.6 L894.7 154.5 L896.7 154.5 L898.7 154.4 L900.7 154.3 L902.7 154.2 L904.7 154.1 L906.7 153.9 L908.7 153.8 L910.7 153.6 L912.7 153.3 L914.7 153.1 L916.7 152.9 L918.7 152.6 L922.7 152 L926.7 151.4 L930.7 150.8 L934.7 150.1 L938.7 149.4 L942.7 148.6 L946.7 147.9 L950.7 147.1 L954.7 146.2 L958.7 145.4 L962.7 144.6 L966.7 143.7 L970.7 142.8 L974.7 142 L978.7 141.1 L992.7 137.9 L1006.7 134.7 L1020.7 131.4 L1034.7 128.1 L1048.7 124.8 L1062.7 121.4 L1076.7 118.1 L1090.7 114.8 L1104.7 111.4 L1118.7 108.1 L1132.7 104.7 L1145.2 101.7 L1148.8 101.5 L1153.7 100.8 L1171 93 M848.7 141.9 L850.7 142.6 L852.7 143.2 L854.7 143.7 L856.7 144.1 L858.7 144.5 L860.7 144.9 L862.7 145.2 L864.7 145.4 L866.7 145.6 L868.7 145.7 L870.7 145.9 L872.7 145.9 L874.7 146 L876.7 146 L878.7 146 L880.7 145.9 L882.7 145.8 L884.7 145.7 L886.7 145.6 L888.7 145.4 L890.7 145.2 L892.7 145 L894.7 144.8 L896.7 144.6 L898.7 144.4 L900.7 144.1 L902.7 143.8 L904.7 143.5 L906.7 143.2 L908.7 142.9 L910.7 142.6 L912.7 142.2 L914.7 141.9 L916.7 141.5 L918.7 141.2 L922.7 140.4 L926.7 139.6 L930.7 138.8 L934.7 138 L938.7 137.2 L942.7 136.3 L946.7 135.4 L950.7 134.5 L954.7 133.6 L958.7 132.7 L962.7 131.8 L966.7 130.9 L970.7 130 L974.7 129 L978.7 128.1 L992.7 124.7 L1006.7 121.4 L1020.7 118 L1034.7 114.6 L1048.7 111.2 L1062.7 107.7 L1076.7 104.3 L1090.7 100.9 L1104.7 97.5 L1118.7 94 L1132.7 90.6 L1145.2 87.6 L1171 93 M1172.4 266.7 L1186.4 263.6 L1200.4 260.5 L1214.4 257.3 L1228.4 254.2 L1242.4 251 L1256.4 247.8 L1270.4 244.6 L1284.4 241.2 L1288.4 240.2 L1292.4 239.2 L1296.4 238.2 L1300.4 237.2 L1304.4 236.1 L1308.4 235 L1312.4 233.9 L1316.4 232.7 L1320.4 231.5 L1324.4 230.2 L1328.4 228.9 L1332.4 227.5 L1336.4 226.1 L1340.4 224.5 L1344.4 222.9 L1348.4 221.1 L1352.4 219.2 L1356.4 217.1 L1358.4 216 L1360.4 214.9 L1362.4 213.7 L1364.4 212.4 L1366.4 211.1 L1368.4 209.7 L1370.4 208.3 L1372.4 206.8 L1374.4 205.2 L1376.4 203.5 L1378.4 201.7 L1380.4 199.8 L1382.4 197.9 L1384.4 195.8 L1386.4 193.6 L1388.4 191.2 L1390.4 188.7 L1392.4 186.1 L1394.4 183.3 L1396.4 180.3 L1398.4 177.1 L1400.4 173.7 L1402.4 170.2 L1404.4 166.3 L1406.4 162.3 L1408.4 157.9 L1410.4 153.3 L1412.4 148.4 L1414.4 143.1 L1416.4 137.5 L1418.4 131.5 L1420.4 125 L1422.4 118.2 L1424.4 110.8 L1426.4 103 L1428.4 94.6 L1430.4 85.6 L1432.4 76 L1434.4 65.7 L1436.4 54.6 L1438.4 42.8 L1440.4 30.2 L1442.4 16.6 L1443.3 10.2 M1172.4 229.3 L1186.4 226.2 L1200.4 223.1 L1214.4 220 L1228.4 216.8 L1242.4 213.7 L1256.4 210.5 L1270.4 207.3 L1284.4 203.9 L1288.4 203 L1292.4 202 L1296.4 201 L1300.4 200 L1304.4 199 L1308.4 197.9 L1312.4 196.8 L1316.4 195.7 L1320.4 194.5 L1324.4 193.4 L1328.4 192.1 L1332.4 190.8 L1336.4 189.5 L1340.4 188.1 L1344.4 186.6 L1348.4 185 L1352.4 183.2 L1356.4 181.4 L1358.4 180.4 L1360.4 179.4 L1362.4 178.4 L1364.4 177.3 L1366.4 176.1 L1368.4 174.9 L1370.4 173.7 L1372.4 172.4 L1374.4 171 L1376.4 169.5 L1378.4 168 L1380.4 166.4 L1382.4 164.7 L1384.4 162.9 L1386.4 161.1 L1388.4 159.1 L1390.4 157 L1392.4 154.7 L1394.4 152.4 L1396.4 149.9 L1398.4 147.2 L1400.4 144.4 L1402.4 141.4 L1404.4 138.3 L1406.4 134.9 L1408.4 131.3 L1410.4 127.5 L1412.4 123.4 L1414.4 119 L1416.4 114.4 L1418.4 109.4 L1420.4 104.1 L1422.4 98.5 L1424.4 92.5 L1426.4 86 L1428.4 79.2 L1430.4 71.8 L1432.4 63.9 L1434.4 55.5 L1436.4 46.5 L1438.4 36.8 L1440.4 26.5 L1442.4 15.4 L1443.3 10.2 M1172.4 196.7 L1186.4 193.6 L1200.4 190.5 L1214.4 187.4 L1228.4 184.2 L1242.4 181.1 L1256.4 177.9 L1270.4 174.7 L1284.4 171.5 L1288.4 170.5 L1292.4 169.5 L1296.4 168.6 L1300.4 167.6 L1304.4 166.6 L1308.4 165.6 L1312.4 164.5 L1316.4 163.4 L1320.4 162.4 L1324.4 161.2 L1328.4 160.1 L1332.4 158.9 L1336.4 157.6 L1340.4 156.3 L1344.4 154.9 L1348.4 153.5 L1352.4 151.9 L1356.4 150.3 L1358.4 149.4 L1360.4 148.5 L1362.4 147.6 L1364.4 146.6 L1366.4 145.6 L1368.4 144.6 L1370.4 143.5 L1372.4 142.3 L1374.4 141.2 L1376.4 139.9 L1378.4 138.6 L1380.4 137.3 L1382.4 135.8 L1384.4 134.3 L1386.4 132.7 L1388.4 131.1 L1390.4 129.3 L1392.4 127.4 L1394.4 125.5 L1396.4 123.4 L1398.4 121.2 L1400.4 118.9 L1402.4 116.4 L1404.4 113.8 L1406.4 111 L1408.4 108.1 L1410.4 104.9 L1412.4 101.6 L1414.4 98 L1416.4 94.3 L1418.4 90.2 L1420.4 85.9 L1422.4 81.4 L1424.4 76.5 L1426.4 71.3 L1428.4 65.7 L1430.4 59.8 L1432.4 53.4 L1434.4 46.6 L1436.4 39.4 L1438.4 31.6 L1440.4 23.3 L1442.4 14.4 L1443.3 10.2 M1172.4 172.4 L1186.4 169.3 L1200.4 166.2 L1214.4 163.1 L1228.4 160 L1242.4 156.8 L1256.4 153.7 L1270.4 150.5 L1284.4 147.2 L1288.4 146.3 L1292.4 145.4 L1296.4 144.4 L1300.4 143.4 L1304.4 142.4 L1308.4 141.5 L1312.4 140.4 L1316.4 139.4 L1320.4 138.4 L1324.4 137.3 L1328.4 136.2 L1332.4 135 L1336.4 133.8 L1340.4 132.6 L1344.4 131.3 L1348.4 130 L1352.4 128.6 L1356.4 127.1 L1358.4 126.3 L1360.4 125.5 L1362.4 124.6 L1364.4 123.8 L1366.4 122.9 L1368.4 121.9 L1370.4 121 L1372.4 120 L1374.4 118.9 L1376.4 117.8 L1378.4 116.7 L1380.4 115.5 L1382.4 114.3 L1384.4 113 L1386.4 111.6 L1388.4 110.2 L1390.4 108.7 L1392.4 107.1 L1394.4 105.4 L1396.4 103.6 L1398.4 101.8 L1400.4 99.8 L1402.4 97.7 L1404.4 95.5 L1406.4 93.2 L1408.4 90.7 L1410.4 88.1 L1412.4 85.3 L1414.4 82.4 L1416.4 79.3 L1418.4 75.9 L1420.4 72.4 L1422.4 68.6 L1424.4 64.6 L1426.4 60.3 L1428.4 55.7 L1430.4 50.8 L1432.4 45.6 L1434.4 40 L1436.4 34.1 L1438.4 27.7 L1440.4 20.9 L1442.4 13.6 L1443.3 10.2 M1172.4 151 L1186.4 147.9 L1200.4 144.8 L1214.4 141.7 L1228.4 138.6 L1242.4 135.4 L1256.4 132.3 L1270.4 129.1 L1284.4 125.9 L1288.4 125 L1292.4 124.1 L1296.4 123.1 L1300.4 122.2 L1304.4 121.2 L1308.4 120.2 L1312.4 119.2 L1316.4 118.2 L1320.4 117.2 L1324.4 116.2 L1328.4 115.1 L1332.4 114 L1336.4 112.9 L1340.4 111.7 L1344.4 110.5 L1348.4 109.3 L1352.4 108 L1356.4 106.6 L1358.4 105.9 L1360.4 105.2 L1362.4 104.4 L1364.4 103.6 L1366.4 102.8 L1368.4 102 L1370.4 101.2 L1372.4 100.3 L1374.4 99.4 L1376.4 98.4 L1378.4 97.4 L1380.4 96.4 L1382.4 95.3 L1384.4 94.2 L1386.4 93 L1388.4 91.8 L1390.4 90.5 L1392.4 89.2 L1394.4 87.7 L1396.4 86.3 L1398.4 84.7 L1400.4 83 L1402.4 81.3 L1404.4 79.5 L1406.4 77.5 L1408.4 75.5 L1410.4 73.3 L1412.4 71 L1414.4 68.6 L1416.4 66 L1418.4 63.3 L1420.4 60.4 L1422.4 57.3 L1424.4 54 L1426.4 50.6 L1428.4 46.8 L1430.4 42.9 L1432.4 38.7 L1434.4 34.2 L1436.4 29.4 L1438.4 24.3 L1440.4 18.8 L1442.4 13 L1443.3 10.2 M1172.4 129.5 L1186.4 126.4 L1200.4 123.3 L1214.4 120.2 L1228.4 117.1 L1242.4 114 L1256.4 110.8 L1270.4 107.7 L1284.4 104.5 L1288.4 103.6 L1292.4 102.7 L1296.4 101.7 L1300.4 100.8 L1304.4 99.8 L1308.4 98.9 L1312.4 97.9 L1316.4 97 L1320.4 96 L1324.4 95 L1328.4 94 L1332.4 92.9 L1336.4 91.9 L1340.4 90.8 L1344.4 89.7 L1348.4 88.5 L1352.4 87.3 L1356.4 86.1 L1358.4 85.4 L1360.4 84.8 L1362.4 84.1 L1364.4 83.4 L1366.4 82.7 L1368.4 82 L1370.4 81.3 L1372.4 80.5 L1374.4 79.7 L1376.4 78.9 L1378.4 78 L1380.4 77.2 L1382.4 76.3 L1384.4 75.3 L1386.4 74.3 L1388.4 73.3 L1390.4 72.3 L1392.4 71.1 L1394.4 70 L1396.4 68.8 L1398.4 67.5 L1400.4 66.2 L1402.4 64.8 L1404.4 63.3 L1406.4 61.8 L1408.4 60.2 L1410.4 58.5 L1412.4 56.7 L1414.4 54.8 L1416.4 52.8 L1418.4 50.6 L1420.4 48.4 L1422.4 46 L1424.4 43.5 L1426.4 40.8 L1428.4 38 L1430.4 34.9 L1432.4 31.7 L1434.4 28.3 L1436.4 24.7 L1438.4 20.8 L1440.4 16.7 L1442.4 12.3 L1443.3 10.2 M1172.4 110.8 L1186.4 107.7 L1200.4 104.6 L1214.4 101.5 L1228.4 98.4 L1242.4 95.3 L1256.4 92.1 L1270.4 89 L1284.4 85.9 L1288.4 84.9 L1292.4 84 L1296.4 83.1 L1300.4 82.2 L1304.4 81.3 L1308.4 80.4 L1312.4 79.4 L1316.4 78.5 L1320.4 77.5 L1324.4 76.6 L1328.4 75.6 L1332.4 74.6 L1336.4 73.6 L1340.4 72.6 L1344.4 71.5 L1348.4 70.5 L1352.4 69.4 L1356.4 68.2 L1358.4 67.6 L1360.4 67.1 L1362.4 66.5 L1364.4 65.9 L1366.4 65.2 L1368.4 64.6 L1370.4 63.9 L1372.4 63.3 L1374.4 62.6 L1376.4 61.9 L1378.4 61.2 L1380.4 60.4 L1382.4 59.7 L1384.4 58.9 L1386.4 58.1 L1388.4 57.2 L1390.4 56.4 L1392.4 55.5 L1394.4 54.6 L1396.4 53.6 L1398.4 52.6 L1400.4 51.5 L1402.4 50.4 L1404.4 49.3 L1406.4 48.1 L1408.4 46.9 L1410.4 45.5 L1412.4 44.2 L1414.4 42.7 L1416.4 41.2 L1418.4 39.6 L1420.4 38 L1422.4 36.2 L1424.4 34.3 L1426.4 32.3 L1428.4 30.3 L1430.4 28 L1432.4 25.7 L1434.4 23.2 L1436.4 20.6 L1438.4 17.8 L1440.4 14.8 L1442.4 11.7 L1443.3 10.2 M1172.4 95.9 L1186.4 92.8 L1200.4 89.7 L1214.4 86.6 L1228.4 83.5 L1242.4 80.4 L1256.4 77.3 L1270.4 74.1 L1284.4 71 L1288.4 70.1 L1292.4 69.2 L1296.4 68.3 L1300.4 67.4 L1304.4 66.5 L1308.4 65.6 L1312.4 64.7 L1316.4 63.7 L1320.4 62.8 L1324.4 61.9 L1328.4 60.9 L1332.4 60 L1336.4 59 L1340.4 58 L1344.4 57.1 L1348.4 56.1 L1352.4 55 L1356.4 54 L1358.4 53.5 L1360.4 52.9 L1362.4 52.4 L1364.4 51.8 L1366.4 51.3 L1368.4 50.7 L1370.4 50.1 L1372.4 49.6 L1374.4 49 L1376.4 48.4 L1378.4 47.7 L1380.4 47.1 L1382.4 46.5 L1384.4 45.8 L1386.4 45.1 L1388.4 44.4 L1390.4 43.7 L1392.4 43 L1394.4 42.2 L1396.4 41.5 L1398.4 40.7 L1400.4 39.8 L1402.4 39 L1404.4 38.1 L1406.4 37.2 L1408.4 36.2 L1410.4 35.3 L1412.4 34.2 L1414.4 33.1 L1416.4 32 L1418.4 30.9 L1420.4 29.6 L1422.4 28.3 L1424.4 27 L1426.4 25.6 L1428.4 24.1 L1430.4 22.5 L1432.4 20.9 L1434.4 19.2 L1436.4 17.3 L1438.4 15.4 L1440.4 13.4 L1442.4 11.2 L1443.3 10.2 M1172.4 82.8 L1186.4 79.7 L1200.4 76.6 L1214.4 73.5 L1228.4 70.4 L1242.4 67.3 L1256.4 64.2 L1270.4 61.1 L1284.4 58 L1288.4 57.1 L1292.4 56.2 L1296.4 55.3 L1300.4 54.4 L1304.4 53.5 L1308.4 52.6 L1312.4 51.7 L1316.4 50.8 L1320.4 49.9 L1324.4 49 L1328.4 48 L1332.4 47.1 L1336.4 46.2 L1340.4 45.3 L1344.4 44.3 L1348.4 43.4 L1352.4 42.4 L1356.4 41.5 L1358.4 41 L1360.4 40.5 L1362.4 40 L1364.4 39.5 L1366.4 39 L1368.4 38.5 L1370.4 38 L1372.4 37.5 L1374.4 37 L1376.4 36.5 L1378.4 35.9 L1380.4 35.4 L1382.4 34.9 L1384.4 34.3 L1386.4 33.8 L1388.4 33.2 L1390.4 32.6 L1392.4 32 L1394.4 31.4 L1396.4 30.8 L1398.4 30.2 L1400.4 29.6 L1402.4 28.9 L1404.4 28.3 L1406.4 27.6 L1408.4 26.9 L1410.4 26.2 L1412.4 25.5 L1414.4 24.7 L1416.4 23.9 L1418.4 23.1 L1420.4 22.3 L1422.4 21.5 L1424.4 20.6 L1426.4 19.7 L1428.4 18.7 L1430.4 17.7 L1432.4 16.7 L1434.4 15.6 L1436.4 14.5 L1438.4 13.3 L1440.4 12.1 L1442.4 10.8 L1443.3 10.2" fill="none" stroke="#0a1a1e" stroke-width="1.9" stroke-opacity="0.85" stroke-linejoin="round"/>
<path d="M1170 70.4 L1172.9 69.8 L1172.9 93.6 L1170 93.6Z" fill="#bddf26"/>
<path d="M1162.1 83.2 L1172.9 82.8 L1172.9 93.6 L1171.5 93.6Z" fill="#7ad151"/>
<path d="M1162.1 83.2 L1172.9 82.8" stroke="#1a2a10" stroke-width="1.9" fill="none" stroke-opacity="0.8"/>
<linearGradient id="wg2" gradientUnits="userSpaceOnUse" x1="0" y1="93" x2="0" y2="188"><stop offset="0" stop-color="#0c0a20"/><stop offset="0.45" stop-color="#1c0a3c"/><stop offset="1" stop-color="#440154"/></linearGradient>
<path d="M1170.7 94 L1172.4 94 L1172.4 188 L1163.5 188Z" fill="url(#wg2)"/>
<linearGradient id="ng2" gradientUnits="userSpaceOnUse" x1="1118" y1="78.3" x2="1131" y2="72.3"><stop offset="0" stop-color="#04100c"/><stop offset="0.3" stop-color="#0a2e22"/><stop offset="0.55" stop-color="#4f8a2c"/><stop offset="0.8" stop-color="#bddf26"/></linearGradient>
<path d="M1117.4 64.6 L1118.8 64.6 L1146.7 75.5 L1146.7 76.9 L1117.4 83.3Z" fill="url(#ng2)"/>
<text x="1006.7" y="129.6" transform="rotate(-13 1006.7 122.6)" class="cl">1844.44</text>
<text x="1092.3" y="141.6" transform="rotate(-13 1092.3 134.6)" class="cl">1533.33</text>
<text x="1260.7" y="85.2" transform="rotate(-13 1260.7 78.2)" class="cl">1688.89</text>
<text x="1320.7" y="112.4" transform="rotate(-13 1320.7 105.4)" class="cl">1377.78</text>
<text x="1030.2" y="195.8" transform="rotate(-13 1030.2 188.8)" class="cl">1222.22</text>
<text x="1266" y="164.5" transform="rotate(-13 1266 157.5)" class="cl">1066.67</text>
<text x="1088.6" y="232.3" transform="rotate(-13 1088.6 225.3)" class="cl">911.111</text>
<text x="1269.6" y="220.9" transform="rotate(-13 1269.6 213.9)" class="cl">755.556</text>
<text x="1089.7" y="295.4" transform="rotate(-13 1089.7 288.4)" class="cl">600</text></g>
<g><path d="M191 521.9 L787.8 384 L787.8 690 L191 690Z" fill="#440154"/>
<path d="M191 521.9 L191 521.9 L193 536.1 L195 547.4 L197 557.4 L199 566.3 L201 574.4 L203 581.8 L205 588.7 L207 594.9 L209 600.7 L211 606.1 L213 611.1 L215 615.7 L217 620 L219 624 L221 627.7 L223 631.1 L225 634.3 L227 637.3 L229 640.1 L231 642.7 L233 645.1 L235 647.3 L237 649.4 L239 651.4 L241 653.2 L243 654.9 L245 656.4 L247 657.9 L249 659.2 L251 660.5 L253 661.6 L255 662.7 L257 663.7 L259 664.6 L261 665.4 L265 666.9 L269 668.1 L273 669.2 L277 670 L281 670.7 L285 671.2 L289 671.5 L293 671.8 L297 671.9 L301 672 L305 671.9 L309 671.8 L313 671.6 L317 671.4 L321 671.1 L335 669.6 L349 667.8 L363 665.6 L377 663.3 L391 660.8 L405 658.1 L419 655.5 L433 652.7 L447 650 L461 647.2 L475 644.3 L489 641.5 L494.2 640.5 L497.4 635.3 L501.7 621.5 L517 467.8 L517 446.6Z" fill="#482475"/>
<path d="M191 521.9 L191 521.9 L193 532.3 L195 540.5 L197 547.7 L199 554.1 L201 560 L203 565.4 L205 570.3 L207 574.8 L209 579 L211 582.8 L213 586.4 L215 589.7 L217 592.8 L219 595.7 L221 598.3 L223 600.8 L225 603 L227 605.2 L229 607.1 L231 609 L233 610.7 L235 612.2 L237 613.7 L239 615.1 L241 616.3 L243 617.5 L245 618.5 L247 619.5 L249 620.5 L251 621.3 L253 622.1 L255 622.8 L257 623.4 L259 624 L261 624.6 L265 625.5 L269 626.3 L273 626.9 L277 627.3 L281 627.7 L285 627.9 L289 628 L293 628.1 L297 628 L301 627.9 L305 627.7 L309 627.5 L313 627.2 L317 626.9 L321 626.5 L335 624.9 L349 623 L363 620.9 L377 618.6 L391 616.2 L405 613.8 L419 611.2 L433 608.7 L447 606.1 L461 603.5 L475 600.9 L489 598.3 L494.2 597.3 L497.4 593.4 L501.7 583 L517 467.8 L517 446.6Z" fill="#414487"/>
<path d="M191 521.9 L191 521.9 L193 529.3 L195 535.1 L197 540.2 L199 544.8 L201 549 L203 552.7 L205 556.2 L207 559.4 L209 562.3 L211 565 L213 567.5 L215 569.8 L217 571.9 L219 573.9 L221 575.7 L223 577.4 L225 578.9 L227 580.4 L229 581.7 L231 582.9 L233 584.1 L235 585.1 L237 586.1 L239 587 L241 587.8 L243 588.5 L245 589.2 L247 589.8 L249 590.4 L251 590.9 L253 591.4 L255 591.8 L257 592.2 L259 592.5 L261 592.8 L265 593.3 L269 593.7 L273 593.9 L277 594.1 L281 594.1 L285 594.1 L289 594 L293 593.8 L297 593.6 L301 593.3 L305 593 L309 592.6 L313 592.2 L317 591.8 L321 591.3 L335 589.5 L349 587.4 L363 585.2 L377 582.9 L391 580.4 L405 578 L419 575.4 L433 572.9 L447 570.3 L461 567.7 L475 565.2 L489 562.6 L494.2 561.6 L497.4 558.8 L501.7 551.3 L517 467.8 L517 446.6Z" fill="#355f8d"/>
<path d="M191 521.9 L191 521.9 L193 527.2 L195 531.4 L197 535 L199 538.3 L201 541.2 L203 543.9 L205 546.3 L207 548.6 L209 550.6 L211 552.5 L213 554.2 L215 555.8 L217 557.2 L219 558.5 L221 559.8 L223 560.9 L225 561.9 L227 562.9 L229 563.7 L231 564.5 L233 565.2 L235 565.9 L237 566.5 L239 567 L241 567.5 L243 567.9 L245 568.3 L247 568.7 L249 569 L251 569.2 L253 569.5 L255 569.7 L257 569.8 L259 569.9 L261 570 L265 570.2 L269 570.2 L273 570.2 L277 570 L281 569.8 L285 569.6 L289 569.3 L293 568.9 L297 568.5 L301 568.1 L305 567.6 L309 567.1 L313 566.6 L317 566 L321 565.4 L335 563.3 L349 560.9 L363 558.5 L377 555.9 L391 553.3 L405 550.7 L419 548 L433 545.3 L447 542.6 L461 539.9 L475 537.2 L489 534.4 L494.2 533.4 L497.4 531.4 L501.7 526.2 L517 467.8 L517 446.6Z" fill="#2a788e"/>
<path d="M191 521.9 L191 521.9 L193 525.9 L195 529 L197 531.7 L199 534.1 L201 536.3 L203 538.3 L205 540 L207 541.6 L209 543.1 L211 544.4 L213 545.7 L215 546.8 L217 547.8 L219 548.7 L221 549.5 L223 550.3 L225 551 L227 551.6 L229 552.2 L231 552.7 L233 553.1 L235 553.5 L237 553.9 L239 554.2 L241 554.4 L243 554.7 L245 554.8 L247 555 L249 555.1 L251 555.2 L253 555.3 L255 555.3 L257 555.3 L259 555.3 L261 555.3 L265 555.2 L269 555 L273 554.7 L277 554.4 L281 554.1 L285 553.6 L289 553.2 L293 552.7 L297 552.2 L301 551.6 L305 551 L309 550.4 L313 549.8 L317 549.1 L321 548.5 L335 546 L349 543.5 L363 540.8 L377 538.1 L391 535.3 L405 532.5 L419 529.7 L433 526.8 L447 524 L461 521.1 L475 518.3 L489 515.4 L492.7 514.6 L496.1 513.2 L500.7 509.5 L517 467.8 L517 446.6Z" fill="#21918c"/>
<path d="M191 521.9 L191 521.9 L193 524.9 L195 527.1 L197 529.1 L199 530.8 L201 532.4 L203 533.8 L205 535 L207 536.1 L209 537.1 L211 538.1 L213 538.9 L215 539.6 L217 540.3 L219 540.9 L221 541.4 L223 541.9 L225 542.3 L227 542.7 L229 543 L231 543.3 L233 543.6 L235 543.8 L237 543.9 L239 544.1 L241 544.2 L243 544.2 L245 544.3 L247 544.3 L249 544.3 L251 544.3 L253 544.2 L255 544.1 L257 544.1 L259 544 L261 543.8 L265 543.5 L269 543.2 L273 542.8 L277 542.3 L281 541.9 L285 541.3 L289 540.8 L293 540.2 L297 539.6 L301 539 L305 538.3 L309 537.7 L313 537 L317 536.3 L321 535.6 L335 533 L349 530.4 L363 527.6 L377 524.8 L391 522 L405 519.1 L419 516.3 L433 513.4 L447 510.5 L461 507.6 L475 504.7 L489 501.8 L491.2 501.3 L494.9 500.3 L499.7 497.6 L517 467.8 L517 446.6Z" fill="#22a884"/>
<path d="M191 521.9 L191 521.9 L193 524.1 L195 525.7 L197 527.1 L199 528.3 L201 529.4 L203 530.3 L205 531.1 L207 531.9 L209 532.5 L211 533.1 L213 533.6 L215 534.1 L217 534.5 L219 534.8 L221 535.1 L223 535.3 L225 535.5 L227 535.7 L229 535.8 L231 535.9 L233 536 L235 536 L237 536 L239 536 L241 535.9 L243 535.9 L245 535.8 L247 535.7 L249 535.5 L251 535.4 L253 535.2 L255 535.1 L257 534.9 L259 534.7 L261 534.4 L265 534 L269 533.4 L273 532.9 L277 532.3 L281 531.7 L285 531 L289 530.4 L293 529.7 L297 529 L301 528.2 L305 527.5 L309 526.7 L313 525.9 L317 525.2 L321 524.4 L335 521.5 L349 518.6 L363 515.6 L377 512.6 L391 509.6 L405 506.6 L419 503.5 L433 500.4 L447 497.3 L461 494.3 L475 491.2 L489 488.1 L489.5 488 L493.3 487.4 L498.6 485.8 L517 467.8 L517 446.6Z" fill="#44bf70"/>
<path d="M191 521.9 L191 521.9 L193 523.2 L195 524.2 L197 525.1 L199 525.7 L201 526.3 L203 526.9 L205 527.3 L207 527.7 L209 528 L211 528.2 L213 528.5 L215 528.6 L217 528.8 L219 528.8 L221 528.9 L223 528.9 L225 528.9 L227 528.9 L229 528.8 L231 528.8 L233 528.7 L235 528.5 L237 528.4 L239 528.2 L241 528.1 L243 527.9 L245 527.7 L247 527.5 L249 527.2 L251 527 L253 526.7 L255 526.5 L257 526.2 L259 525.9 L261 525.6 L265 525 L269 524.4 L273 523.7 L277 523 L281 522.3 L285 521.6 L289 520.8 L293 520 L297 519.3 L301 518.5 L305 517.7 L309 516.9 L313 516.1 L317 515.2 L321 514.4 L335 511.4 L349 508.4 L363 505.4 L377 502.3 L391 499.2 L405 496.1 L419 493 L433 489.9 L447 486.8 L461 483.7 L475 480.5 L488.3 477.5 L492.3 477.3 L497.8 476.5 L517 467.8 L517 446.6Z" fill="#7ad151"/>
<path d="M191 521.9 L191 521.9 L193 522.7 L195 523.2 L197 523.6 L199 523.9 L201 524.2 L203 524.3 L205 524.5 L207 524.6 L209 524.6 L211 524.6 L213 524.6 L215 524.5 L217 524.4 L219 524.3 L221 524.1 L223 524 L225 523.8 L227 523.6 L229 523.4 L231 523.1 L233 522.9 L235 522.6 L237 522.3 L239 522 L241 521.7 L243 521.4 L245 521 L247 520.7 L249 520.4 L251 520 L253 519.6 L255 519.3 L257 518.9 L259 518.5 L261 518.1 L265 517.3 L269 516.5 L273 515.6 L277 514.8 L281 513.9 L285 513 L289 512.1 L293 511.2 L297 510.3 L301 509.4 L305 508.5 L309 507.5 L313 506.6 L317 505.6 L321 504.7 L335 501.3 L349 497.9 L363 494.5 L377 491.1 L391 487.7 L405 484.2 L419 480.8 L433 477.3 L447 473.9 L461 470.4 L475 467 L488.3 463.7 L517 467.8 L517 446.6Z" fill="#bddf26"/>
<path d="M520 445.9 L520 635.3 L534 632 L548 628.7 L562 625.3 L576 621.9 L590 618.3 L604 614.6 L618 610.7 L622 609.5 L626 608.3 L630 607.1 L634 605.8 L638 604.5 L642 603.1 L646 601.7 L650 600.2 L654 598.6 L658 597 L662 595.3 L666 593.5 L670 591.6 L674 589.5 L678 587.4 L682 585.1 L686 582.7 L690 580.1 L694 577.3 L698 574.2 L700 572.6 L702 571 L704 569.3 L706 567.5 L708 565.6 L710 563.7 L712 561.7 L714 559.6 L716 557.4 L718 555.1 L720 552.8 L722 550.3 L724 547.8 L726 545.1 L728 542.3 L730 539.4 L732 536.4 L734 533.2 L736 529.9 L738 526.5 L740 522.9 L742 519.2 L744 515.3 L746 511.3 L748 507.1 L750 502.7 L752 498.1 L754 493.3 L756 488.4 L758 483.2 L760 477.9 L762 472.3 L764 466.5 L766 460.5 L768 454.3 L770 447.9 L772 441.2 L774 434.4 L776 427.3 L778 420.1 L780 412.7 L782 405.1 L784 397.6 L786 390.1 L787.8 384Z" fill="#482475"/>
<path d="M520 445.9 L520 590.5 L534 587.2 L548 583.9 L562 580.6 L576 577.2 L590 573.7 L604 570.1 L618 566.4 L622 565.3 L626 564.1 L630 562.9 L634 561.7 L638 560.5 L642 559.3 L646 557.9 L650 556.6 L654 555.2 L658 553.7 L662 552.2 L666 550.6 L670 548.9 L674 547.2 L678 545.3 L682 543.3 L686 541.3 L690 539 L694 536.7 L698 534.2 L700 532.8 L702 531.5 L704 530 L706 528.6 L708 527 L710 525.5 L712 523.8 L714 522.1 L716 520.3 L718 518.5 L720 516.6 L722 514.6 L724 512.5 L726 510.4 L728 508.1 L730 505.8 L732 503.4 L734 500.9 L736 498.3 L738 495.5 L740 492.7 L742 489.7 L744 486.7 L746 483.5 L748 480.1 L750 476.7 L752 473.1 L754 469.3 L756 465.4 L758 461.4 L760 457.2 L762 452.8 L764 448.3 L766 443.6 L768 438.8 L770 433.8 L772 428.6 L774 423.2 L776 417.7 L778 412.1 L780 406.3 L782 400.5 L784 394.6 L786 388.8 L787.8 384Z" fill="#414487"/>
<path d="M520 445.9 L520 555 L534 551.7 L548 548.5 L562 545.2 L576 541.8 L590 538.4 L604 534.9 L618 531.3 L622 530.2 L626 529.1 L630 528 L634 526.9 L638 525.7 L642 524.5 L646 523.3 L650 522.1 L654 520.8 L658 519.4 L662 518.1 L666 516.6 L670 515.1 L674 513.6 L678 512 L682 510.3 L686 508.5 L690 506.6 L694 504.5 L698 502.4 L700 501.3 L702 500.2 L704 499 L706 497.7 L708 496.5 L710 495.2 L712 493.8 L714 492.4 L716 491 L718 489.5 L720 487.9 L722 486.3 L724 484.6 L726 482.9 L728 481.1 L730 479.2 L732 477.3 L734 475.3 L736 473.2 L738 471 L740 468.7 L742 466.4 L744 464 L746 461.4 L748 458.8 L750 456.1 L752 453.3 L754 450.3 L756 447.3 L758 444.1 L760 440.8 L762 437.4 L764 433.9 L766 430.2 L768 426.5 L770 422.6 L772 418.5 L774 414.4 L776 410.1 L778 405.8 L780 401.3 L782 396.8 L784 392.2 L786 387.7 L787.8 384Z" fill="#355f8d"/>
<path d="M520 445.9 L520 528.9 L534 525.7 L548 522.4 L562 519.1 L576 515.8 L590 512.4 L604 509 L618 505.4 L622 504.4 L626 503.4 L630 502.3 L634 501.2 L638 500.1 L642 499 L646 497.8 L650 496.7 L654 495.5 L658 494.2 L662 493 L666 491.7 L670 490.3 L674 488.9 L678 487.4 L682 485.9 L686 484.3 L690 482.7 L694 480.9 L698 479.1 L700 478.1 L702 477.1 L704 476.1 L706 475.1 L708 474 L710 472.9 L712 471.8 L714 470.6 L716 469.4 L718 468.1 L720 466.8 L722 465.5 L724 464.1 L726 462.7 L728 461.2 L730 459.6 L732 458.1 L734 456.4 L736 454.7 L738 453 L740 451.1 L742 449.2 L744 447.3 L746 445.2 L748 443.1 L750 440.9 L752 438.7 L754 436.3 L756 433.9 L758 431.4 L760 428.8 L762 426.1 L764 423.3 L766 420.4 L768 417.4 L770 414.3 L772 411.2 L774 407.9 L776 404.5 L778 401.1 L780 397.6 L782 394 L784 390.4 L786 386.9 L787.8 384Z" fill="#2a788e"/>
<path d="M520 445.9 L520 509.3 L534 506.1 L548 502.8 L562 499.5 L576 496.2 L590 492.9 L604 489.5 L618 486.1 L622 485 L626 484 L630 483 L634 481.9 L638 480.9 L642 479.8 L646 478.7 L650 477.6 L654 476.5 L658 475.3 L662 474.1 L666 472.9 L670 471.7 L674 470.4 L678 469 L682 467.6 L686 466.2 L690 464.7 L694 463.2 L698 461.5 L700 460.7 L702 459.8 L704 459 L706 458.1 L708 457.1 L710 456.2 L712 455.2 L714 454.2 L716 453.1 L718 452.1 L720 451 L722 449.8 L724 448.7 L726 447.5 L728 446.2 L730 445 L732 443.6 L734 442.3 L736 440.9 L738 439.4 L740 437.9 L742 436.3 L744 434.7 L746 433.1 L748 431.4 L750 429.6 L752 427.7 L754 425.8 L756 423.9 L758 421.8 L760 419.7 L762 417.6 L764 415.3 L766 413 L768 410.6 L770 408.1 L772 405.6 L774 403 L776 400.3 L778 397.6 L780 394.8 L782 392 L784 389.1 L786 386.3 L787.8 384Z" fill="#21918c"/>
<path d="M520 445.9 L520 495.4 L534 492.1 L548 488.8 L562 485.6 L576 482.3 L590 479 L604 475.6 L618 472.2 L622 471.2 L626 470.2 L630 469.2 L634 468.2 L638 467.2 L642 466.1 L646 465.1 L650 464 L654 462.9 L658 461.8 L662 460.7 L666 459.5 L670 458.3 L674 457.1 L678 455.9 L682 454.6 L686 453.3 L690 451.9 L694 450.5 L698 449 L700 448.3 L702 447.5 L704 446.7 L706 445.9 L708 445.1 L710 444.2 L712 443.4 L714 442.5 L716 441.6 L718 440.6 L720 439.7 L722 438.7 L724 437.7 L726 436.6 L728 435.6 L730 434.5 L732 433.3 L734 432.2 L736 431 L738 429.7 L740 428.4 L742 427.1 L744 425.8 L746 424.4 L748 422.9 L750 421.5 L752 419.9 L754 418.3 L756 416.7 L758 415 L760 413.3 L762 411.5 L764 409.6 L766 407.7 L768 405.7 L770 403.7 L772 401.7 L774 399.5 L776 397.3 L778 395.1 L780 392.8 L782 390.5 L784 388.2 L786 385.9 L787.8 384Z" fill="#22a884"/>
<path d="M520 445.9 L520 482.3 L534 479 L548 475.8 L562 472.5 L576 469.2 L590 465.9 L604 462.6 L618 459.2 L622 458.3 L626 457.3 L630 456.3 L634 455.3 L638 454.3 L642 453.3 L646 452.3 L650 451.2 L654 450.2 L658 449.1 L662 448.1 L666 447 L670 445.9 L674 444.7 L678 443.6 L682 442.4 L686 441.2 L690 439.9 L694 438.6 L698 437.3 L700 436.6 L702 435.9 L704 435.2 L706 434.5 L708 433.8 L710 433 L712 432.3 L714 431.5 L716 430.7 L718 429.9 L720 429.1 L722 428.2 L724 427.4 L726 426.5 L728 425.6 L730 424.6 L732 423.7 L734 422.7 L736 421.7 L738 420.7 L740 419.6 L742 418.5 L744 417.4 L746 416.3 L748 415.1 L750 413.9 L752 412.6 L754 411.3 L756 410 L758 408.6 L760 407.2 L762 405.8 L764 404.3 L766 402.8 L768 401.2 L770 399.6 L772 397.9 L774 396.3 L776 394.5 L778 392.8 L780 391 L782 389.1 L784 387.3 L786 385.5 L787.8 384Z" fill="#44bf70"/>
<path d="M520 445.9 L520 471.1 L534 467.8 L548 464.6 L562 461.3 L576 458.1 L590 454.8 L604 451.5 L618 448.2 L622 447.2 L626 446.2 L630 445.3 L634 444.3 L638 443.3 L642 442.3 L646 441.4 L650 440.4 L654 439.3 L658 438.3 L662 437.3 L666 436.3 L670 435.2 L674 434.1 L678 433 L682 431.9 L686 430.8 L690 429.7 L694 428.5 L698 427.3 L700 426.7 L702 426.1 L704 425.4 L706 424.8 L708 424.1 L710 423.5 L712 422.8 L714 422.1 L716 421.4 L718 420.7 L720 420 L722 419.3 L724 418.6 L726 417.8 L728 417 L730 416.2 L732 415.4 L734 414.6 L736 413.8 L738 412.9 L740 412.1 L742 411.2 L744 410.2 L746 409.3 L748 408.3 L750 407.4 L752 406.3 L754 405.3 L756 404.3 L758 403.2 L760 402.1 L762 400.9 L764 399.7 L766 398.5 L768 397.3 L770 396.1 L772 394.8 L774 393.5 L776 392.1 L778 390.8 L780 389.4 L782 388 L784 386.6 L786 385.2 L787.8 384Z" fill="#7ad151"/>
<path d="M520 445.9 L520 459.3 L534 456 L548 452.8 L562 449.5 L576 446.3 L590 443 L604 439.8 L618 436.5 L622 435.5 L626 434.6 L630 433.7 L634 432.7 L638 431.8 L642 430.8 L646 429.8 L650 428.9 L654 427.9 L658 426.9 L662 426 L666 425 L670 424 L674 423 L678 422 L682 420.9 L686 419.9 L690 418.9 L694 417.8 L698 416.7 L700 416.2 L702 415.6 L704 415.1 L706 414.5 L708 414 L710 413.4 L712 412.8 L714 412.3 L716 411.7 L718 411.1 L720 410.5 L722 409.9 L724 409.3 L726 408.7 L728 408 L730 407.4 L732 406.8 L734 406.1 L736 405.4 L738 404.8 L740 404.1 L742 403.4 L744 402.7 L746 402 L748 401.2 L750 400.5 L752 399.8 L754 399 L756 398.2 L758 397.4 L760 396.6 L762 395.8 L764 394.9 L766 394.1 L768 393.2 L770 392.3 L772 391.4 L774 390.5 L776 389.6 L778 388.7 L780 387.7 L782 386.7 L784 385.8 L786 384.8 L787.8 384Z" fill="#bddf26"/>
<path d="M191 521.9 L193 536.1 L195 547.4 L197 557.4 L199 566.3 L201 574.4 L203 581.8 L205 588.7 L207 594.9 L209 600.7 L211 606.1 L213 611.1 L215 615.7 L217 620 L219 624 L221 627.7 L223 631.1 L225 634.3 L227 637.3 L229 640.1 L231 642.7 L233 645.1 L235 647.3 L237 649.4 L239 651.4 L241 653.2 L243 654.9 L245 656.4 L247 657.9 L249 659.2 L251 660.5 L253 661.6 L255 662.7 L257 663.7 L259 664.6 L261 665.4 L265 666.9 L269 668.1 L273 669.2 L277 670 L281 670.7 L285 671.2 L289 671.5 L293 671.8 L297 671.9 L301 672 L305 671.9 L309 671.8 L313 671.6 L317 671.4 L321 671.1 L335 669.6 L349 667.8 L363 665.6 L377 663.3 L391 660.8 L405 658.1 L419 655.5 L433 652.7 L447 650 L461 647.2 L475 644.3 L489 641.5 L494.2 640.5 L497.4 635.3 L501.7 621.5 L517 467.8 M191 521.9 L193 532.3 L195 540.5 L197 547.7 L199 554.1 L201 560 L203 565.4 L205 570.3 L207 574.8 L209 579 L211 582.8 L213 586.4 L215 589.7 L217 592.8 L219 595.7 L221 598.3 L223 600.8 L225 603 L227 605.2 L229 607.1 L231 609 L233 610.7 L235 612.2 L237 613.7 L239 615.1 L241 616.3 L243 617.5 L245 618.5 L247 619.5 L249 620.5 L251 621.3 L253 622.1 L255 622.8 L257 623.4 L259 624 L261 624.6 L265 625.5 L269 626.3 L273 626.9 L277 627.3 L281 627.7 L285 627.9 L289 628 L293 628.1 L297 628 L301 627.9 L305 627.7 L309 627.5 L313 627.2 L317 626.9 L321 626.5 L335 624.9 L349 623 L363 620.9 L377 618.6 L391 616.2 L405 613.8 L419 611.2 L433 608.7 L447 606.1 L461 603.5 L475 600.9 L489 598.3 L494.2 597.3 L497.4 593.4 L501.7 583 L517 467.8 M191 521.9 L193 529.3 L195 535.1 L197 540.2 L199 544.8 L201 549 L203 552.7 L205 556.2 L207 559.4 L209 562.3 L211 565 L213 567.5 L215 569.8 L217 571.9 L219 573.9 L221 575.7 L223 577.4 L225 578.9 L227 580.4 L229 581.7 L231 582.9 L233 584.1 L235 585.1 L237 586.1 L239 587 L241 587.8 L243 588.5 L245 589.2 L247 589.8 L249 590.4 L251 590.9 L253 591.4 L255 591.8 L257 592.2 L259 592.5 L261 592.8 L265 593.3 L269 593.7 L273 593.9 L277 594.1 L281 594.1 L285 594.1 L289 594 L293 593.8 L297 593.6 L301 593.3 L305 593 L309 592.6 L313 592.2 L317 591.8 L321 591.3 L335 589.5 L349 587.4 L363 585.2 L377 582.9 L391 580.4 L405 578 L419 575.4 L433 572.9 L447 570.3 L461 567.7 L475 565.2 L489 562.6 L494.2 561.6 L497.4 558.8 L501.7 551.3 L517 467.8 M191 521.9 L193 527.2 L195 531.4 L197 535 L199 538.3 L201 541.2 L203 543.9 L205 546.3 L207 548.6 L209 550.6 L211 552.5 L213 554.2 L215 555.8 L217 557.2 L219 558.5 L221 559.8 L223 560.9 L225 561.9 L227 562.9 L229 563.7 L231 564.5 L233 565.2 L235 565.9 L237 566.5 L239 567 L241 567.5 L243 567.9 L245 568.3 L247 568.7 L249 569 L251 569.2 L253 569.5 L255 569.7 L257 569.8 L259 569.9 L261 570 L265 570.2 L269 570.2 L273 570.2 L277 570 L281 569.8 L285 569.6 L289 569.3 L293 568.9 L297 568.5 L301 568.1 L305 567.6 L309 567.1 L313 566.6 L317 566 L321 565.4 L335 563.3 L349 560.9 L363 558.5 L377 555.9 L391 553.3 L405 550.7 L419 548 L433 545.3 L447 542.6 L461 539.9 L475 537.2 L489 534.4 L494.2 533.4 L497.4 531.4 L501.7 526.2 L517 467.8 M191 521.9 L193 525.9 L195 529 L197 531.7 L199 534.1 L201 536.3 L203 538.3 L205 540 L207 541.6 L209 543.1 L211 544.4 L213 545.7 L215 546.8 L217 547.8 L219 548.7 L221 549.5 L223 550.3 L225 551 L227 551.6 L229 552.2 L231 552.7 L233 553.1 L235 553.5 L237 553.9 L239 554.2 L241 554.4 L243 554.7 L245 554.8 L247 555 L249 555.1 L251 555.2 L253 555.3 L255 555.3 L257 555.3 L259 555.3 L261 555.3 L265 555.2 L269 555 L273 554.7 L277 554.4 L281 554.1 L285 553.6 L289 553.2 L293 552.7 L297 552.2 L301 551.6 L305 551 L309 550.4 L313 549.8 L317 549.1 L321 548.5 L335 546 L349 543.5 L363 540.8 L377 538.1 L391 535.3 L405 532.5 L419 529.7 L433 526.8 L447 524 L461 521.1 L475 518.3 L489 515.4 L492.7 514.6 L496.1 513.2 L500.7 509.5 L517 467.8 M191 521.9 L193 524.9 L195 527.1 L197 529.1 L199 530.8 L201 532.4 L203 533.8 L205 535 L207 536.1 L209 537.1 L211 538.1 L213 538.9 L215 539.6 L217 540.3 L219 540.9 L221 541.4 L223 541.9 L225 542.3 L227 542.7 L229 543 L231 543.3 L233 543.6 L235 543.8 L237 543.9 L239 544.1 L241 544.2 L243 544.2 L245 544.3 L247 544.3 L249 544.3 L251 544.3 L253 544.2 L255 544.1 L257 544.1 L259 544 L261 543.8 L265 543.5 L269 543.2 L273 542.8 L277 542.3 L281 541.9 L285 541.3 L289 540.8 L293 540.2 L297 539.6 L301 539 L305 538.3 L309 537.7 L313 537 L317 536.3 L321 535.6 L335 533 L349 530.4 L363 527.6 L377 524.8 L391 522 L405 519.1 L419 516.3 L433 513.4 L447 510.5 L461 507.6 L475 504.7 L489 501.8 L491.2 501.3 L494.9 500.3 L499.7 497.6 L517 467.8 M191 521.9 L193 524.1 L195 525.7 L197 527.1 L199 528.3 L201 529.4 L203 530.3 L205 531.1 L207 531.9 L209 532.5 L211 533.1 L213 533.6 L215 534.1 L217 534.5 L219 534.8 L221 535.1 L223 535.3 L225 535.5 L227 535.7 L229 535.8 L231 535.9 L233 536 L235 536 L237 536 L239 536 L241 535.9 L243 535.9 L245 535.8 L247 535.7 L249 535.5 L251 535.4 L253 535.2 L255 535.1 L257 534.9 L259 534.7 L261 534.4 L265 534 L269 533.4 L273 532.9 L277 532.3 L281 531.7 L285 531 L289 530.4 L293 529.7 L297 529 L301 528.2 L305 527.5 L309 526.7 L313 525.9 L317 525.2 L321 524.4 L335 521.5 L349 518.6 L363 515.6 L377 512.6 L391 509.6 L405 506.6 L419 503.5 L433 500.4 L447 497.3 L461 494.3 L475 491.2 L489 488.1 L489.5 488 L493.3 487.4 L498.6 485.8 L517 467.8 M191 521.9 L193 523.2 L195 524.2 L197 525.1 L199 525.7 L201 526.3 L203 526.9 L205 527.3 L207 527.7 L209 528 L211 528.2 L213 528.5 L215 528.6 L217 528.8 L219 528.8 L221 528.9 L223 528.9 L225 528.9 L227 528.9 L229 528.8 L231 528.8 L233 528.7 L235 528.5 L237 528.4 L239 528.2 L241 528.1 L243 527.9 L245 527.7 L247 527.5 L249 527.2 L251 527 L253 526.7 L255 526.5 L257 526.2 L259 525.9 L261 525.6 L265 525 L269 524.4 L273 523.7 L277 523 L281 522.3 L285 521.6 L289 520.8 L293 520 L297 519.3 L301 518.5 L305 517.7 L309 516.9 L313 516.1 L317 515.2 L321 514.4 L335 511.4 L349 508.4 L363 505.4 L377 502.3 L391 499.2 L405 496.1 L419 493 L433 489.9 L447 486.8 L461 483.7 L475 480.5 L488.3 477.5 L492.3 477.3 L497.8 476.5 L517 467.8 M191 521.9 L193 522.7 L195 523.2 L197 523.6 L199 523.9 L201 524.2 L203 524.3 L205 524.5 L207 524.6 L209 524.6 L211 524.6 L213 524.6 L215 524.5 L217 524.4 L219 524.3 L221 524.1 L223 524 L225 523.8 L227 523.6 L229 523.4 L231 523.1 L233 522.9 L235 522.6 L237 522.3 L239 522 L241 521.7 L243 521.4 L245 521 L247 520.7 L249 520.4 L251 520 L253 519.6 L255 519.3 L257 518.9 L259 518.5 L261 518.1 L265 517.3 L269 516.5 L273 515.6 L277 514.8 L281 513.9 L285 513 L289 512.1 L293 511.2 L297 510.3 L301 509.4 L305 508.5 L309 507.5 L313 506.6 L317 505.6 L321 504.7 L335 501.3 L349 497.9 L363 494.5 L377 491.1 L391 487.7 L405 484.2 L419 480.8 L433 477.3 L447 473.9 L461 470.4 L475 467 L488.3 463.7 L517 467.8 M520 635.3 L534 632 L548 628.7 L562 625.3 L576 621.9 L590 618.3 L604 614.6 L618 610.7 L622 609.5 L626 608.3 L630 607.1 L634 605.8 L638 604.5 L642 603.1 L646 601.7 L650 600.2 L654 598.6 L658 597 L662 595.3 L666 593.5 L670 591.6 L674 589.5 L678 587.4 L682 585.1 L686 582.7 L690 580.1 L694 577.3 L698 574.2 L700 572.6 L702 571 L704 569.3 L706 567.5 L708 565.6 L710 563.7 L712 561.7 L714 559.6 L716 557.4 L718 555.1 L720 552.8 L722 550.3 L724 547.8 L726 545.1 L728 542.3 L730 539.4 L732 536.4 L734 533.2 L736 529.9 L738 526.5 L740 522.9 L742 519.2 L744 515.3 L746 511.3 L748 507.1 L750 502.7 L752 498.1 L754 493.3 L756 488.4 L758 483.2 L760 477.9 L762 472.3 L764 466.5 L766 460.5 L768 454.3 L770 447.9 L772 441.2 L774 434.4 L776 427.3 L778 420.1 L780 412.7 L782 405.1 L784 397.6 L786 390.1 L787.8 384 M520 590.5 L534 587.2 L548 583.9 L562 580.6 L576 577.2 L590 573.7 L604 570.1 L618 566.4 L622 565.3 L626 564.1 L630 562.9 L634 561.7 L638 560.5 L642 559.3 L646 557.9 L650 556.6 L654 555.2 L658 553.7 L662 552.2 L666 550.6 L670 548.9 L674 547.2 L678 545.3 L682 543.3 L686 541.3 L690 539 L694 536.7 L698 534.2 L700 532.8 L702 531.5 L704 530 L706 528.6 L708 527 L710 525.5 L712 523.8 L714 522.1 L716 520.3 L718 518.5 L720 516.6 L722 514.6 L724 512.5 L726 510.4 L728 508.1 L730 505.8 L732 503.4 L734 500.9 L736 498.3 L738 495.5 L740 492.7 L742 489.7 L744 486.7 L746 483.5 L748 480.1 L750 476.7 L752 473.1 L754 469.3 L756 465.4 L758 461.4 L760 457.2 L762 452.8 L764 448.3 L766 443.6 L768 438.8 L770 433.8 L772 428.6 L774 423.2 L776 417.7 L778 412.1 L780 406.3 L782 400.5 L784 394.6 L786 388.8 L787.8 384 M520 555 L534 551.7 L548 548.5 L562 545.2 L576 541.8 L590 538.4 L604 534.9 L618 531.3 L622 530.2 L626 529.1 L630 528 L634 526.9 L638 525.7 L642 524.5 L646 523.3 L650 522.1 L654 520.8 L658 519.4 L662 518.1 L666 516.6 L670 515.1 L674 513.6 L678 512 L682 510.3 L686 508.5 L690 506.6 L694 504.5 L698 502.4 L700 501.3 L702 500.2 L704 499 L706 497.7 L708 496.5 L710 495.2 L712 493.8 L714 492.4 L716 491 L718 489.5 L720 487.9 L722 486.3 L724 484.6 L726 482.9 L728 481.1 L730 479.2 L732 477.3 L734 475.3 L736 473.2 L738 471 L740 468.7 L742 466.4 L744 464 L746 461.4 L748 458.8 L750 456.1 L752 453.3 L754 450.3 L756 447.3 L758 444.1 L760 440.8 L762 437.4 L764 433.9 L766 430.2 L768 426.5 L770 422.6 L772 418.5 L774 414.4 L776 410.1 L778 405.8 L780 401.3 L782 396.8 L784 392.2 L786 387.7 L787.8 384 M520 528.9 L534 525.7 L548 522.4 L562 519.1 L576 515.8 L590 512.4 L604 509 L618 505.4 L622 504.4 L626 503.4 L630 502.3 L634 501.2 L638 500.1 L642 499 L646 497.8 L650 496.7 L654 495.5 L658 494.2 L662 493 L666 491.7 L670 490.3 L674 488.9 L678 487.4 L682 485.9 L686 484.3 L690 482.7 L694 480.9 L698 479.1 L700 478.1 L702 477.1 L704 476.1 L706 475.1 L708 474 L710 472.9 L712 471.8 L714 470.6 L716 469.4 L718 468.1 L720 466.8 L722 465.5 L724 464.1 L726 462.7 L728 461.2 L730 459.6 L732 458.1 L734 456.4 L736 454.7 L738 453 L740 451.1 L742 449.2 L744 447.3 L746 445.2 L748 443.1 L750 440.9 L752 438.7 L754 436.3 L756 433.9 L758 431.4 L760 428.8 L762 426.1 L764 423.3 L766 420.4 L768 417.4 L770 414.3 L772 411.2 L774 407.9 L776 404.5 L778 401.1 L780 397.6 L782 394 L784 390.4 L786 386.9 L787.8 384 M520 509.3 L534 506.1 L548 502.8 L562 499.5 L576 496.2 L590 492.9 L604 489.5 L618 486.1 L622 485 L626 484 L630 483 L634 481.9 L638 480.9 L642 479.8 L646 478.7 L650 477.6 L654 476.5 L658 475.3 L662 474.1 L666 472.9 L670 471.7 L674 470.4 L678 469 L682 467.6 L686 466.2 L690 464.7 L694 463.2 L698 461.5 L700 460.7 L702 459.8 L704 459 L706 458.1 L708 457.1 L710 456.2 L712 455.2 L714 454.2 L716 453.1 L718 452.1 L720 451 L722 449.8 L724 448.7 L726 447.5 L728 446.2 L730 445 L732 443.6 L734 442.3 L736 440.9 L738 439.4 L740 437.9 L742 436.3 L744 434.7 L746 433.1 L748 431.4 L750 429.6 L752 427.7 L754 425.8 L756 423.9 L758 421.8 L760 419.7 L762 417.6 L764 415.3 L766 413 L768 410.6 L770 408.1 L772 405.6 L774 403 L776 400.3 L778 397.6 L780 394.8 L782 392 L784 389.1 L786 386.3 L787.8 384 M520 495.4 L534 492.1 L548 488.8 L562 485.6 L576 482.3 L590 479 L604 475.6 L618 472.2 L622 471.2 L626 470.2 L630 469.2 L634 468.2 L638 467.2 L642 466.1 L646 465.1 L650 464 L654 462.9 L658 461.8 L662 460.7 L666 459.5 L670 458.3 L674 457.1 L678 455.9 L682 454.6 L686 453.3 L690 451.9 L694 450.5 L698 449 L700 448.3 L702 447.5 L704 446.7 L706 445.9 L708 445.1 L710 444.2 L712 443.4 L714 442.5 L716 441.6 L718 440.6 L720 439.7 L722 438.7 L724 437.7 L726 436.6 L728 435.6 L730 434.5 L732 433.3 L734 432.2 L736 431 L738 429.7 L740 428.4 L742 427.1 L744 425.8 L746 424.4 L748 422.9 L750 421.5 L752 419.9 L754 418.3 L756 416.7 L758 415 L760 413.3 L762 411.5 L764 409.6 L766 407.7 L768 405.7 L770 403.7 L772 401.7 L774 399.5 L776 397.3 L778 395.1 L780 392.8 L782 390.5 L784 388.2 L786 385.9 L787.8 384 M520 482.3 L534 479 L548 475.8 L562 472.5 L576 469.2 L590 465.9 L604 462.6 L618 459.2 L622 458.3 L626 457.3 L630 456.3 L634 455.3 L638 454.3 L642 453.3 L646 452.3 L650 451.2 L654 450.2 L658 449.1 L662 448.1 L666 447 L670 445.9 L674 444.7 L678 443.6 L682 442.4 L686 441.2 L690 439.9 L694 438.6 L698 437.3 L700 436.6 L702 435.9 L704 435.2 L706 434.5 L708 433.8 L710 433 L712 432.3 L714 431.5 L716 430.7 L718 429.9 L720 429.1 L722 428.2 L724 427.4 L726 426.5 L728 425.6 L730 424.6 L732 423.7 L734 422.7 L736 421.7 L738 420.7 L740 419.6 L742 418.5 L744 417.4 L746 416.3 L748 415.1 L750 413.9 L752 412.6 L754 411.3 L756 410 L758 408.6 L760 407.2 L762 405.8 L764 404.3 L766 402.8 L768 401.2 L770 399.6 L772 397.9 L774 396.3 L776 394.5 L778 392.8 L780 391 L782 389.1 L784 387.3 L786 385.5 L787.8 384 M520 471.1 L534 467.8 L548 464.6 L562 461.3 L576 458.1 L590 454.8 L604 451.5 L618 448.2 L622 447.2 L626 446.2 L630 445.3 L634 444.3 L638 443.3 L642 442.3 L646 441.4 L650 440.4 L654 439.3 L658 438.3 L662 437.3 L666 436.3 L670 435.2 L674 434.1 L678 433 L682 431.9 L686 430.8 L690 429.7 L694 428.5 L698 427.3 L700 426.7 L702 426.1 L704 425.4 L706 424.8 L708 424.1 L710 423.5 L712 422.8 L714 422.1 L716 421.4 L718 420.7 L720 420 L722 419.3 L724 418.6 L726 417.8 L728 417 L730 416.2 L732 415.4 L734 414.6 L736 413.8 L738 412.9 L740 412.1 L742 411.2 L744 410.2 L746 409.3 L748 408.3 L750 407.4 L752 406.3 L754 405.3 L756 404.3 L758 403.2 L760 402.1 L762 400.9 L764 399.7 L766 398.5 L768 397.3 L770 396.1 L772 394.8 L774 393.5 L776 392.1 L778 390.8 L780 389.4 L782 388 L784 386.6 L786 385.2 L787.8 384 M520 459.3 L534 456 L548 452.8 L562 449.5 L576 446.3 L590 443 L604 439.8 L618 436.5 L622 435.5 L626 434.6 L630 433.7 L634 432.7 L638 431.8 L642 430.8 L646 429.8 L650 428.9 L654 427.9 L658 426.9 L662 426 L666 425 L670 424 L674 423 L678 422 L682 420.9 L686 419.9 L690 418.9 L694 417.8 L698 416.7 L700 416.2 L702 415.6 L704 415.1 L706 414.5 L708 414 L710 413.4 L712 412.8 L714 412.3 L716 411.7 L718 411.1 L720 410.5 L722 409.9 L724 409.3 L726 408.7 L728 408 L730 407.4 L732 406.8 L734 406.1 L736 405.4 L738 404.8 L740 404.1 L742 403.4 L744 402.7 L746 402 L748 401.2 L750 400.5 L752 399.8 L754 399 L756 398.2 L758 397.4 L760 396.6 L762 395.8 L764 394.9 L766 394.1 L768 393.2 L770 392.3 L772 391.4 L774 390.5 L776 389.6 L778 388.7 L780 387.7 L782 386.7 L784 385.8 L786 384.8 L787.8 384" fill="none" stroke="#0a1a1e" stroke-width="1.9" stroke-opacity="0.85" stroke-linejoin="round"/>
<path d="M516 446.5 L520.5 445.5 L520.5 468.4 L516 468.4Z" fill="#bddf26"/>
<path d="M508.9 459.8 L520.5 459.3 L520.5 468.4 L517.5 468.4Z" fill="#7ad151"/>
<path d="M508.9 459.8 L520.5 459.3" stroke="#1a2a10" stroke-width="1.9" fill="none" stroke-opacity="0.8"/>
<linearGradient id="wg3" gradientUnits="userSpaceOnUse" x1="0" y1="467.8" x2="0" y2="562.8"><stop offset="0" stop-color="#0c0a20"/><stop offset="0.45" stop-color="#1c0a3c"/><stop offset="1" stop-color="#440154"/></linearGradient>
<path d="M516.7 468.8 L520 468.8 L520 562.8 L508.2 562.8Z" fill="url(#wg3)"/>
<linearGradient id="ng3" gradientUnits="userSpaceOnUse" x1="459.3" y1="455.9" x2="472.3" y2="449.9"><stop offset="0" stop-color="#04100c"/><stop offset="0.3" stop-color="#0a2e22"/><stop offset="0.55" stop-color="#4f8a2c"/><stop offset="0.8" stop-color="#bddf26"/></linearGradient>
<path d="M458.7 441.6 L460.1 441.6 L489.8 452.5 L489.8 453.9 L458.7 460.9Z" fill="url(#ng3)"/>
<text x="383.4" y="495.7" transform="rotate(-13 383.4 488.7)" class="cl">1844.44</text>
<text x="449.2" y="506.3" transform="rotate(-13 449.2 499.3)" class="cl">1533.33</text>
<text x="415.1" y="544" transform="rotate(-13 415.1 537)" class="cl">1222.22</text>
<text x="364.6" y="594.5" transform="rotate(-13 364.6 587.5)" class="cl">911.111</text>
<text x="391.6" y="666.2" transform="rotate(-13 391.6 659.2)" class="cl">600</text>
<text x="596.4" y="458.1" transform="rotate(-13 596.4 451.1)" class="cl">1688.89</text>
<text x="658.7" y="467.5" transform="rotate(-13 658.7 460.5)" class="cl">1377.78</text>
<text x="602.3" y="519.3" transform="rotate(-13 602.3 512.3)" class="cl">1066.67</text>
<text x="590.5" y="581.6" transform="rotate(-13 590.5 574.6)" class="cl">755.556</text></g>
<g><path d="M841.5 511 L1440.1 373 L1440.1 688.6 L841.5 688.6Z" fill="#440154"/>
<path d="M841.5 511 L841.5 511 L843.5 519.8 L845.5 528.8 L847.5 537.6 L849.5 546 L851.5 554.1 L853.5 561.8 L855.5 569.2 L857.5 576.2 L859.5 582.8 L861.5 589.1 L863.5 595.1 L865.5 600.7 L867.5 606.1 L869.5 611.1 L871.5 615.9 L873.5 620.4 L875.5 624.6 L877.5 628.6 L879.5 632.3 L881.5 635.9 L883.5 639.2 L885.5 642.3 L887.5 645.2 L889.5 648 L891.5 650.6 L893.5 653 L895.5 655.3 L897.5 657.4 L899.5 659.3 L901.5 661.2 L903.5 662.9 L905.5 664.5 L907.5 666 L909.5 667.4 L911.5 668.7 L915.5 671 L919.5 672.9 L923.5 674.6 L927.5 676 L931.5 677.2 L935.5 678.1 L939.5 678.9 L943.5 679.4 L947.5 679.9 L951.5 680.2 L955.5 680.4 L959.5 680.5 L963.5 680.4 L967.5 680.3 L971.5 680.2 L985.5 679.1 L999.5 677.5 L1013.5 675.6 L1027.5 673.4 L1041.5 671.1 L1055.5 668.7 L1069.5 666.2 L1083.5 663.7 L1097.5 661.2 L1111.5 658.6 L1125.5 656 L1139.5 653.5 L1144 652.6 L1146.4 646.9 L1149.6 631.7 L1161 462.5 L1161 437.3Z" fill="#482475"/>
<path d="M841.5 511 L841.5 511 L843.5 517.4 L845.5 524 L847.5 530.4 L849.5 536.5 L851.5 542.4 L853.5 548.1 L855.5 553.4 L857.5 558.5 L859.5 563.4 L861.5 567.9 L863.5 572.3 L865.5 576.4 L867.5 580.2 L869.5 583.9 L871.5 587.3 L873.5 590.6 L875.5 593.6 L877.5 596.5 L879.5 599.2 L881.5 601.7 L883.5 604.1 L885.5 606.3 L887.5 608.4 L889.5 610.4 L891.5 612.2 L893.5 613.9 L895.5 615.5 L897.5 617 L899.5 618.3 L901.5 619.6 L903.5 620.8 L905.5 621.9 L907.5 622.9 L909.5 623.9 L911.5 624.7 L915.5 626.3 L919.5 627.6 L923.5 628.6 L927.5 629.5 L931.5 630.1 L935.5 630.7 L939.5 631 L943.5 631.3 L947.5 631.4 L951.5 631.5 L955.5 631.4 L959.5 631.3 L963.5 631.1 L967.5 630.9 L971.5 630.6 L985.5 629.1 L999.5 627.3 L1013.5 625.2 L1027.5 623 L1041.5 620.6 L1055.5 618.2 L1069.5 615.7 L1083.5 613.2 L1097.5 610.6 L1111.5 608.1 L1125.5 605.5 L1139.5 603 L1144 602.1 L1146.4 598 L1149.6 586.8 L1161 462.5 L1161 437.3Z" fill="#414487"/>
<path d="M841.5 511 L841.5 511 L843.5 515.5 L845.5 520.2 L847.5 524.7 L849.5 529 L851.5 533.2 L853.5 537.2 L855.5 541 L857.5 544.5 L859.5 547.9 L861.5 551.2 L863.5 554.2 L865.5 557.1 L867.5 559.8 L869.5 562.3 L871.5 564.7 L873.5 567 L875.5 569.1 L877.5 571.1 L879.5 573 L881.5 574.7 L883.5 576.3 L885.5 577.9 L887.5 579.3 L889.5 580.6 L891.5 581.9 L893.5 583 L895.5 584.1 L897.5 585.1 L899.5 586 L901.5 586.8 L903.5 587.6 L905.5 588.3 L907.5 588.9 L909.5 589.5 L911.5 590.1 L915.5 591 L919.5 591.8 L923.5 592.4 L927.5 592.8 L931.5 593.1 L935.5 593.3 L939.5 593.4 L943.5 593.4 L947.5 593.4 L951.5 593.2 L955.5 593 L959.5 592.7 L963.5 592.4 L967.5 592.1 L971.5 591.7 L985.5 590 L999.5 588 L1013.5 585.9 L1027.5 583.6 L1041.5 581.3 L1055.5 578.8 L1069.5 576.4 L1083.5 573.9 L1097.5 571.4 L1111.5 569 L1125.5 566.5 L1139.5 564 L1144 563.2 L1146.4 560.1 L1149.6 552.1 L1161 462.5 L1161 437.3Z" fill="#355f8d"/>
<path d="M841.5 511 L841.5 511 L843.5 514.1 L845.5 517.3 L847.5 520.4 L849.5 523.4 L851.5 526.3 L853.5 529 L855.5 531.6 L857.5 534.1 L859.5 536.4 L861.5 538.6 L863.5 540.7 L865.5 542.6 L867.5 544.4 L869.5 546.2 L871.5 547.8 L873.5 549.3 L875.5 550.7 L877.5 552 L879.5 553.3 L881.5 554.4 L883.5 555.5 L885.5 556.5 L887.5 557.4 L889.5 558.2 L891.5 559 L893.5 559.8 L895.5 560.4 L897.5 561 L899.5 561.6 L901.5 562.1 L903.5 562.5 L905.5 562.9 L907.5 563.3 L909.5 563.6 L911.5 563.9 L915.5 564.4 L919.5 564.7 L923.5 565 L927.5 565.1 L931.5 565.1 L935.5 565.1 L939.5 564.9 L943.5 564.7 L947.5 564.5 L951.5 564.2 L955.5 563.8 L959.5 563.4 L963.5 563 L967.5 562.5 L971.5 562 L985.5 560.1 L999.5 558 L1013.5 555.7 L1027.5 553.4 L1041.5 551 L1055.5 548.5 L1069.5 546 L1083.5 543.5 L1097.5 541 L1111.5 538.5 L1125.5 536 L1139.5 533.5 L1144 532.7 L1146.4 530.5 L1149.6 524.9 L1161 462.5 L1161 437.3Z" fill="#2a788e"/>
<path d="M841.5 511 L841.5 511 L843.5 513.2 L845.5 515.4 L847.5 517.6 L849.5 519.7 L851.5 521.7 L853.5 523.6 L855.5 525.4 L857.5 527.1 L859.5 528.7 L861.5 530.2 L863.5 531.6 L865.5 532.9 L867.5 534.1 L869.5 535.3 L871.5 536.4 L873.5 537.4 L875.5 538.3 L877.5 539.1 L879.5 539.9 L881.5 540.7 L883.5 541.3 L885.5 541.9 L887.5 542.5 L889.5 543 L891.5 543.5 L893.5 543.9 L895.5 544.2 L897.5 544.6 L899.5 544.9 L901.5 545.1 L903.5 545.3 L905.5 545.5 L907.5 545.6 L909.5 545.8 L911.5 545.9 L915.5 546 L919.5 546 L923.5 545.9 L927.5 545.7 L931.5 545.5 L935.5 545.2 L939.5 544.9 L943.5 544.5 L947.5 544.1 L951.5 543.6 L955.5 543.1 L959.5 542.6 L963.5 542 L967.5 541.4 L971.5 540.8 L985.5 538.6 L999.5 536.1 L1013.5 533.6 L1027.5 531 L1041.5 528.4 L1055.5 525.7 L1069.5 523 L1083.5 520.4 L1097.5 517.7 L1111.5 514.9 L1125.5 512.2 L1139.5 509.5 L1143 508.9 L1145.5 507.5 L1148.9 503.8 L1161 462.5 L1161 437.3Z" fill="#21918c"/>
<path d="M841.5 511 L841.5 511 L843.5 512.5 L845.5 514 L847.5 515.4 L849.5 516.9 L851.5 518.2 L853.5 519.4 L855.5 520.6 L857.5 521.8 L859.5 522.8 L861.5 523.8 L863.5 524.7 L865.5 525.5 L867.5 526.3 L869.5 527.1 L871.5 527.7 L873.5 528.3 L875.5 528.9 L877.5 529.4 L879.5 529.9 L881.5 530.3 L883.5 530.7 L885.5 531 L887.5 531.3 L889.5 531.6 L891.5 531.8 L893.5 532 L895.5 532.2 L897.5 532.3 L899.5 532.4 L901.5 532.5 L903.5 532.5 L905.5 532.5 L907.5 532.5 L909.5 532.5 L911.5 532.5 L915.5 532.3 L919.5 532.1 L923.5 531.9 L927.5 531.5 L931.5 531.1 L935.5 530.7 L939.5 530.3 L943.5 529.8 L947.5 529.2 L951.5 528.7 L955.5 528.1 L959.5 527.5 L963.5 526.9 L967.5 526.2 L971.5 525.6 L985.5 523.1 L999.5 520.6 L1013.5 518 L1027.5 515.4 L1041.5 512.7 L1055.5 510 L1069.5 507.2 L1083.5 504.5 L1097.5 501.8 L1111.5 499 L1125.5 496.3 L1139.5 493.5 L1142 493.1 L1144.7 492.1 L1148.3 489.7 L1161 462.5 L1161 437.3Z" fill="#22a884"/>
<path d="M841.5 511 L841.5 511 L843.5 511.9 L845.5 512.9 L847.5 513.9 L849.5 514.8 L851.5 515.6 L853.5 516.4 L855.5 517.1 L857.5 517.8 L859.5 518.5 L861.5 519.1 L863.5 519.6 L865.5 520.1 L867.5 520.6 L869.5 521 L871.5 521.3 L873.5 521.7 L875.5 522 L877.5 522.2 L879.5 522.4 L881.5 522.6 L883.5 522.8 L885.5 522.9 L887.5 523 L889.5 523.1 L891.5 523.2 L893.5 523.2 L895.5 523.2 L897.5 523.2 L899.5 523.1 L901.5 523.1 L903.5 523 L905.5 522.9 L907.5 522.8 L909.5 522.6 L911.5 522.5 L915.5 522.2 L919.5 521.8 L923.5 521.4 L927.5 520.9 L931.5 520.4 L935.5 519.9 L939.5 519.3 L943.5 518.7 L947.5 518.1 L951.5 517.4 L955.5 516.8 L959.5 516.1 L963.5 515.4 L967.5 514.7 L971.5 514 L985.5 511.5 L999.5 508.8 L1013.5 506.1 L1027.5 503.4 L1041.5 500.6 L1055.5 497.9 L1069.5 495.1 L1083.5 492.3 L1097.5 489.5 L1111.5 486.7 L1125.5 483.9 L1139.5 481.1 L1140.8 480.8 L1143.6 480.3 L1147.5 478.8 L1161 462.5 L1161 437.3Z" fill="#44bf70"/>
<path d="M841.5 511 L841.5 511 L843.5 511.5 L845.5 512 L847.5 512.4 L849.5 512.9 L851.5 513.3 L853.5 513.7 L855.5 514 L857.5 514.3 L859.5 514.6 L861.5 514.9 L863.5 515.1 L865.5 515.3 L867.5 515.4 L869.5 515.5 L871.5 515.6 L873.5 515.7 L875.5 515.8 L877.5 515.8 L879.5 515.8 L881.5 515.8 L883.5 515.7 L885.5 515.7 L887.5 515.6 L889.5 515.5 L891.5 515.4 L893.5 515.2 L895.5 515.1 L897.5 514.9 L899.5 514.7 L901.5 514.6 L903.5 514.4 L905.5 514.1 L907.5 513.9 L909.5 513.7 L911.5 513.4 L915.5 512.9 L919.5 512.4 L923.5 511.8 L927.5 511.2 L931.5 510.6 L935.5 509.9 L939.5 509.2 L943.5 508.5 L947.5 507.8 L951.5 507.1 L955.5 506.4 L959.5 505.6 L963.5 504.9 L967.5 504.1 L971.5 503.4 L985.5 500.6 L999.5 497.8 L1013.5 495 L1027.5 492.1 L1041.5 489.2 L1055.5 486.3 L1069.5 483.4 L1083.5 480.5 L1097.5 477.6 L1111.5 474.7 L1125.5 471.8 L1139.5 468.9 L1140 468.8 L1142.9 468.6 L1146.9 468.1 L1161 462.5 L1161 437.3Z" fill="#7ad151"/>
<path d="M841.5 511 L841.5 511 L843.5 511.2 L845.5 511.4 L847.5 511.7 L849.5 511.8 L851.5 512 L853.5 512.1 L855.5 512.2 L857.5 512.3 L859.5 512.3 L861.5 512.3 L863.5 512.3 L865.5 512.3 L867.5 512.2 L869.5 512.2 L871.5 512.1 L873.5 511.9 L875.5 511.8 L877.5 511.6 L879.5 511.5 L881.5 511.3 L883.5 511.1 L885.5 510.8 L887.5 510.6 L889.5 510.4 L891.5 510.1 L893.5 509.8 L895.5 509.5 L897.5 509.2 L899.5 508.9 L901.5 508.6 L903.5 508.3 L905.5 507.9 L907.5 507.6 L909.5 507.2 L911.5 506.9 L915.5 506.1 L919.5 505.4 L923.5 504.6 L927.5 503.8 L931.5 503 L935.5 502.1 L939.5 501.3 L943.5 500.4 L947.5 499.5 L951.5 498.7 L955.5 497.8 L959.5 496.9 L963.5 496 L967.5 495 L971.5 494.1 L985.5 490.9 L999.5 487.6 L1013.5 484.3 L1027.5 481 L1041.5 477.7 L1055.5 474.4 L1069.5 471 L1083.5 467.7 L1097.5 464.4 L1111.5 461 L1125.5 457.7 L1139.5 454.3 L1140 454.2 L1161 462.5 L1161 437.3Z" fill="#bddf26"/>
<path d="M1162.9 436.9 L1162.9 646.8 L1176.9 643.6 L1190.9 640.3 L1204.9 637 L1218.9 633.6 L1232.9 630.1 L1246.9 626.6 L1260.9 622.8 L1274.9 618.8 L1278.9 617.6 L1282.9 616.3 L1286.9 615 L1290.9 613.7 L1294.9 612.3 L1298.9 610.8 L1302.9 609.3 L1306.9 607.7 L1310.9 606.1 L1314.9 604.3 L1318.9 602.5 L1322.9 600.5 L1326.9 598.4 L1330.9 596.2 L1334.9 593.8 L1338.9 591.2 L1342.9 588.5 L1346.9 585.5 L1350.9 582.3 L1352.9 580.6 L1354.9 578.8 L1356.9 577 L1358.9 575.1 L1360.9 573.1 L1362.9 571 L1364.9 568.9 L1366.9 566.6 L1368.9 564.3 L1370.9 561.8 L1372.9 559.2 L1374.9 556.6 L1376.9 553.8 L1378.9 550.9 L1380.9 547.8 L1382.9 544.6 L1384.9 541.3 L1386.9 537.9 L1388.9 534.2 L1390.9 530.5 L1392.9 526.5 L1394.9 522.4 L1396.9 518.1 L1398.9 513.6 L1400.9 508.9 L1402.9 504 L1404.9 498.9 L1406.9 493.6 L1408.9 488.1 L1410.9 482.3 L1412.9 476.3 L1414.9 470.1 L1416.9 463.6 L1418.9 456.8 L1420.9 449.8 L1422.9 442.6 L1424.9 435.1 L1426.9 427.3 L1428.9 419.3 L1430.9 411.1 L1432.9 402.8 L1434.9 394.3 L1436.9 385.7 L1438.9 377.4 L1440.1 373Z" fill="#482475"/>
<path d="M1162.9 436.9 L1162.9 598.2 L1176.9 595 L1190.9 591.7 L1204.9 588.4 L1218.9 585.1 L1232.9 581.7 L1246.9 578.2 L1260.9 574.5 L1274.9 570.7 L1278.9 569.6 L1282.9 568.4 L1286.9 567.2 L1290.9 565.9 L1294.9 564.7 L1298.9 563.3 L1302.9 561.9 L1306.9 560.5 L1310.9 559 L1314.9 557.5 L1318.9 555.8 L1322.9 554.1 L1326.9 552.3 L1330.9 550.3 L1334.9 548.3 L1338.9 546.1 L1342.9 543.8 L1346.9 541.3 L1350.9 538.6 L1352.9 537.2 L1354.9 535.7 L1356.9 534.2 L1358.9 532.7 L1360.9 531 L1362.9 529.3 L1364.9 527.5 L1366.9 525.7 L1368.9 523.8 L1370.9 521.8 L1372.9 519.7 L1374.9 517.6 L1376.9 515.3 L1378.9 513 L1380.9 510.5 L1382.9 508 L1384.9 505.3 L1386.9 502.5 L1388.9 499.7 L1390.9 496.6 L1392.9 493.5 L1394.9 490.2 L1396.9 486.8 L1398.9 483.3 L1400.9 479.6 L1402.9 475.7 L1404.9 471.7 L1406.9 467.5 L1408.9 463.1 L1410.9 458.6 L1412.9 453.9 L1414.9 448.9 L1416.9 443.8 L1418.9 438.6 L1420.9 433.1 L1422.9 427.4 L1424.9 421.5 L1426.9 415.5 L1428.9 409.2 L1430.9 402.8 L1432.9 396.3 L1434.9 389.6 L1436.9 383 L1438.9 376.5 L1440.1 373Z" fill="#414487"/>
<path d="M1162.9 436.9 L1162.9 559.1 L1176.9 555.8 L1190.9 552.5 L1204.9 549.3 L1218.9 546 L1232.9 542.6 L1246.9 539.2 L1260.9 535.6 L1274.9 531.9 L1278.9 530.8 L1282.9 529.7 L1286.9 528.6 L1290.9 527.4 L1294.9 526.2 L1298.9 525 L1302.9 523.7 L1306.9 522.4 L1310.9 521.1 L1314.9 519.7 L1318.9 518.2 L1322.9 516.7 L1326.9 515.1 L1330.9 513.4 L1334.9 511.6 L1338.9 509.7 L1342.9 507.7 L1346.9 505.6 L1350.9 503.4 L1352.9 502.2 L1354.9 501 L1356.9 499.7 L1358.9 498.4 L1360.9 497.1 L1362.9 495.7 L1364.9 494.2 L1366.9 492.7 L1368.9 491.2 L1370.9 489.5 L1372.9 487.8 L1374.9 486.1 L1376.9 484.3 L1378.9 482.4 L1380.9 480.4 L1382.9 478.4 L1384.9 476.3 L1386.9 474.1 L1388.9 471.8 L1390.9 469.4 L1392.9 466.9 L1394.9 464.3 L1396.9 461.6 L1398.9 458.8 L1400.9 455.9 L1402.9 452.8 L1404.9 449.7 L1406.9 446.4 L1408.9 443 L1410.9 439.4 L1412.9 435.7 L1414.9 431.9 L1416.9 427.9 L1418.9 423.8 L1420.9 419.6 L1422.9 415.1 L1424.9 410.6 L1426.9 405.9 L1428.9 401 L1430.9 396.1 L1432.9 391 L1434.9 385.9 L1436.9 380.7 L1438.9 375.7 L1440.1 373Z" fill="#355f8d"/>
<path d="M1162.9 436.9 L1162.9 528.3 L1176.9 525 L1190.9 521.8 L1204.9 518.5 L1218.9 515.2 L1232.9 511.9 L1246.9 508.5 L1260.9 505.1 L1274.9 501.5 L1278.9 500.4 L1282.9 499.4 L1286.9 498.3 L1290.9 497.2 L1294.9 496 L1298.9 494.9 L1302.9 493.7 L1306.9 492.5 L1310.9 491.3 L1314.9 490 L1318.9 488.6 L1322.9 487.3 L1326.9 485.8 L1330.9 484.3 L1334.9 482.8 L1338.9 481.1 L1342.9 479.4 L1346.9 477.6 L1350.9 475.7 L1352.9 474.7 L1354.9 473.7 L1356.9 472.6 L1358.9 471.5 L1360.9 470.4 L1362.9 469.2 L1364.9 468 L1366.9 466.8 L1368.9 465.5 L1370.9 464.2 L1372.9 462.8 L1374.9 461.4 L1376.9 459.9 L1378.9 458.4 L1380.9 456.8 L1382.9 455.2 L1384.9 453.4 L1386.9 451.7 L1388.9 449.8 L1390.9 447.9 L1392.9 446 L1394.9 443.9 L1396.9 441.8 L1398.9 439.6 L1400.9 437.3 L1402.9 434.9 L1404.9 432.4 L1406.9 429.8 L1408.9 427.2 L1410.9 424.4 L1412.9 421.5 L1414.9 418.5 L1416.9 415.4 L1418.9 412.2 L1420.9 408.9 L1422.9 405.5 L1424.9 402 L1426.9 398.4 L1428.9 394.6 L1430.9 390.8 L1432.9 386.9 L1434.9 382.9 L1436.9 379 L1438.9 375.1 L1440.1 373Z" fill="#2a788e"/>
<path d="M1162.9 436.9 L1162.9 506.8 L1176.9 503.5 L1190.9 500.3 L1204.9 497 L1218.9 493.8 L1232.9 490.5 L1246.9 487.1 L1260.9 483.7 L1274.9 480.2 L1278.9 479.2 L1282.9 478.2 L1286.9 477.1 L1290.9 476.1 L1294.9 475 L1298.9 473.9 L1302.9 472.8 L1306.9 471.6 L1310.9 470.4 L1314.9 469.2 L1318.9 468 L1322.9 466.7 L1326.9 465.4 L1330.9 464.1 L1334.9 462.7 L1338.9 461.2 L1342.9 459.7 L1346.9 458.1 L1350.9 456.4 L1352.9 455.5 L1354.9 454.6 L1356.9 453.7 L1358.9 452.8 L1360.9 451.8 L1362.9 450.8 L1364.9 449.8 L1366.9 448.7 L1368.9 447.6 L1370.9 446.5 L1372.9 445.3 L1374.9 444.1 L1376.9 442.9 L1378.9 441.6 L1380.9 440.3 L1382.9 438.9 L1384.9 437.5 L1386.9 436.1 L1388.9 434.5 L1390.9 433 L1392.9 431.4 L1394.9 429.7 L1396.9 427.9 L1398.9 426.1 L1400.9 424.3 L1402.9 422.3 L1404.9 420.3 L1406.9 418.3 L1408.9 416.1 L1410.9 413.9 L1412.9 411.6 L1414.9 409.2 L1416.9 406.7 L1418.9 404.2 L1420.9 401.5 L1422.9 398.8 L1424.9 396 L1426.9 393.1 L1428.9 390.1 L1430.9 387.1 L1432.9 384 L1434.9 380.9 L1436.9 377.7 L1438.9 374.7 L1440.1 373Z" fill="#21918c"/>
<path d="M1162.9 436.9 L1162.9 490 L1176.9 486.7 L1190.9 483.5 L1204.9 480.3 L1218.9 477 L1232.9 473.7 L1246.9 470.4 L1260.9 467 L1274.9 463.6 L1278.9 462.6 L1282.9 461.6 L1286.9 460.6 L1290.9 459.6 L1294.9 458.5 L1298.9 457.5 L1302.9 456.4 L1306.9 455.3 L1310.9 454.2 L1314.9 453.1 L1318.9 451.9 L1322.9 450.7 L1326.9 449.5 L1330.9 448.2 L1334.9 446.9 L1338.9 445.6 L1342.9 444.2 L1346.9 442.8 L1350.9 441.3 L1352.9 440.5 L1354.9 439.7 L1356.9 438.9 L1358.9 438.1 L1360.9 437.2 L1362.9 436.4 L1364.9 435.5 L1366.9 434.6 L1368.9 433.6 L1370.9 432.7 L1372.9 431.7 L1374.9 430.6 L1376.9 429.6 L1378.9 428.5 L1380.9 427.4 L1382.9 426.3 L1384.9 425.1 L1386.9 423.8 L1388.9 422.6 L1390.9 421.3 L1392.9 419.9 L1394.9 418.6 L1396.9 417.1 L1398.9 415.7 L1400.9 414.1 L1402.9 412.5 L1404.9 410.9 L1406.9 409.2 L1408.9 407.5 L1410.9 405.7 L1412.9 403.8 L1414.9 401.9 L1416.9 399.9 L1418.9 397.8 L1420.9 395.7 L1422.9 393.6 L1424.9 391.3 L1426.9 389 L1428.9 386.6 L1430.9 384.2 L1432.9 381.8 L1434.9 379.3 L1436.9 376.8 L1438.9 374.3 L1440.1 373Z" fill="#22a884"/>
<path d="M1162.9 436.9 L1162.9 476 L1176.9 472.8 L1190.9 469.5 L1204.9 466.3 L1218.9 463 L1232.9 459.7 L1246.9 456.5 L1260.9 453.1 L1274.9 449.8 L1278.9 448.8 L1282.9 447.8 L1286.9 446.8 L1290.9 445.8 L1294.9 444.8 L1298.9 443.8 L1302.9 442.7 L1306.9 441.7 L1310.9 440.6 L1314.9 439.6 L1318.9 438.5 L1322.9 437.3 L1326.9 436.2 L1330.9 435 L1334.9 433.8 L1338.9 432.6 L1342.9 431.4 L1346.9 430.1 L1350.9 428.7 L1352.9 428 L1354.9 427.3 L1356.9 426.6 L1358.9 425.9 L1360.9 425.1 L1362.9 424.4 L1364.9 423.6 L1366.9 422.8 L1368.9 422 L1370.9 421.1 L1372.9 420.3 L1374.9 419.4 L1376.9 418.5 L1378.9 417.6 L1380.9 416.7 L1382.9 415.7 L1384.9 414.7 L1386.9 413.7 L1388.9 412.6 L1390.9 411.5 L1392.9 410.4 L1394.9 409.3 L1396.9 408.1 L1398.9 406.9 L1400.9 405.7 L1402.9 404.4 L1404.9 403.1 L1406.9 401.7 L1408.9 400.3 L1410.9 398.8 L1412.9 397.3 L1414.9 395.8 L1416.9 394.2 L1418.9 392.6 L1420.9 390.9 L1422.9 389.2 L1424.9 387.4 L1426.9 385.6 L1428.9 383.7 L1430.9 381.8 L1432.9 379.9 L1434.9 377.9 L1436.9 376 L1438.9 374.1 L1440.1 373Z" fill="#44bf70"/>
<path d="M1162.9 436.9 L1162.9 463.6 L1176.9 460.4 L1190.9 457.1 L1204.9 453.9 L1218.9 450.6 L1232.9 447.4 L1246.9 444.1 L1260.9 440.8 L1274.9 437.5 L1278.9 436.5 L1282.9 435.6 L1286.9 434.6 L1290.9 433.6 L1294.9 432.6 L1298.9 431.7 L1302.9 430.7 L1306.9 429.6 L1310.9 428.6 L1314.9 427.6 L1318.9 426.6 L1322.9 425.5 L1326.9 424.4 L1330.9 423.3 L1334.9 422.2 L1338.9 421.1 L1342.9 420 L1346.9 418.8 L1350.9 417.6 L1352.9 416.9 L1354.9 416.3 L1356.9 415.7 L1358.9 415 L1360.9 414.4 L1362.9 413.7 L1364.9 413 L1366.9 412.3 L1368.9 411.6 L1370.9 410.9 L1372.9 410.2 L1374.9 409.5 L1376.9 408.7 L1378.9 407.9 L1380.9 407.1 L1382.9 406.3 L1384.9 405.5 L1386.9 404.7 L1388.9 403.8 L1390.9 402.9 L1392.9 402 L1394.9 401.1 L1396.9 400.1 L1398.9 399.2 L1400.9 398.2 L1402.9 397.1 L1404.9 396.1 L1406.9 395 L1408.9 393.9 L1410.9 392.8 L1412.9 391.6 L1414.9 390.4 L1416.9 389.2 L1418.9 387.9 L1420.9 386.6 L1422.9 385.3 L1424.9 383.9 L1426.9 382.6 L1428.9 381.1 L1430.9 379.7 L1432.9 378.2 L1434.9 376.8 L1436.9 375.3 L1438.9 373.8 L1440.1 373Z" fill="#7ad151"/>
<path d="M1162.9 436.9 L1162.9 449.3 L1176.9 446.1 L1190.9 442.8 L1204.9 439.6 L1218.9 436.4 L1232.9 433.1 L1246.9 429.9 L1260.9 426.6 L1274.9 423.3 L1278.9 422.4 L1282.9 421.5 L1286.9 420.5 L1290.9 419.6 L1294.9 418.6 L1298.9 417.7 L1302.9 416.7 L1306.9 415.8 L1310.9 414.8 L1314.9 413.8 L1318.9 412.8 L1322.9 411.9 L1326.9 410.9 L1330.9 409.9 L1334.9 408.9 L1338.9 407.8 L1342.9 406.8 L1346.9 405.8 L1350.9 404.7 L1352.9 404.2 L1354.9 403.6 L1356.9 403.1 L1358.9 402.5 L1360.9 402 L1362.9 401.4 L1364.9 400.9 L1366.9 400.3 L1368.9 399.7 L1370.9 399.2 L1372.9 398.6 L1374.9 398 L1376.9 397.4 L1378.9 396.8 L1380.9 396.2 L1382.9 395.5 L1384.9 394.9 L1386.9 394.3 L1388.9 393.6 L1390.9 393 L1392.9 392.3 L1394.9 391.6 L1396.9 390.9 L1398.9 390.2 L1400.9 389.5 L1402.9 388.8 L1404.9 388.1 L1406.9 387.3 L1408.9 386.6 L1410.9 385.8 L1412.9 385 L1414.9 384.2 L1416.9 383.4 L1418.9 382.5 L1420.9 381.7 L1422.9 380.8 L1424.9 380 L1426.9 379.1 L1428.9 378.2 L1430.9 377.2 L1432.9 376.3 L1434.9 375.4 L1436.9 374.4 L1438.9 373.5 L1440.1 373Z" fill="#bddf26"/>
<path d="M841.5 511 L843.5 519.8 L845.5 528.8 L847.5 537.6 L849.5 546 L851.5 554.1 L853.5 561.8 L855.5 569.2 L857.5 576.2 L859.5 582.8 L861.5 589.1 L863.5 595.1 L865.5 600.7 L867.5 606.1 L869.5 611.1 L871.5 615.9 L873.5 620.4 L875.5 624.6 L877.5 628.6 L879.5 632.3 L881.5 635.9 L883.5 639.2 L885.5 642.3 L887.5 645.2 L889.5 648 L891.5 650.6 L893.5 653 L895.5 655.3 L897.5 657.4 L899.5 659.3 L901.5 661.2 L903.5 662.9 L905.5 664.5 L907.5 666 L909.5 667.4 L911.5 668.7 L915.5 671 L919.5 672.9 L923.5 674.6 L927.5 676 L931.5 677.2 L935.5 678.1 L939.5 678.9 L943.5 679.4 L947.5 679.9 L951.5 680.2 L955.5 680.4 L959.5 680.5 L963.5 680.4 L967.5 680.3 L971.5 680.2 L985.5 679.1 L999.5 677.5 L1013.5 675.6 L1027.5 673.4 L1041.5 671.1 L1055.5 668.7 L1069.5 666.2 L1083.5 663.7 L1097.5 661.2 L1111.5 658.6 L1125.5 656 L1139.5 653.5 L1144 652.6 L1146.4 646.9 L1149.6 631.7 L1161 462.5 M841.5 511 L843.5 517.4 L845.5 524 L847.5 530.4 L849.5 536.5 L851.5 542.4 L853.5 548.1 L855.5 553.4 L857.5 558.5 L859.5 563.4 L861.5 567.9 L863.5 572.3 L865.5 576.4 L867.5 580.2 L869.5 583.9 L871.5 587.3 L873.5 590.6 L875.5 593.6 L877.5 596.5 L879.5 599.2 L881.5 601.7 L883.5 604.1 L885.5 606.3 L887.5 608.4 L889.5 610.4 L891.5 612.2 L893.5 613.9 L895.5 615.5 L897.5 617 L899.5 618.3 L901.5 619.6 L903.5 620.8 L905.5 621.9 L907.5 622.9 L909.5 623.9 L911.5 624.7 L915.5 626.3 L919.5 627.6 L923.5 628.6 L927.5 629.5 L931.5 630.1 L935.5 630.7 L939.5 631 L943.5 631.3 L947.5 631.4 L951.5 631.5 L955.5 631.4 L959.5 631.3 L963.5 631.1 L967.5 630.9 L971.5 630.6 L985.5 629.1 L999.5 627.3 L1013.5 625.2 L1027.5 623 L1041.5 620.6 L1055.5 618.2 L1069.5 615.7 L1083.5 613.2 L1097.5 610.6 L1111.5 608.1 L1125.5 605.5 L1139.5 603 L1144 602.1 L1146.4 598 L1149.6 586.8 L1161 462.5 M841.5 511 L843.5 515.5 L845.5 520.2 L847.5 524.7 L849.5 529 L851.5 533.2 L853.5 537.2 L855.5 541 L857.5 544.5 L859.5 547.9 L861.5 551.2 L863.5 554.2 L865.5 557.1 L867.5 559.8 L869.5 562.3 L871.5 564.7 L873.5 567 L875.5 569.1 L877.5 571.1 L879.5 573 L881.5 574.7 L883.5 576.3 L885.5 577.9 L887.5 579.3 L889.5 580.6 L891.5 581.9 L893.5 583 L895.5 584.1 L897.5 585.1 L899.5 586 L901.5 586.8 L903.5 587.6 L905.5 588.3 L907.5 588.9 L909.5 589.5 L911.5 590.1 L915.5 591 L919.5 591.8 L923.5 592.4 L927.5 592.8 L931.5 593.1 L935.5 593.3 L939.5 593.4 L943.5 593.4 L947.5 593.4 L951.5 593.2 L955.5 593 L959.5 592.7 L963.5 592.4 L967.5 592.1 L971.5 591.7 L985.5 590 L999.5 588 L1013.5 585.9 L1027.5 583.6 L1041.5 581.3 L1055.5 578.8 L1069.5 576.4 L1083.5 573.9 L1097.5 571.4 L1111.5 569 L1125.5 566.5 L1139.5 564 L1144 563.2 L1146.4 560.1 L1149.6 552.1 L1161 462.5 M841.5 511 L843.5 514.1 L845.5 517.3 L847.5 520.4 L849.5 523.4 L851.5 526.3 L853.5 529 L855.5 531.6 L857.5 534.1 L859.5 536.4 L861.5 538.6 L863.5 540.7 L865.5 542.6 L867.5 544.4 L869.5 546.2 L871.5 547.8 L873.5 549.3 L875.5 550.7 L877.5 552 L879.5 553.3 L881.5 554.4 L883.5 555.5 L885.5 556.5 L887.5 557.4 L889.5 558.2 L891.5 559 L893.5 559.8 L895.5 560.4 L897.5 561 L899.5 561.6 L901.5 562.1 L903.5 562.5 L905.5 562.9 L907.5 563.3 L909.5 563.6 L911.5 563.9 L915.5 564.4 L919.5 564.7 L923.5 565 L927.5 565.1 L931.5 565.1 L935.5 565.1 L939.5 564.9 L943.5 564.7 L947.5 564.5 L951.5 564.2 L955.5 563.8 L959.5 563.4 L963.5 563 L967.5 562.5 L971.5 562 L985.5 560.1 L999.5 558 L1013.5 555.7 L1027.5 553.4 L1041.5 551 L1055.5 548.5 L1069.5 546 L1083.5 543.5 L1097.5 541 L1111.5 538.5 L1125.5 536 L1139.5 533.5 L1144 532.7 L1146.4 530.5 L1149.6 524.9 L1161 462.5 M841.5 511 L843.5 513.2 L845.5 515.4 L847.5 517.6 L849.5 519.7 L851.5 521.7 L853.5 523.6 L855.5 525.4 L857.5 527.1 L859.5 528.7 L861.5 530.2 L863.5 531.6 L865.5 532.9 L867.5 534.1 L869.5 535.3 L871.5 536.4 L873.5 537.4 L875.5 538.3 L877.5 539.1 L879.5 539.9 L881.5 540.7 L883.5 541.3 L885.5 541.9 L887.5 542.5 L889.5 543 L891.5 543.5 L893.5 543.9 L895.5 544.2 L897.5 544.6 L899.5 544.9 L901.5 545.1 L903.5 545.3 L905.5 545.5 L907.5 545.6 L909.5 545.8 L911.5 545.9 L915.5 546 L919.5 546 L923.5 545.9 L927.5 545.7 L931.5 545.5 L935.5 545.2 L939.5 544.9 L943.5 544.5 L947.5 544.1 L951.5 543.6 L955.5 543.1 L959.5 542.6 L963.5 542 L967.5 541.4 L971.5 540.8 L985.5 538.6 L999.5 536.1 L1013.5 533.6 L1027.5 531 L1041.5 528.4 L1055.5 525.7 L1069.5 523 L1083.5 520.4 L1097.5 517.7 L1111.5 514.9 L1125.5 512.2 L1139.5 509.5 L1143 508.9 L1145.5 507.5 L1148.9 503.8 L1161 462.5 M841.5 511 L843.5 512.5 L845.5 514 L847.5 515.4 L849.5 516.9 L851.5 518.2 L853.5 519.4 L855.5 520.6 L857.5 521.8 L859.5 522.8 L861.5 523.8 L863.5 524.7 L865.5 525.5 L867.5 526.3 L869.5 527.1 L871.5 527.7 L873.5 528.3 L875.5 528.9 L877.5 529.4 L879.5 529.9 L881.5 530.3 L883.5 530.7 L885.5 531 L887.5 531.3 L889.5 531.6 L891.5 531.8 L893.5 532 L895.5 532.2 L897.5 532.3 L899.5 532.4 L901.5 532.5 L903.5 532.5 L905.5 532.5 L907.5 532.5 L909.5 532.5 L911.5 532.5 L915.5 532.3 L919.5 532.1 L923.5 531.9 L927.5 531.5 L931.5 531.1 L935.5 530.7 L939.5 530.3 L943.5 529.8 L947.5 529.2 L951.5 528.7 L955.5 528.1 L959.5 527.5 L963.5 526.9 L967.5 526.2 L971.5 525.6 L985.5 523.1 L999.5 520.6 L1013.5 518 L1027.5 515.4 L1041.5 512.7 L1055.5 510 L1069.5 507.2 L1083.5 504.5 L1097.5 501.8 L1111.5 499 L1125.5 496.3 L1139.5 493.5 L1142 493.1 L1144.7 492.1 L1148.3 489.7 L1161 462.5 M841.5 511 L843.5 511.9 L845.5 512.9 L847.5 513.9 L849.5 514.8 L851.5 515.6 L853.5 516.4 L855.5 517.1 L857.5 517.8 L859.5 518.5 L861.5 519.1 L863.5 519.6 L865.5 520.1 L867.5 520.6 L869.5 521 L871.5 521.3 L873.5 521.7 L875.5 522 L877.5 522.2 L879.5 522.4 L881.5 522.6 L883.5 522.8 L885.5 522.9 L887.5 523 L889.5 523.1 L891.5 523.2 L893.5 523.2 L895.5 523.2 L897.5 523.2 L899.5 523.1 L901.5 523.1 L903.5 523 L905.5 522.9 L907.5 522.8 L909.5 522.6 L911.5 522.5 L915.5 522.2 L919.5 521.8 L923.5 521.4 L927.5 520.9 L931.5 520.4 L935.5 519.9 L939.5 519.3 L943.5 518.7 L947.5 518.1 L951.5 517.4 L955.5 516.8 L959.5 516.1 L963.5 515.4 L967.5 514.7 L971.5 514 L985.5 511.5 L999.5 508.8 L1013.5 506.1 L1027.5 503.4 L1041.5 500.6 L1055.5 497.9 L1069.5 495.1 L1083.5 492.3 L1097.5 489.5 L1111.5 486.7 L1125.5 483.9 L1139.5 481.1 L1140.8 480.8 L1143.6 480.3 L1147.5 478.8 L1161 462.5 M841.5 511 L843.5 511.5 L845.5 512 L847.5 512.4 L849.5 512.9 L851.5 513.3 L853.5 513.7 L855.5 514 L857.5 514.3 L859.5 514.6 L861.5 514.9 L863.5 515.1 L865.5 515.3 L867.5 515.4 L869.5 515.5 L871.5 515.6 L873.5 515.7 L875.5 515.8 L877.5 515.8 L879.5 515.8 L881.5 515.8 L883.5 515.7 L885.5 515.7 L887.5 515.6 L889.5 515.5 L891.5 515.4 L893.5 515.2 L895.5 515.1 L897.5 514.9 L899.5 514.7 L901.5 514.6 L903.5 514.4 L905.5 514.1 L907.5 513.9 L909.5 513.7 L911.5 513.4 L915.5 512.9 L919.5 512.4 L923.5 511.8 L927.5 511.2 L931.5 510.6 L935.5 509.9 L939.5 509.2 L943.5 508.5 L947.5 507.8 L951.5 507.1 L955.5 506.4 L959.5 505.6 L963.5 504.9 L967.5 504.1 L971.5 503.4 L985.5 500.6 L999.5 497.8 L1013.5 495 L1027.5 492.1 L1041.5 489.2 L1055.5 486.3 L1069.5 483.4 L1083.5 480.5 L1097.5 477.6 L1111.5 474.7 L1125.5 471.8 L1139.5 468.9 L1140 468.8 L1142.9 468.6 L1146.9 468.1 L1161 462.5 M841.5 511 L843.5 511.2 L845.5 511.4 L847.5 511.7 L849.5 511.8 L851.5 512 L853.5 512.1 L855.5 512.2 L857.5 512.3 L859.5 512.3 L861.5 512.3 L863.5 512.3 L865.5 512.3 L867.5 512.2 L869.5 512.2 L871.5 512.1 L873.5 511.9 L875.5 511.8 L877.5 511.6 L879.5 511.5 L881.5 511.3 L883.5 511.1 L885.5 510.8 L887.5 510.6 L889.5 510.4 L891.5 510.1 L893.5 509.8 L895.5 509.5 L897.5 509.2 L899.5 508.9 L901.5 508.6 L903.5 508.3 L905.5 507.9 L907.5 507.6 L909.5 507.2 L911.5 506.9 L915.5 506.1 L919.5 505.4 L923.5 504.6 L927.5 503.8 L931.5 503 L935.5 502.1 L939.5 501.3 L943.5 500.4 L947.5 499.5 L951.5 498.7 L955.5 497.8 L959.5 496.9 L963.5 496 L967.5 495 L971.5 494.1 L985.5 490.9 L999.5 487.6 L1013.5 484.3 L1027.5 481 L1041.5 477.7 L1055.5 474.4 L1069.5 471 L1083.5 467.7 L1097.5 464.4 L1111.5 461 L1125.5 457.7 L1139.5 454.3 L1140 454.2 L1161 462.5 M1162.9 646.8 L1176.9 643.6 L1190.9 640.3 L1204.9 637 L1218.9 633.6 L1232.9 630.1 L1246.9 626.6 L1260.9 622.8 L1274.9 618.8 L1278.9 617.6 L1282.9 616.3 L1286.9 615 L1290.9 613.7 L1294.9 612.3 L1298.9 610.8 L1302.9 609.3 L1306.9 607.7 L1310.9 606.1 L1314.9 604.3 L1318.9 602.5 L1322.9 600.5 L1326.9 598.4 L1330.9 596.2 L1334.9 593.8 L1338.9 591.2 L1342.9 588.5 L1346.9 585.5 L1350.9 582.3 L1352.9 580.6 L1354.9 578.8 L1356.9 577 L1358.9 575.1 L1360.9 573.1 L1362.9 571 L1364.9 568.9 L1366.9 566.6 L1368.9 564.3 L1370.9 561.8 L1372.9 559.2 L1374.9 556.6 L1376.9 553.8 L1378.9 550.9 L1380.9 547.8 L1382.9 544.6 L1384.9 541.3 L1386.9 537.9 L1388.9 534.2 L1390.9 530.5 L1392.9 526.5 L1394.9 522.4 L1396.9 518.1 L1398.9 513.6 L1400.9 508.9 L1402.9 504 L1404.9 498.9 L1406.9 493.6 L1408.9 488.1 L1410.9 482.3 L1412.9 476.3 L1414.9 470.1 L1416.9 463.6 L1418.9 456.8 L1420.9 449.8 L1422.9 442.6 L1424.9 435.1 L1426.9 427.3 L1428.9 419.3 L1430.9 411.1 L1432.9 402.8 L1434.9 394.3 L1436.9 385.7 L1438.9 377.4 L1440.1 373 M1162.9 598.2 L1176.9 595 L1190.9 591.7 L1204.9 588.4 L1218.9 585.1 L1232.9 581.7 L1246.9 578.2 L1260.9 574.5 L1274.9 570.7 L1278.9 569.6 L1282.9 568.4 L1286.9 567.2 L1290.9 565.9 L1294.9 564.7 L1298.9 563.3 L1302.9 561.9 L1306.9 560.5 L1310.9 559 L1314.9 557.5 L1318.9 555.8 L1322.9 554.1 L1326.9 552.3 L1330.9 550.3 L1334.9 548.3 L1338.9 546.1 L1342.9 543.8 L1346.9 541.3 L1350.9 538.6 L1352.9 537.2 L1354.9 535.7 L1356.9 534.2 L1358.9 532.7 L1360.9 531 L1362.9 529.3 L1364.9 527.5 L1366.9 525.7 L1368.9 523.8 L1370.9 521.8 L1372.9 519.7 L1374.9 517.6 L1376.9 515.3 L1378.9 513 L1380.9 510.5 L1382.9 508 L1384.9 505.3 L1386.9 502.5 L1388.9 499.7 L1390.9 496.6 L1392.9 493.5 L1394.9 490.2 L1396.9 486.8 L1398.9 483.3 L1400.9 479.6 L1402.9 475.7 L1404.9 471.7 L1406.9 467.5 L1408.9 463.1 L1410.9 458.6 L1412.9 453.9 L1414.9 448.9 L1416.9 443.8 L1418.9 438.6 L1420.9 433.1 L1422.9 427.4 L1424.9 421.5 L1426.9 415.5 L1428.9 409.2 L1430.9 402.8 L1432.9 396.3 L1434.9 389.6 L1436.9 383 L1438.9 376.5 L1440.1 373 M1162.9 559.1 L1176.9 555.8 L1190.9 552.5 L1204.9 549.3 L1218.9 546 L1232.9 542.6 L1246.9 539.2 L1260.9 535.6 L1274.9 531.9 L1278.9 530.8 L1282.9 529.7 L1286.9 528.6 L1290.9 527.4 L1294.9 526.2 L1298.9 525 L1302.9 523.7 L1306.9 522.4 L1310.9 521.1 L1314.9 519.7 L1318.9 518.2 L1322.9 516.7 L1326.9 515.1 L1330.9 513.4 L1334.9 511.6 L1338.9 509.7 L1342.9 507.7 L1346.9 505.6 L1350.9 503.4 L1352.9 502.2 L1354.9 501 L1356.9 499.7 L1358.9 498.4 L1360.9 497.1 L1362.9 495.7 L1364.9 494.2 L1366.9 492.7 L1368.9 491.2 L1370.9 489.5 L1372.9 487.8 L1374.9 486.1 L1376.9 484.3 L1378.9 482.4 L1380.9 480.4 L1382.9 478.4 L1384.9 476.3 L1386.9 474.1 L1388.9 471.8 L1390.9 469.4 L1392.9 466.9 L1394.9 464.3 L1396.9 461.6 L1398.9 458.8 L1400.9 455.9 L1402.9 452.8 L1404.9 449.7 L1406.9 446.4 L1408.9 443 L1410.9 439.4 L1412.9 435.7 L1414.9 431.9 L1416.9 427.9 L1418.9 423.8 L1420.9 419.6 L1422.9 415.1 L1424.9 410.6 L1426.9 405.9 L1428.9 401 L1430.9 396.1 L1432.9 391 L1434.9 385.9 L1436.9 380.7 L1438.9 375.7 L1440.1 373 M1162.9 528.3 L1176.9 525 L1190.9 521.8 L1204.9 518.5 L1218.9 515.2 L1232.9 511.9 L1246.9 508.5 L1260.9 505.1 L1274.9 501.5 L1278.9 500.4 L1282.9 499.4 L1286.9 498.3 L1290.9 497.2 L1294.9 496 L1298.9 494.9 L1302.9 493.7 L1306.9 492.5 L1310.9 491.3 L1314.9 490 L1318.9 488.6 L1322.9 487.3 L1326.9 485.8 L1330.9 484.3 L1334.9 482.8 L1338.9 481.1 L1342.9 479.4 L1346.9 477.6 L1350.9 475.7 L1352.9 474.7 L1354.9 473.7 L1356.9 472.6 L1358.9 471.5 L1360.9 470.4 L1362.9 469.2 L1364.9 468 L1366.9 466.8 L1368.9 465.5 L1370.9 464.2 L1372.9 462.8 L1374.9 461.4 L1376.9 459.9 L1378.9 458.4 L1380.9 456.8 L1382.9 455.2 L1384.9 453.4 L1386.9 451.7 L1388.9 449.8 L1390.9 447.9 L1392.9 446 L1394.9 443.9 L1396.9 441.8 L1398.9 439.6 L1400.9 437.3 L1402.9 434.9 L1404.9 432.4 L1406.9 429.8 L1408.9 427.2 L1410.9 424.4 L1412.9 421.5 L1414.9 418.5 L1416.9 415.4 L1418.9 412.2 L1420.9 408.9 L1422.9 405.5 L1424.9 402 L1426.9 398.4 L1428.9 394.6 L1430.9 390.8 L1432.9 386.9 L1434.9 382.9 L1436.9 379 L1438.9 375.1 L1440.1 373 M1162.9 506.8 L1176.9 503.5 L1190.9 500.3 L1204.9 497 L1218.9 493.8 L1232.9 490.5 L1246.9 487.1 L1260.9 483.7 L1274.9 480.2 L1278.9 479.2 L1282.9 478.2 L1286.9 477.1 L1290.9 476.1 L1294.9 475 L1298.9 473.9 L1302.9 472.8 L1306.9 471.6 L1310.9 470.4 L1314.9 469.2 L1318.9 468 L1322.9 466.7 L1326.9 465.4 L1330.9 464.1 L1334.9 462.7 L1338.9 461.2 L1342.9 459.7 L1346.9 458.1 L1350.9 456.4 L1352.9 455.5 L1354.9 454.6 L1356.9 453.7 L1358.9 452.8 L1360.9 451.8 L1362.9 450.8 L1364.9 449.8 L1366.9 448.7 L1368.9 447.6 L1370.9 446.5 L1372.9 445.3 L1374.9 444.1 L1376.9 442.9 L1378.9 441.6 L1380.9 440.3 L1382.9 438.9 L1384.9 437.5 L1386.9 436.1 L1388.9 434.5 L1390.9 433 L1392.9 431.4 L1394.9 429.7 L1396.9 427.9 L1398.9 426.1 L1400.9 424.3 L1402.9 422.3 L1404.9 420.3 L1406.9 418.3 L1408.9 416.1 L1410.9 413.9 L1412.9 411.6 L1414.9 409.2 L1416.9 406.7 L1418.9 404.2 L1420.9 401.5 L1422.9 398.8 L1424.9 396 L1426.9 393.1 L1428.9 390.1 L1430.9 387.1 L1432.9 384 L1434.9 380.9 L1436.9 377.7 L1438.9 374.7 L1440.1 373 M1162.9 490 L1176.9 486.7 L1190.9 483.5 L1204.9 480.3 L1218.9 477 L1232.9 473.7 L1246.9 470.4 L1260.9 467 L1274.9 463.6 L1278.9 462.6 L1282.9 461.6 L1286.9 460.6 L1290.9 459.6 L1294.9 458.5 L1298.9 457.5 L1302.9 456.4 L1306.9 455.3 L1310.9 454.2 L1314.9 453.1 L1318.9 451.9 L1322.9 450.7 L1326.9 449.5 L1330.9 448.2 L1334.9 446.9 L1338.9 445.6 L1342.9 444.2 L1346.9 442.8 L1350.9 441.3 L1352.9 440.5 L1354.9 439.7 L1356.9 438.9 L1358.9 438.1 L1360.9 437.2 L1362.9 436.4 L1364.9 435.5 L1366.9 434.6 L1368.9 433.6 L1370.9 432.7 L1372.9 431.7 L1374.9 430.6 L1376.9 429.6 L1378.9 428.5 L1380.9 427.4 L1382.9 426.3 L1384.9 425.1 L1386.9 423.8 L1388.9 422.6 L1390.9 421.3 L1392.9 419.9 L1394.9 418.6 L1396.9 417.1 L1398.9 415.7 L1400.9 414.1 L1402.9 412.5 L1404.9 410.9 L1406.9 409.2 L1408.9 407.5 L1410.9 405.7 L1412.9 403.8 L1414.9 401.9 L1416.9 399.9 L1418.9 397.8 L1420.9 395.7 L1422.9 393.6 L1424.9 391.3 L1426.9 389 L1428.9 386.6 L1430.9 384.2 L1432.9 381.8 L1434.9 379.3 L1436.9 376.8 L1438.9 374.3 L1440.1 373 M1162.9 476 L1176.9 472.8 L1190.9 469.5 L1204.9 466.3 L1218.9 463 L1232.9 459.7 L1246.9 456.5 L1260.9 453.1 L1274.9 449.8 L1278.9 448.8 L1282.9 447.8 L1286.9 446.8 L1290.9 445.8 L1294.9 444.8 L1298.9 443.8 L1302.9 442.7 L1306.9 441.7 L1310.9 440.6 L1314.9 439.6 L1318.9 438.5 L1322.9 437.3 L1326.9 436.2 L1330.9 435 L1334.9 433.8 L1338.9 432.6 L1342.9 431.4 L1346.9 430.1 L1350.9 428.7 L1352.9 428 L1354.9 427.3 L1356.9 426.6 L1358.9 425.9 L1360.9 425.1 L1362.9 424.4 L1364.9 423.6 L1366.9 422.8 L1368.9 422 L1370.9 421.1 L1372.9 420.3 L1374.9 419.4 L1376.9 418.5 L1378.9 417.6 L1380.9 416.7 L1382.9 415.7 L1384.9 414.7 L1386.9 413.7 L1388.9 412.6 L1390.9 411.5 L1392.9 410.4 L1394.9 409.3 L1396.9 408.1 L1398.9 406.9 L1400.9 405.7 L1402.9 404.4 L1404.9 403.1 L1406.9 401.7 L1408.9 400.3 L1410.9 398.8 L1412.9 397.3 L1414.9 395.8 L1416.9 394.2 L1418.9 392.6 L1420.9 390.9 L1422.9 389.2 L1424.9 387.4 L1426.9 385.6 L1428.9 383.7 L1430.9 381.8 L1432.9 379.9 L1434.9 377.9 L1436.9 376 L1438.9 374.1 L1440.1 373 M1162.9 463.6 L1176.9 460.4 L1190.9 457.1 L1204.9 453.9 L1218.9 450.6 L1232.9 447.4 L1246.9 444.1 L1260.9 440.8 L1274.9 437.5 L1278.9 436.5 L1282.9 435.6 L1286.9 434.6 L1290.9 433.6 L1294.9 432.6 L1298.9 431.7 L1302.9 430.7 L1306.9 429.6 L1310.9 428.6 L1314.9 427.6 L1318.9 426.6 L1322.9 425.5 L1326.9 424.4 L1330.9 423.3 L1334.9 422.2 L1338.9 421.1 L1342.9 420 L1346.9 418.8 L1350.9 417.6 L1352.9 416.9 L1354.9 416.3 L1356.9 415.7 L1358.9 415 L1360.9 414.4 L1362.9 413.7 L1364.9 413 L1366.9 412.3 L1368.9 411.6 L1370.9 410.9 L1372.9 410.2 L1374.9 409.5 L1376.9 408.7 L1378.9 407.9 L1380.9 407.1 L1382.9 406.3 L1384.9 405.5 L1386.9 404.7 L1388.9 403.8 L1390.9 402.9 L1392.9 402 L1394.9 401.1 L1396.9 400.1 L1398.9 399.2 L1400.9 398.2 L1402.9 397.1 L1404.9 396.1 L1406.9 395 L1408.9 393.9 L1410.9 392.8 L1412.9 391.6 L1414.9 390.4 L1416.9 389.2 L1418.9 387.9 L1420.9 386.6 L1422.9 385.3 L1424.9 383.9 L1426.9 382.6 L1428.9 381.1 L1430.9 379.7 L1432.9 378.2 L1434.9 376.8 L1436.9 375.3 L1438.9 373.8 L1440.1 373 M1162.9 449.3 L1176.9 446.1 L1190.9 442.8 L1204.9 439.6 L1218.9 436.4 L1232.9 433.1 L1246.9 429.9 L1260.9 426.6 L1274.9 423.3 L1278.9 422.4 L1282.9 421.5 L1286.9 420.5 L1290.9 419.6 L1294.9 418.6 L1298.9 417.7 L1302.9 416.7 L1306.9 415.8 L1310.9 414.8 L1314.9 413.8 L1318.9 412.8 L1322.9 411.9 L1326.9 410.9 L1330.9 409.9 L1334.9 408.9 L1338.9 407.8 L1342.9 406.8 L1346.9 405.8 L1350.9 404.7 L1352.9 404.2 L1354.9 403.6 L1356.9 403.1 L1358.9 402.5 L1360.9 402 L1362.9 401.4 L1364.9 400.9 L1366.9 400.3 L1368.9 399.7 L1370.9 399.2 L1372.9 398.6 L1374.9 398 L1376.9 397.4 L1378.9 396.8 L1380.9 396.2 L1382.9 395.5 L1384.9 394.9 L1386.9 394.3 L1388.9 393.6 L1390.9 393 L1392.9 392.3 L1394.9 391.6 L1396.9 390.9 L1398.9 390.2 L1400.9 389.5 L1402.9 388.8 L1404.9 388.1 L1406.9 387.3 L1408.9 386.6 L1410.9 385.8 L1412.9 385 L1414.9 384.2 L1416.9 383.4 L1418.9 382.5 L1420.9 381.7 L1422.9 380.8 L1424.9 380 L1426.9 379.1 L1428.9 378.2 L1430.9 377.2 L1432.9 376.3 L1434.9 375.4 L1436.9 374.4 L1438.9 373.5 L1440.1 373" fill="none" stroke="#0a1a1e" stroke-width="1.9" stroke-opacity="0.85" stroke-linejoin="round"/>
<path d="M1160 437.3 L1163.4 436.5 L1163.4 463.1 L1160 463.1Z" fill="#bddf26"/>
<path d="M1155.1 449.2 L1163.4 449.3 L1163.4 463.1 L1161.5 463.1Z" fill="#7ad151"/>
<path d="M1155.1 449.2 L1163.4 449.3" stroke="#1a2a10" stroke-width="1.9" fill="none" stroke-opacity="0.8"/>
<linearGradient id="wg4" gradientUnits="userSpaceOnUse" x1="0" y1="462.5" x2="0" y2="557.5"><stop offset="0" stop-color="#0c0a20"/><stop offset="0.45" stop-color="#1c0a3c"/><stop offset="1" stop-color="#440154"/></linearGradient>
<path d="M1160.7 463.5 L1162.9 463.5 L1162.9 557.5 L1155.2 557.5Z" fill="url(#wg4)"/>
<linearGradient id="ng4" gradientUnits="userSpaceOnUse" x1="1118.6" y1="443.1" x2="1131.6" y2="437.1"><stop offset="0" stop-color="#04100c"/><stop offset="0.3" stop-color="#0a2e22"/><stop offset="0.55" stop-color="#4f8a2c"/><stop offset="0.8" stop-color="#bddf26"/></linearGradient>
<path d="M1118 425.6 L1119.4 425.6 L1141.5 441.4 L1141.5 442.8 L1118 448.1Z" fill="url(#ng4)"/>
<text x="1008.7" y="494.6" transform="rotate(-13 1008.7 487.6)" class="cl">1844.44</text>
<text x="1092.2" y="504" transform="rotate(-13 1092.2 497)" class="cl">1533.33</text>
<text x="1026.3" y="566.3" transform="rotate(-13 1026.3 559.3)" class="cl">1222.22</text>
<text x="1091" y="586.3" transform="rotate(-13 1091 579.3)" class="cl">911.111</text>
<text x="1094.5" y="672.1" transform="rotate(-13 1094.5 665.1)" class="cl">600</text>
<text x="1288.7" y="442.8" transform="rotate(-13 1288.7 435.8)" class="cl">1688.89</text>
<text x="1255.8" y="478.1" transform="rotate(-13 1255.8 471.1)" class="cl">1377.78</text>
<text x="1255.8" y="542.8" transform="rotate(-13 1255.8 535.8)" class="cl">1066.67</text>
<text x="1221.7" y="591" transform="rotate(-13 1221.7 584)" class="cl">755.556</text></g>
</g>
<g id="cbar">
<rect x="1515.4" y="40.4" width="31" height="12.6" fill="#fde725"/>
<rect x="1515.4" y="52.7" width="31" height="24.9" fill="#bddf26"/>
<line x1="1515.4" y1="52.7" x2="1546.4" y2="52.7" stroke="#223" stroke-opacity="0.35" stroke-width="1"/>
<rect x="1515.4" y="77.4" width="31" height="24.9" fill="#7ad151"/>
<line x1="1515.4" y1="77.4" x2="1546.4" y2="77.4" stroke="#223" stroke-opacity="0.35" stroke-width="1"/>
<rect x="1515.4" y="102" width="31" height="24.9" fill="#44bf70"/>
<line x1="1515.4" y1="102" x2="1546.4" y2="102" stroke="#223" stroke-opacity="0.35" stroke-width="1"/>
<rect x="1515.4" y="126.6" width="31" height="24.9" fill="#22a884"/>
<line x1="1515.4" y1="126.6" x2="1546.4" y2="126.6" stroke="#223" stroke-opacity="0.35" stroke-width="1"/>
<rect x="1515.4" y="151.3" width="31" height="24.9" fill="#21918c"/>
<line x1="1515.4" y1="151.3" x2="1546.4" y2="151.3" stroke="#223" stroke-opacity="0.35" stroke-width="1"/>
<rect x="1515.4" y="175.9" width="31" height="24.9" fill="#2a788e"/>
<line x1="1515.4" y1="175.9" x2="1546.4" y2="175.9" stroke="#223" stroke-opacity="0.35" stroke-width="1"/>
<rect x="1515.4" y="200.6" width="31" height="24.9" fill="#355f8d"/>
<line x1="1515.4" y1="200.6" x2="1546.4" y2="200.6" stroke="#223" stroke-opacity="0.35" stroke-width="1"/>
<rect x="1515.4" y="225.2" width="31" height="24.9" fill="#414487"/>
<line x1="1515.4" y1="225.2" x2="1546.4" y2="225.2" stroke="#223" stroke-opacity="0.35" stroke-width="1"/>
<rect x="1515.4" y="249.8" width="31" height="24.9" fill="#482475"/>
<line x1="1515.4" y1="249.8" x2="1546.4" y2="249.8" stroke="#223" stroke-opacity="0.35" stroke-width="1"/>
<rect x="1515.4" y="274.5" width="31" height="12.6" fill="#440154"/>
<line x1="1515.4" y1="274.5" x2="1546.4" y2="274.5" stroke="#223" stroke-opacity="0.35" stroke-width="1"/>
<text class="sans" x="1519.8" y="25.6" font-size="20.9" fill="#222" stroke="#222" stroke-width="0.35">Temperature</text>
<text class="sans" x="1563" y="62.6" font-size="20.3" fill="#222" stroke="#222" stroke-width="0.35">2000</text>
<text class="sans" x="1563" y="87.3" font-size="20.3" fill="#222" stroke="#222" stroke-width="0.35">1844.44</text>
<text class="sans" x="1563" y="111.9" font-size="20.3" fill="#222" stroke="#222" stroke-width="0.35">1688.89</text>
<text class="sans" x="1563" y="136.5" font-size="20.3" fill="#222" stroke="#222" stroke-width="0.35">1533.33</text>
<text class="sans" x="1563" y="161.2" font-size="20.3" fill="#222" stroke="#222" stroke-width="0.35">1377.78</text>
<text class="sans" x="1563" y="185.8" font-size="20.3" fill="#222" stroke="#222" stroke-width="0.35">1222.22</text>
<text class="sans" x="1563" y="210.5" font-size="20.3" fill="#222" stroke="#222" stroke-width="0.35">1066.67</text>
<text class="sans" x="1563" y="235.1" font-size="20.3" fill="#222" stroke="#222" stroke-width="0.35">911.111</text>
<text class="sans" x="1563" y="259.7" font-size="20.3" fill="#222" stroke="#222" stroke-width="0.35">755.556</text>
<text class="sans" x="1563" y="284.4" font-size="20.3" fill="#222" stroke="#222" stroke-width="0.35">600</text>
<text x="1515" y="315" font-size="27" fill="#1a2a40" stroke="#1a2a40" stroke-width="0.4">[°C]</text>
</g>
<g id="captions">
<text class="cap" x="422.9" y="370.4" font-size="36.5" textLength="200.5" lengthAdjust="spacing" stroke="#1a1a1a" stroke-width="0.6">3.69×10<tspan font-size="19" dy="-13.1">-4</tspan><tspan dy="13.1">m/s</tspan></text>
<text class="cap" x="1068.3" y="363.8" font-size="36.5" textLength="202" lengthAdjust="spacing" stroke="#1a1a1a" stroke-width="0.6">4.22×10<tspan font-size="19" dy="-13.1">-4</tspan><tspan dy="13.1">m/s</tspan></text>
<text class="cap" x="419.6" y="737.6" font-size="36.5" textLength="203" lengthAdjust="spacing" stroke="#1a1a1a" stroke-width="0.6">4.75×10<tspan font-size="19" dy="-13.1">-4</tspan><tspan dy="13.1">m/s</tspan></text>
<text class="cap" x="1068.8" y="746" font-size="36.5" textLength="203" lengthAdjust="spacing" stroke="#1a1a1a" stroke-width="0.6">5.27×10<tspan font-size="19" dy="-13.1">-4</tspan><tspan dy="13.1">m/s</tspan></text>
<text x="1480.5" y="672" font-size="47.5" fill="#1a1a1a" stroke="#1a1a1a" stroke-width="0.4">(a)</text>
</g>
<g id="barchart">
<line x1="90.3" y1="835.7" x2="791.4" y2="835.7" stroke="#8a8a8a" stroke-width="1.5" stroke-dasharray="2 2.5"/>
<line x1="90.3" y1="919.8" x2="791.4" y2="919.8" stroke="#8a8a8a" stroke-width="1.5" stroke-dasharray="2 2.5"/>
<line x1="90.3" y1="1003.8" x2="791.4" y2="1003.8" stroke="#8a8a8a" stroke-width="1.5" stroke-dasharray="2 2.5"/>
<line x1="90.3" y1="1087.5" x2="791.4" y2="1087.5" stroke="#8a8a8a" stroke-width="1.5" stroke-dasharray="2 2.5"/>
<line x1="90.3" y1="1171.6" x2="791.4" y2="1171.6" stroke="#8a8a8a" stroke-width="1.5" stroke-dasharray="2 2.5"/>
<line x1="90.3" y1="1255.7" x2="791.4" y2="1255.7" stroke="#8a8a8a" stroke-width="1.5" stroke-dasharray="2 2.5"/>
<rect x="90.3" y="817.9" width="683.6" height="8.8" fill="#ffff78" stroke="#111" stroke-width="1.75"/>
<rect x="90.3" y="826.8" width="683.6" height="8.8" fill="#ffc2c2" stroke="#111" stroke-width="1.75"/>
<rect x="90.3" y="835.6" width="683.6" height="8.8" fill="#929bff" stroke="#111" stroke-width="1.75"/>
<rect x="90.3" y="844.4" width="683.6" height="8.8" fill="#acffff" stroke="#111" stroke-width="1.75"/>
<rect x="90.3" y="860" width="426.9" height="8.8" fill="#ffff78" stroke="#111" stroke-width="1.75"/>
<rect x="90.3" y="868.8" width="445.2" height="8.8" fill="#ffc2c2" stroke="#111" stroke-width="1.75"/>
<rect x="90.3" y="877.7" width="389.3" height="8.8" fill="#929bff" stroke="#111" stroke-width="1.75"/>
<rect x="90.3" y="886.5" width="345.4" height="8.8" fill="#acffff" stroke="#111" stroke-width="1.75"/>
<rect x="90.3" y="902.1" width="264" height="8.8" fill="#ffff78" stroke="#111" stroke-width="1.75"/>
<rect x="90.3" y="910.9" width="286" height="8.8" fill="#ffc2c2" stroke="#111" stroke-width="1.75"/>
<rect x="90.3" y="919.8" width="255.2" height="8.8" fill="#929bff" stroke="#111" stroke-width="1.75"/>
<rect x="90.3" y="928.6" width="221.3" height="8.8" fill="#acffff" stroke="#111" stroke-width="1.75"/>
<rect x="90.3" y="944.1" width="164.4" height="8.8" fill="#ffff78" stroke="#111" stroke-width="1.75"/>
<rect x="90.3" y="953" width="188.7" height="8.8" fill="#ffc2c2" stroke="#111" stroke-width="1.75"/>
<rect x="90.3" y="961.8" width="172.9" height="8.8" fill="#929bff" stroke="#111" stroke-width="1.75"/>
<rect x="90.3" y="970.7" width="157.4" height="8.8" fill="#acffff" stroke="#111" stroke-width="1.75"/>
<rect x="90.3" y="986.2" width="107.2" height="8.8" fill="#ffff78" stroke="#111" stroke-width="1.75"/>
<rect x="90.3" y="995.1" width="148.6" height="8.8" fill="#ffc2c2" stroke="#111" stroke-width="1.75"/>
<rect x="90.3" y="1003.9" width="139.8" height="8.8" fill="#929bff" stroke="#111" stroke-width="1.75"/>
<rect x="90.3" y="1012.8" width="116" height="8.8" fill="#acffff" stroke="#111" stroke-width="1.75"/>
<rect x="90.3" y="1028.3" width="65" height="8.8" fill="#ffff78" stroke="#111" stroke-width="1.75"/>
<rect x="90.3" y="1037.1" width="82.9" height="8.8" fill="#ffc2c2" stroke="#111" stroke-width="1.75"/>
<rect x="90.3" y="1046" width="91.4" height="8.8" fill="#929bff" stroke="#111" stroke-width="1.75"/>
<rect x="90.3" y="1054.8" width="107.2" height="8.8" fill="#acffff" stroke="#111" stroke-width="1.75"/>
<rect x="90.3" y="1070.4" width="60.8" height="8.8" fill="#ffff78" stroke="#111" stroke-width="1.75"/>
<rect x="90.3" y="1079.2" width="91.4" height="8.8" fill="#ffc2c2" stroke="#111" stroke-width="1.75"/>
<rect x="90.3" y="1088.1" width="91.4" height="8.8" fill="#929bff" stroke="#111" stroke-width="1.75"/>
<rect x="90.3" y="1096.9" width="104.7" height="8.8" fill="#acffff" stroke="#111" stroke-width="1.75"/>
<rect x="90.3" y="1112.5" width="65" height="8.8" fill="#ffff78" stroke="#111" stroke-width="1.75"/>
<rect x="90.3" y="1121.3" width="131.5" height="8.8" fill="#ffc2c2" stroke="#111" stroke-width="1.75"/>
<rect x="90.3" y="1130.2" width="93.4" height="8.8" fill="#929bff" stroke="#111" stroke-width="1.75"/>
<rect x="90.3" y="1139" width="109.2" height="8.8" fill="#acffff" stroke="#111" stroke-width="1.75"/>
<rect x="90.3" y="1154.5" width="87.1" height="8.8" fill="#ffff78" stroke="#111" stroke-width="1.75"/>
<rect x="90.3" y="1163.4" width="111.5" height="8.8" fill="#ffc2c2" stroke="#111" stroke-width="1.75"/>
<rect x="90.3" y="1172.2" width="120.5" height="8.8" fill="#929bff" stroke="#111" stroke-width="1.75"/>
<rect x="90.3" y="1181.1" width="138" height="8.8" fill="#acffff" stroke="#111" stroke-width="1.75"/>
<rect x="90.3" y="1196.6" width="107.2" height="8.8" fill="#ffff78" stroke="#111" stroke-width="1.75"/>
<rect x="90.3" y="1205.5" width="107.2" height="8.8" fill="#ffc2c2" stroke="#111" stroke-width="1.75"/>
<rect x="90.3" y="1214.3" width="146.8" height="8.8" fill="#929bff" stroke="#111" stroke-width="1.75"/>
<rect x="90.3" y="1223.2" width="164.4" height="8.8" fill="#acffff" stroke="#111" stroke-width="1.75"/>
<rect x="90.3" y="1238.7" width="65" height="8.8" fill="#ffff78" stroke="#111" stroke-width="1.75"/>
<rect x="90.3" y="1247.5" width="82.9" height="8.8" fill="#ffc2c2" stroke="#111" stroke-width="1.75"/>
<rect x="90.3" y="1256.4" width="114" height="8.8" fill="#929bff" stroke="#111" stroke-width="1.75"/>
<rect x="90.3" y="1265.2" width="120.5" height="8.8" fill="#acffff" stroke="#111" stroke-width="1.75"/>
<rect x="90.3" y="1280.8" width="98.4" height="8.8" fill="#ffff78" stroke="#111" stroke-width="1.75"/>
<rect x="90.3" y="1289.6" width="65" height="8.8" fill="#ffc2c2" stroke="#111" stroke-width="1.75"/>
<rect x="90.3" y="1298.5" width="114" height="8.8" fill="#929bff" stroke="#111" stroke-width="1.75"/>
<rect x="90.3" y="1307.3" width="120.5" height="8.8" fill="#acffff" stroke="#111" stroke-width="1.75"/>
<rect x="503" y="1040" width="180" height="268" fill="#fff"/>
<rect x="683" y="1045" width="50" height="150" fill="#fff" fill-opacity="0.85"/>
<rect x="90.3" y="793.8" width="701.1" height="545.5" fill="none" stroke="#1c1c1c" stroke-width="2.6" rx="1.5"/>
<line x1="261.2" y1="1339.3" x2="261.2" y2="1329.3" stroke="#222" stroke-width="2"/>
<line x1="432.2" y1="1339.3" x2="432.2" y2="1329.3" stroke="#222" stroke-width="2"/>
<line x1="603.1" y1="1339.3" x2="603.1" y2="1329.3" stroke="#222" stroke-width="2"/>
<line x1="774" y1="1339.3" x2="774" y2="1329.3" stroke="#222" stroke-width="2"/>
<text class="b" x="89" y="1370" font-size="27" text-anchor="middle" fill="#1a1a1a">0</text>
<text class="b" x="259" y="1370" font-size="27" text-anchor="middle" fill="#1a1a1a">500</text>
<text class="b" x="431" y="1370" font-size="27" text-anchor="middle" fill="#1a1a1a">1000</text>
<text class="b" x="603" y="1370" font-size="27" text-anchor="middle" fill="#1a1a1a">1500</text>
<text class="b" x="772" y="1370" font-size="27" text-anchor="middle" fill="#1a1a1a">2000</text>
<text class="b" x="75.5" y="884.7" font-size="27.5" text-anchor="end" fill="#1a1a1a">10</text>
<text class="b" x="75.5" y="968.8" font-size="27.5" text-anchor="end" fill="#1a1a1a">30</text>
<text class="b" x="75.5" y="1052.8" font-size="27.5" text-anchor="end" fill="#1a1a1a">60</text>
<text class="b" x="75.5" y="1136.9" font-size="27.5" text-anchor="end" fill="#1a1a1a">100</text>
<text class="b" x="75.5" y="1220.9" font-size="27.5" text-anchor="end" fill="#1a1a1a">140</text>
<text class="b" x="75.5" y="1305" font-size="27.5" text-anchor="end" fill="#1a1a1a">180</text>
<text class="b" x="0" y="0" font-size="29" text-anchor="middle" fill="#1a1a1a" transform="translate(23 1066) rotate(-90)" textLength="232" lengthAdjust="spacingAndGlyphs">Length of ingot/cm</text>
<text class="b" x="337.5" y="1416" font-size="28" fill="#1a1a1a" textLength="203" lengthAdjust="spacing">Temperature/°C</text>
<rect x="551.5" y="873.4" width="60" height="28.3" rx="1.5" fill="#a8ffff" stroke="#111" stroke-width="2"/>
<text x="617" y="894.4" font-size="27.5" fill="#1c1c1c" stroke="#1c1c1c" stroke-width="0.4" textLength="139.5" lengthAdjust="spacingAndGlyphs">5.27×10<tspan font-size="16" dy="-10">-4</tspan><tspan dy="10">m/s</tspan></text>
<rect x="551.5" y="909.2" width="60" height="28.3" rx="1.5" fill="#8e98ff" stroke="#111" stroke-width="2"/>
<text x="617" y="930.2" font-size="27.5" fill="#1c1c1c" stroke="#1c1c1c" stroke-width="0.4" textLength="139.5" lengthAdjust="spacingAndGlyphs">4.75×10<tspan font-size="16" dy="-10">-4</tspan><tspan dy="10">m/s</tspan></text>
<rect x="551.5" y="944.4" width="60" height="28.3" rx="1.5" fill="#ffbfbf" stroke="#111" stroke-width="2"/>
<text x="617" y="965.4" font-size="27.5" fill="#1c1c1c" stroke="#1c1c1c" stroke-width="0.4" textLength="139.5" lengthAdjust="spacingAndGlyphs">4.22×10<tspan font-size="16" dy="-10">-4</tspan><tspan dy="10">m/s</tspan></text>
<rect x="551.5" y="979.8" width="60" height="28.3" rx="1.5" fill="#ffff72" stroke="#111" stroke-width="2"/>
<text x="617" y="1000.8" font-size="27.5" fill="#1c1c1c" stroke="#1c1c1c" stroke-width="0.4" textLength="139.5" lengthAdjust="spacingAndGlyphs">3.69×10<tspan font-size="16" dy="-10">-4</tspan><tspan dy="10">m/s</tspan></text>
<path d="M523.2 1072 L673.6 1050.4 L661.9 1279 L511 1300.4Z" fill="#2568b2"/>
<path d="M523.5 1072 L523.5 1072 L527.2 1086.1 L531 1095.6 L534.7 1102 L538.5 1106.3 L542.2 1109 L545.9 1110.7 L549.7 1111.8 L553.4 1112.3 L557.1 1112.5 L560.9 1112.5 L564.6 1112.3 L568.4 1112 L572.1 1111.6 L575.8 1111.2 L579.6 1110.7 L583.3 1110.2 L587 1109.7 L590.8 1109.2 L594.5 1108.7 L598.2 1108.2 L602 1107.6 L605.7 1107.1 L609.5 1106.5 L613.2 1106 L616.9 1105.4 L620.7 1104.7 L624.4 1104.1 L628.1 1103.4 L631.9 1102.6 L635.6 1101.7 L639.4 1100.7 L643.1 1099.4 L646.8 1097.8 L650.6 1095.7 L654.3 1092.9 L658 1089.1 L661.8 1083.8 L665.5 1076.3 L669.3 1065.7 L673 1050.5 L673 1050.5Z" fill="#2f76c0" stroke="#5a9bd4" stroke-width="0.8"/>
<path d="M523.5 1072 L523.5 1072 L527.2 1086 L531 1094.6 L534.7 1099.7 L538.5 1102.8 L542.2 1104.5 L545.9 1105.4 L549.7 1105.7 L553.4 1105.7 L557.1 1105.5 L560.9 1105.2 L564.6 1104.8 L568.4 1104.4 L572.1 1103.9 L575.8 1103.4 L579.6 1102.9 L583.3 1102.3 L587 1101.8 L590.8 1101.3 L594.5 1100.8 L598.2 1100.2 L602 1099.7 L605.7 1099.1 L609.5 1098.6 L613.2 1098.1 L616.9 1097.5 L620.7 1096.9 L624.4 1096.4 L628.1 1095.8 L631.9 1095.2 L635.6 1094.5 L639.4 1093.7 L643.1 1092.9 L646.8 1091.8 L650.6 1090.3 L654.3 1088.4 L658 1085.6 L661.8 1081.5 L665.5 1075.2 L669.3 1065.6 L673 1050.5 L673 1050.5Z" fill="#5ea6dc" stroke="#3d82c4" stroke-width="0.8"/>
<path d="M523.5 1072 L523.5 1072 L527.2 1085.9 L531 1093.4 L534.7 1097.5 L538.5 1099.5 L542.2 1100.4 L545.9 1100.7 L549.7 1100.6 L553.4 1100.3 L557.1 1099.9 L560.9 1099.5 L564.6 1099 L568.4 1098.5 L572.1 1098 L575.8 1097.4 L579.6 1096.9 L583.3 1096.4 L587 1095.8 L590.8 1095.3 L594.5 1094.8 L598.2 1094.2 L602 1093.7 L605.7 1093.1 L609.5 1092.6 L613.2 1092.1 L616.9 1091.5 L620.7 1091 L624.4 1090.4 L628.1 1089.9 L631.9 1089.3 L635.6 1088.8 L639.4 1088.1 L643.1 1087.5 L646.8 1086.7 L650.6 1085.7 L654.3 1084.3 L658 1082.3 L661.8 1079.2 L665.5 1074.1 L669.3 1065.5 L673 1050.5 L673 1050.5Z" fill="#93c6e9" stroke="#5f9fd0" stroke-width="0.8"/>
<path d="M523.5 1072 L523.5 1072 L527.2 1084.7 L531 1090.9 L534.7 1093.8 L538.5 1095 L542.2 1095.4 L545.9 1095.3 L549.7 1095 L553.4 1094.5 L557.1 1094.1 L560.9 1093.6 L564.6 1093 L568.4 1092.5 L572.1 1092 L575.8 1091.4 L579.6 1090.9 L583.3 1090.4 L587 1089.8 L590.8 1089.3 L594.5 1088.8 L598.2 1088.2 L602 1087.7 L605.7 1087.1 L609.5 1086.6 L613.2 1086.1 L616.9 1085.5 L620.7 1085 L624.4 1084.5 L628.1 1083.9 L631.9 1083.4 L635.6 1082.8 L639.4 1082.3 L643.1 1081.7 L646.8 1081 L650.6 1080.3 L654.3 1079.3 L658 1077.9 L661.8 1075.6 L665.5 1071.6 L669.3 1064.3 L673 1050.5 L673 1050.5Z" fill="#c3def1" stroke="#8db8da" stroke-width="0.8"/>
<path d="M523.5 1072 L523.5 1072 L527.2 1083.3 L531 1087.9 L534.7 1089.6 L538.5 1090.1 L542.2 1089.9 L545.9 1089.6 L549.7 1089.1 L553.4 1088.6 L557.1 1088.1 L560.9 1087.6 L564.6 1087.1 L568.4 1086.5 L572.1 1086 L575.8 1085.4 L579.6 1084.9 L583.3 1084.4 L587 1083.8 L590.8 1083.3 L594.5 1082.8 L598.2 1082.2 L602 1081.7 L605.7 1081.1 L609.5 1080.6 L613.2 1080.1 L616.9 1079.5 L620.7 1079 L624.4 1078.5 L628.1 1077.9 L631.9 1077.4 L635.6 1076.9 L639.4 1076.3 L643.1 1075.8 L646.8 1075.2 L650.6 1074.6 L654.3 1073.8 L658 1072.9 L661.8 1071.4 L665.5 1068.6 L669.3 1062.9 L673 1050.5 L673 1050.5Z" fill="#f0f0f0"/>
<path d="M523.5 1072 L523.5 1072 L527.2 1079.3 L531 1081.5 L534.7 1081.9 L538.5 1081.6 L542.2 1081.2 L545.9 1080.7 L549.7 1080.2 L553.4 1079.7 L557.1 1079.1 L560.9 1078.6 L564.6 1078.1 L568.4 1077.5 L572.1 1077 L575.8 1076.4 L579.6 1075.9 L583.3 1075.4 L587 1074.8 L590.8 1074.3 L594.5 1073.8 L598.2 1073.2 L602 1072.7 L605.7 1072.1 L609.5 1071.6 L613.2 1071.1 L616.9 1070.5 L620.7 1070 L624.4 1069.5 L628.1 1068.9 L631.9 1068.4 L635.6 1067.9 L639.4 1067.3 L643.1 1066.8 L646.8 1066.2 L650.6 1065.7 L654.3 1065.1 L658 1064.5 L661.8 1063.6 L665.5 1062.1 L669.3 1058.9 L673 1050.5 L673 1050.5Z" fill="#f6dccd"/>
<path d="M523.5 1072 L523.5 1072 L527.2 1075.3 L531 1075.6 L534.7 1075.3 L538.5 1074.8 L542.2 1074.3 L545.9 1073.7 L549.7 1073.2 L553.4 1072.7 L557.1 1072.1 L560.9 1071.6 L564.6 1071.1 L568.4 1070.5 L572.1 1070 L575.8 1069.4 L579.6 1068.9 L583.3 1068.4 L587 1067.8 L590.8 1067.3 L594.5 1066.8 L598.2 1066.2 L602 1065.7 L605.7 1065.1 L609.5 1064.6 L613.2 1064.1 L616.9 1063.5 L620.7 1063 L624.4 1062.5 L628.1 1061.9 L631.9 1061.4 L635.6 1060.9 L639.4 1060.3 L643.1 1059.8 L646.8 1059.2 L650.6 1058.7 L654.3 1058.2 L658 1057.6 L661.8 1057 L665.5 1056.3 L669.3 1054.9 L673 1050.5 L673 1050.5Z" fill="#f0a88a"/>
<path d="M523.2 1072 L673.6 1050.4" stroke="#bb2a2e" stroke-width="2.4" fill="none"/>
<line x1="518.2" y1="1082" x2="677.8" y2="1064.8" stroke="#1b4a80" stroke-width="2.4"/>
<line x1="517.5" y1="1096" x2="676.6" y2="1078.8" stroke="#1b4a80" stroke-width="2.4"/>
<line x1="516.7" y1="1110" x2="675.4" y2="1092.8" stroke="#1b4a80" stroke-width="2.4"/>
<line x1="516" y1="1138" x2="674.2" y2="1120.8" stroke="#1b4a80" stroke-width="3.0"/>
<line x1="515.2" y1="1166" x2="673" y2="1148.8" stroke="#1b4a80" stroke-width="3.0"/>
<line x1="514.5" y1="1193.5" x2="671.8" y2="1176.3" stroke="#1b4a80" stroke-width="3.0"/>
<line x1="513.7" y1="1221" x2="670.6" y2="1203.8" stroke="#1b4a80" stroke-width="3.0"/>
<line x1="513" y1="1248.5" x2="669.4" y2="1231.3" stroke="#1b4a80" stroke-width="3.0"/>
<line x1="512.2" y1="1276" x2="668.2" y2="1258.8" stroke="#1b4a80" stroke-width="3.0"/>
<path d="M600 1059 L594.5 1292" stroke="#14345a" stroke-width="3.2" fill="none"/>
<path d="M524.3 1072.5 L523.6 1083" stroke="#111" stroke-width="3" fill="none"/><path d="M672.6 1051.5 L671.8 1063" stroke="#111" stroke-width="3" fill="none"/>
<linearGradient id="il" x1="0" y1="0" x2="0" y2="1"><stop offset="0" stop-color="#b2182b"/><stop offset="0.2" stop-color="#ef8a62"/><stop offset="0.45" stop-color="#fddbc7"/><stop offset="0.55" stop-color="#f7f7f7"/><stop offset="0.7" stop-color="#d1e5f0"/><stop offset="0.85" stop-color="#67a9cf"/><stop offset="1" stop-color="#2166ac"/></linearGradient>
<rect x="689" y="1061" width="9" height="120" fill="url(#il)"/>
<text class="sans" x="690.5" y="1056" font-size="5.6" fill="#555">Temperature</text>
<text class="sans" x="702.5" y="1067.5" font-size="5.6" fill="#444">2000</text>
<text class="sans" x="702.5" y="1075.5" font-size="5.6" fill="#444">1882.14</text>
<text class="sans" x="702.5" y="1083.6" font-size="5.6" fill="#444">1764.29</text>
<text class="sans" x="702.5" y="1091.7" font-size="5.6" fill="#444">1646.43</text>
<text class="sans" x="702.5" y="1099.7" font-size="5.6" fill="#444">1528.57</text>
<text class="sans" x="702.5" y="1107.8" font-size="5.6" fill="#444">1410.71</text>
<text class="sans" x="702.5" y="1115.8" font-size="5.6" fill="#444">1292.86</text>
<text class="sans" x="702.5" y="1123.8" font-size="5.6" fill="#444">1175</text>
<text class="sans" x="702.5" y="1131.9" font-size="5.6" fill="#444">1057.14</text>
<text class="sans" x="702.5" y="1140" font-size="5.6" fill="#444">939.286</text>
<text class="sans" x="702.5" y="1148" font-size="5.6" fill="#444">821.429</text>
<text class="sans" x="702.5" y="1156" font-size="5.6" fill="#444">703.571</text>
<text class="sans" x="702.5" y="1164.1" font-size="5.6" fill="#444">585.714</text>
<text class="sans" x="702.5" y="1172.2" font-size="5.6" fill="#444">467.857</text>
<text class="sans" x="702.5" y="1180.2" font-size="5.6" fill="#444">350</text>
<text class="sans" x="689.5" y="1190.5" font-size="5.2" fill="#666">[°C]</text>
<text x="693.5" y="1310" font-size="47" fill="#1a1a1a" stroke="#1a1a1a" stroke-width="0.4">(b)</text>
</g>
<g id="linechart">
<linearGradient id="cg" x1="0" y1="0" x2="0" y2="1"><stop offset="0" stop-color="#ffffff"/><stop offset="0.12" stop-color="#fafefe"/><stop offset="0.45" stop-color="#d6fcfd"/><stop offset="0.6" stop-color="#d6fcfd"/><stop offset="0.92" stop-color="#fbffff"/><stop offset="1" stop-color="#ffffff"/></linearGradient>
<rect x="996.6" y="791.3" width="713.4" height="574.7" fill="url(#cg)" stroke="#5a5a5a" stroke-width="3"/>
<line x1="996.6" y1="1261.9" x2="1007.6" y2="1261.9" stroke="#444" stroke-width="2"/>
<line x1="996.6" y1="1157.3" x2="1007.6" y2="1157.3" stroke="#444" stroke-width="2"/>
<line x1="996.6" y1="1052.7" x2="1007.6" y2="1052.7" stroke="#444" stroke-width="2"/>
<line x1="996.6" y1="948.1" x2="1007.6" y2="948.1" stroke="#444" stroke-width="2"/>
<line x1="996.6" y1="843.5" x2="1007.6" y2="843.5" stroke="#444" stroke-width="2"/>
<text class="b" x="984" y="1374" font-size="23" text-anchor="end" fill="#1a1a1a">0</text>
<text class="b" x="984" y="1269.4" font-size="23" text-anchor="end" fill="#1a1a1a">2</text>
<text class="b" x="984" y="1164.8" font-size="23" text-anchor="end" fill="#1a1a1a">4</text>
<text class="b" x="984" y="1060.2" font-size="23" text-anchor="end" fill="#1a1a1a">6</text>
<text class="b" x="984" y="955.6" font-size="23" text-anchor="end" fill="#1a1a1a">8</text>
<text class="b" x="984" y="851" font-size="23" text-anchor="end" fill="#1a1a1a">10</text>
<line x1="1049.8" y1="1366" x2="1049.8" y2="1355" stroke="#444" stroke-width="2"/>
<text class="b" x="1049.8" y="1397" font-size="24" text-anchor="middle" fill="#1a1a1a">3.69</text>
<line x1="1254.5" y1="1366" x2="1254.5" y2="1355" stroke="#444" stroke-width="2"/>
<text class="b" x="1254.5" y="1397" font-size="24" text-anchor="middle" fill="#1a1a1a">4.22</text>
<line x1="1459.1" y1="1366" x2="1459.1" y2="1355" stroke="#444" stroke-width="2"/>
<text class="b" x="1459.1" y="1397" font-size="24" text-anchor="middle" fill="#1a1a1a">4.75</text>
<line x1="1659" y1="1366" x2="1659" y2="1355" stroke="#444" stroke-width="2"/>
<text class="b" x="1659" y="1397" font-size="24" text-anchor="middle" fill="#1a1a1a">5.27</text>
<line x1="1049.8" y1="1265.6" x2="1659" y2="833" stroke="#1c1c1c" stroke-width="2.6"/>
<line x1="1049.8" y1="1293.2" x2="1659" y2="900" stroke="#ff2a2a" stroke-width="2.6"/>
<line x1="1049.8" y1="1334.6" x2="1659" y2="1299.5" stroke="#2aa3ff" stroke-width="2.6"/>
<rect x="1044.3" y="1251.3" width="11" height="11" fill="#3c3c3c"/>
<rect x="1249" y="1133.9" width="11" height="11" fill="#3c3c3c"/>
<rect x="1453.6" y="959.7" width="11" height="11" fill="#3c3c3c"/>
<rect x="1653.5" y="826" width="11" height="11" fill="#3c3c3c"/>
<circle cx="1049.8" cy="1287.7" r="6.2" fill="#f03434"/>
<circle cx="1254.5" cy="1178.6" r="6.2" fill="#f03434"/>
<circle cx="1459.1" cy="1015.9" r="6.2" fill="#f03434"/>
<circle cx="1659" cy="900" r="6.2" fill="#f03434"/>
<path d="M1049.8 1325.4 L1057.8 1339.4 L1041.8 1339.4Z" fill="#1f6fe0"/>
<path d="M1254.5 1313.3 L1262.5 1327.3 L1246.5 1327.3Z" fill="#1f6fe0"/>
<path d="M1459.1 1305.3 L1467.1 1319.3 L1451.1 1319.3Z" fill="#1f6fe0"/>
<path d="M1659 1289 L1667 1303 L1651 1303Z" fill="#1f6fe0"/>
<rect x="1064.1" y="836.3" width="13" height="13" fill="#3c3c3c"/>
<circle cx="1070.6" cy="879.1" r="7" fill="#f03434"/>
<path d="M1070.6 905 L1079.1 919.9 L1062.1 919.9Z" fill="#1f6fe0"/>
<line x1="1043" y1="944.9" x2="1099.4" y2="944.9" stroke="#2aa3ff" stroke-width="2.6"/>
<line x1="1043" y1="980.7" x2="1099.4" y2="980.7" stroke="#ff2a2a" stroke-width="2.6"/>
<line x1="1043" y1="1017.1" x2="1099.4" y2="1017.1" stroke="#1c1c1c" stroke-width="2.6"/>
<text x="1105.5" y="850" font-size="23.5" fill="#2c2c2c" stroke="#2c2c2c" stroke-width="0.4">h<tspan font-size="15" dy="5">1</tspan></text>
<text x="1105.5" y="886.5" font-size="23.5" fill="#2c2c2c" stroke="#2c2c2c" stroke-width="0.4">h<tspan font-size="15" dy="5">2</tspan></text>
<text x="1105.5" y="922" font-size="23.5" fill="#2c2c2c" stroke="#2c2c2c" stroke-width="0.4" textLength="208" lengthAdjust="spacingAndGlyphs">Depth of mushy zone</text>
<text x="1105.5" y="952.5" font-size="23.5" fill="#2c2c2c" stroke="#2c2c2c" stroke-width="0.4">Fitting h<tspan font-size="15" dy="5">1</tspan></text>
<text x="1105.5" y="988.5" font-size="23.5" fill="#2c2c2c" stroke="#2c2c2c" stroke-width="0.4">Fitting h<tspan font-size="15" dy="5">2</tspan></text>
<text x="1105.5" y="1025" font-size="23.5" fill="#2c2c2c" stroke="#2c2c2c" stroke-width="0.4" textLength="274" lengthAdjust="spacingAndGlyphs">Fitting depth of mushy zone</text>
<text class="b" x="0" y="0" font-size="29" text-anchor="middle" fill="#1a1a1a" transform="translate(947 1077) rotate(-90)">Depth/cm</text>
<text class="b" x="1226" y="1436" font-size="29" fill="#1a1a1a" textLength="254" lengthAdjust="spacingAndGlyphs">Pulling speed/1×10<tspan font-size="17" dy="-11">-4</tspan></text>
<text x="1635" y="1347" font-size="47" fill="#1a1a1a" stroke="#1a1a1a" stroke-width="0.4">(c)</text>
</g>
</g>
</svg></body></html>
